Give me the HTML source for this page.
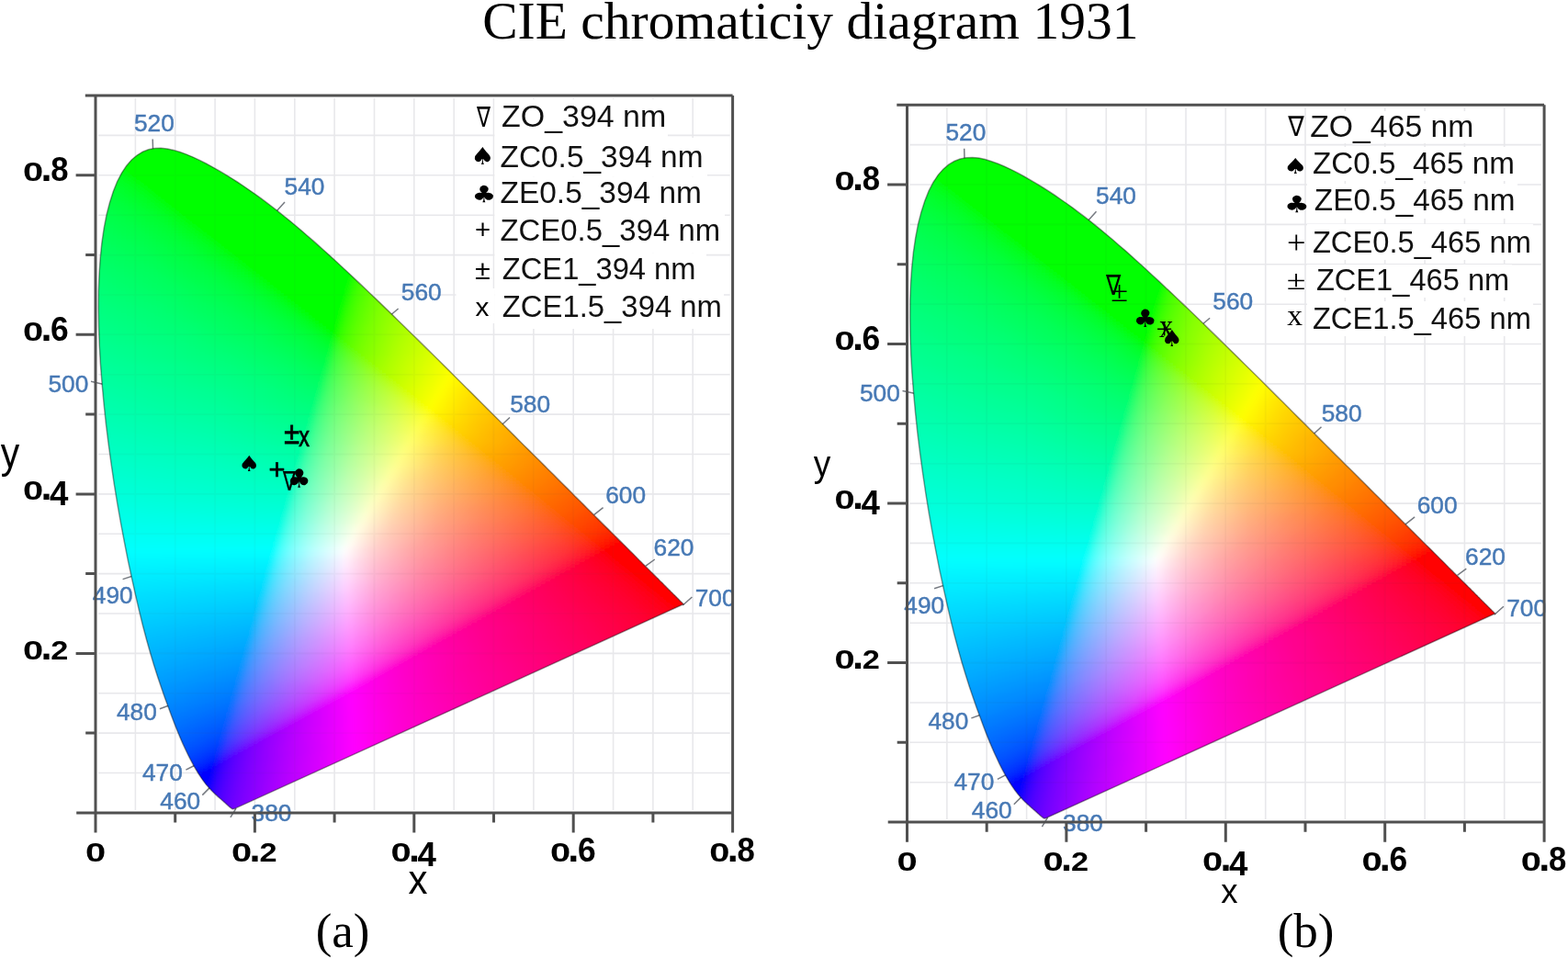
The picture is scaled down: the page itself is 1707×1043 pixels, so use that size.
<!DOCTYPE html>
<html lang="en"><head><meta charset="utf-8"><title>CIE chromaticiy diagram 1931</title>
<style>
html,body{margin:0;padding:0;background:#fff;overflow:hidden}
svg{display:block}
.ser{font-family:"Liberation Serif","DejaVu Serif",serif}
.san{font-family:"Liberation Sans","DejaVu Sans",sans-serif}
.wl{font-family:"Liberation Sans","DejaVu Sans",sans-serif;font-size:26.3px;fill:#4779b5;stroke:#4779b5;stroke-width:.45px}
.tk{font-family:"Liberation Sans","DejaVu Sans",sans-serif;font-weight:bold;font-size:33px;fill:#000}
.lg{font-family:"Liberation Sans","DejaVu Sans",sans-serif;font-size:32.6px;fill:#111}
.mk{font-family:"DejaVu Sans","Liberation Sans",sans-serif;fill:#000}
.grid{stroke:#e8e8eb;stroke-width:1.6;fill:none}
.ax{stroke:#505050;stroke-width:3;fill:none}
.wt{stroke:#777b82;stroke-width:1.5;fill:none}
</style></head><body>
<svg width="1707" height="1043" viewBox="0 0 1707 1043">
<defs>
<clipPath id="locus"><path d="M151.0,-4.3 150.5,-4.3 150.0,-4.1 149.5,-4.2 149.0,-4.2 148.4,-4.5 147.9,-4.9 147.4,-5.2 147.0,-5.6 146.4,-6.0 145.8,-6.5 145.1,-7.1 144.7,-7.4 144.3,-7.8 143.9,-8.2 143.5,-8.6 143.0,-9.0 142.5,-9.4 142.0,-9.9 141.5,-10.4 140.9,-10.9 140.3,-11.4 139.7,-12.0 139.0,-12.6 138.3,-13.2 137.5,-13.9 136.7,-14.6 135.8,-15.4 134.9,-16.1 134.0,-17.0 133.0,-17.8 132.0,-18.8 130.9,-19.7 129.8,-20.8 128.6,-21.9 127.4,-23.1 126.1,-24.4 124.8,-25.8 123.5,-27.2 122.1,-28.8 120.6,-30.5 119.1,-32.5 117.5,-34.6 115.8,-37.0 113.9,-39.8 111.9,-42.9 109.8,-46.4 107.6,-50.1 105.3,-54.3 102.9,-58.8 100.4,-63.8 97.8,-69.3 95.0,-75.3 92.1,-82.0 89.1,-89.2 85.9,-97.2 82.6,-105.8 79.2,-115.1 75.5,-125.2 71.7,-136.1 67.7,-147.9 63.7,-160.5 59.6,-174.1 55.5,-188.7 51.4,-204.1 47.4,-220.5 43.4,-237.7 39.4,-255.9 35.3,-275.0 31.4,-294.9 27.5,-315.5 23.8,-336.6 20.3,-358.1 17.1,-379.8 14.1,-401.7 11.4,-423.6 9.1,-445.4 7.1,-467.1 5.4,-488.5 4.2,-509.4 3.5,-529.6 3.2,-549.2 3.3,-568.1 4.0,-586.4 5.2,-604.0 6.9,-620.6 9.2,-636.3 12.0,-650.9 15.4,-664.2 19.3,-676.4 23.6,-687.2 28.5,-696.6 33.7,-704.5 39.3,-710.9 45.2,-715.9 51.4,-719.6 57.8,-722.1 64.4,-723.4 71.1,-723.7 78.0,-723.0 84.9,-721.5 91.9,-719.4 99.0,-716.8 106.1,-713.8 113.2,-710.5 120.3,-706.9 127.3,-703.1 134.1,-699.2 140.9,-695.2 147.6,-691.1 154.2,-686.9 160.7,-682.6 167.2,-678.1 173.7,-673.6 180.1,-669.0 186.4,-664.2 192.8,-659.4 199.1,-654.5 205.4,-649.4 211.7,-644.3 217.9,-639.1 224.2,-633.8 230.4,-628.4 236.7,-623.0 242.9,-617.5 249.1,-611.9 255.3,-606.3 261.5,-600.6 267.7,-594.9 273.9,-589.2 280.1,-583.3 286.3,-577.5 292.5,-571.6 298.7,-565.7 304.9,-559.8 311.1,-553.8 317.3,-547.8 323.5,-541.8 329.7,-535.7 335.9,-529.7 342.0,-523.7 348.2,-517.6 354.4,-511.5 360.5,-505.5 366.7,-499.4 372.8,-493.4 378.9,-487.3 385.0,-481.3 391.1,-475.2 397.1,-469.2 403.1,-463.2 409.1,-457.3 415.1,-451.3 421.0,-445.4 426.9,-439.5 432.8,-433.7 438.6,-427.9 444.3,-422.2 450.0,-416.5 455.7,-410.8 461.3,-405.2 466.8,-399.7 472.3,-394.3 477.7,-388.9 483.1,-383.6 488.4,-378.3 493.5,-373.2 498.7,-368.1 503.7,-363.0 508.6,-358.1 513.5,-353.3 518.2,-348.6 522.7,-344.0 527.2,-339.6 531.5,-335.3 535.6,-331.2 539.7,-327.1 543.6,-323.2 547.5,-319.3 551.3,-315.5 555.0,-311.8 558.6,-308.3 562.0,-304.9 565.3,-301.6 568.5,-298.5 571.5,-295.5 574.4,-292.6 577.2,-289.8 579.9,-287.1 582.5,-284.5 585.0,-282.1 587.4,-279.7 589.6,-277.4 591.8,-275.2 593.9,-273.2 595.8,-271.2 597.7,-269.3 599.5,-267.5 601.4,-265.7 603.2,-263.9 604.9,-262.2 606.5,-260.6 608.1,-259.0 609.6,-257.5 611.0,-256.1 612.4,-254.8 613.7,-253.5 614.9,-252.2 616.2,-251.0 617.4,-249.8 618.5,-248.6 619.6,-247.5 620.7,-246.5 621.7,-245.4 622.7,-244.5 623.6,-243.5 624.5,-242.6 625.4,-241.8 626.2,-240.9 627.0,-240.2 627.8,-239.4 628.5,-238.7 629.1,-238.0 629.8,-237.4 630.4,-236.8 630.9,-236.3 631.4,-235.7 631.9,-235.3 632.4,-234.8 632.8,-234.3 633.3,-233.9 633.7,-233.5 634.1,-233.1 634.4,-232.8 634.8,-232.4 635.1,-232.1 635.7,-231.5 636.1,-231.0 636.5,-230.6 636.9,-230.3 637.2,-229.9 637.6,-229.6 638.0,-229.2 638.4,-228.8 638.8,-228.4 639.1,-228.0 639.5,-227.7 639.8,-227.4 640.1,-227.1Z"/></clipPath>
<linearGradient id="r0" gradientUnits="userSpaceOnUse" x1="43" x2="99"><stop offset="0" stop-color="#0f0"/><stop offset="1" stop-color="#0f0"/></linearGradient>
<linearGradient id="r1" gradientUnits="userSpaceOnUse" x1="36" x2="108"><stop offset="0" stop-color="#0f0"/><stop offset="1" stop-color="#0f0"/></linearGradient>
<linearGradient id="r2" gradientUnits="userSpaceOnUse" x1="32" x2="116"><stop offset="0" stop-color="#0f0"/><stop offset="1" stop-color="#0f0"/></linearGradient>
<linearGradient id="r3" gradientUnits="userSpaceOnUse" x1="28" x2="122"><stop offset="0" stop-color="#0f0"/><stop offset="1" stop-color="#0f0"/></linearGradient>
<linearGradient id="r4" gradientUnits="userSpaceOnUse" x1="25" x2="129"><stop offset="0" stop-color="#0f0"/><stop offset="1" stop-color="#0f0"/></linearGradient>
<linearGradient id="r5" gradientUnits="userSpaceOnUse" x1="22" x2="134"><stop offset="0" stop-color="#0f0"/><stop offset="1" stop-color="#0f0"/></linearGradient>
<linearGradient id="r6" gradientUnits="userSpaceOnUse" x1="20" x2="140"><stop offset="0" stop-color="#0f0"/><stop offset="1" stop-color="#0f0"/></linearGradient>
<linearGradient id="r7" gradientUnits="userSpaceOnUse" x1="18" x2="145"><stop offset="0" stop-color="#0f0"/><stop offset="1" stop-color="#0f0"/></linearGradient>
<linearGradient id="r8" gradientUnits="userSpaceOnUse" x1="16" x2="150"><stop offset="0" stop-color="#00ff0d"/><stop offset=".037" stop-color="#0f0"/><stop offset="1" stop-color="#0f0"/></linearGradient>
<linearGradient id="r9" gradientUnits="userSpaceOnUse" x1="15" x2="155"><stop offset="0" stop-color="#00ff15"/><stop offset=".071" stop-color="#0f0"/><stop offset="1" stop-color="#0f0"/></linearGradient>
<linearGradient id="r10" gradientUnits="userSpaceOnUse" x1="13" x2="160"><stop offset="0" stop-color="#00ff1c"/><stop offset=".054" stop-color="#00ff12"/><stop offset=".109" stop-color="#0f0"/><stop offset="1" stop-color="#0f0"/></linearGradient>
<linearGradient id="r11" gradientUnits="userSpaceOnUse" x1="12" x2="165"><stop offset="0" stop-color="#0f2"/><stop offset=".072" stop-color="#00ff15"/><stop offset=".137" stop-color="#0f0"/><stop offset="1" stop-color="#0f0"/></linearGradient>
<linearGradient id="r12" gradientUnits="userSpaceOnUse" x1="10" x2="170"><stop offset="0" stop-color="#00ff27"/><stop offset=".1" stop-color="#00ff16"/><stop offset=".163" stop-color="#0f0"/><stop offset="1" stop-color="#0f0"/></linearGradient>
<linearGradient id="r13" gradientUnits="userSpaceOnUse" x1="9" x2="174"><stop offset="0" stop-color="#00ff2b"/><stop offset=".127" stop-color="#00ff16"/><stop offset=".188" stop-color="#0f0"/><stop offset="1" stop-color="#0f0"/></linearGradient>
<linearGradient id="r14" gradientUnits="userSpaceOnUse" x1="8" x2="178"><stop offset="0" stop-color="#00ff2e"/><stop offset=".129" stop-color="#00ff1b"/><stop offset=".212" stop-color="#0f0"/><stop offset="1" stop-color="#0f0"/></linearGradient>
<linearGradient id="r15" gradientUnits="userSpaceOnUse" x1="7" x2="183"><stop offset="0" stop-color="#00ff32"/><stop offset=".153" stop-color="#00ff1b"/><stop offset=".233" stop-color="#0f0"/><stop offset="1" stop-color="#0f0"/></linearGradient>
<linearGradient id="r16" gradientUnits="userSpaceOnUse" x1="6" x2="187"><stop offset="0" stop-color="#00ff35"/><stop offset=".171" stop-color="#00ff1c"/><stop offset=".21" stop-color="#00ff12"/><stop offset=".254" stop-color="#0f0"/><stop offset="1" stop-color="#0f0"/></linearGradient>
<linearGradient id="r17" gradientUnits="userSpaceOnUse" x1="5" x2="191"><stop offset="0" stop-color="#00ff38"/><stop offset=".194" stop-color="#00ff1c"/><stop offset=".242" stop-color="#00ff0d"/><stop offset=".269" stop-color="#0f0"/><stop offset="1" stop-color="#0f0"/></linearGradient>
<linearGradient id="r18" gradientUnits="userSpaceOnUse" x1="4" x2="195"><stop offset="0" stop-color="#00ff3a"/><stop offset=".11" stop-color="#00ff2e"/><stop offset=".209" stop-color="#00ff1d"/><stop offset=".246" stop-color="#00ff13"/><stop offset=".288" stop-color="#0f0"/><stop offset="1" stop-color="#0f0"/></linearGradient>
<linearGradient id="r19" gradientUnits="userSpaceOnUse" x1="3" x2="199"><stop offset="0" stop-color="#00ff3d"/><stop offset=".133" stop-color="#00ff2e"/><stop offset=".224" stop-color="#00ff1e"/><stop offset=".27" stop-color="#0f1"/><stop offset=".306" stop-color="#0f0"/><stop offset="1" stop-color="#0f0"/></linearGradient>
<linearGradient id="r20" gradientUnits="userSpaceOnUse" x1="2" x2="203"><stop offset="0" stop-color="#00ff40"/><stop offset=".199" stop-color="#00ff27"/><stop offset=".279" stop-color="#00ff14"/><stop offset=".323" stop-color="#0f0"/><stop offset="1" stop-color="#0f0"/></linearGradient>
<linearGradient id="r21" gradientUnits="userSpaceOnUse" x1="1" x2="207"><stop offset="0" stop-color="#00ff42"/><stop offset=".223" stop-color="#00ff26"/><stop offset=".296" stop-color="#00ff14"/><stop offset=".335" stop-color="#0f0"/><stop offset="1" stop-color="#0f0"/></linearGradient>
<linearGradient id="r22" gradientUnits="userSpaceOnUse" x1="1" x2="211"><stop offset="0" stop-color="#0f4"/><stop offset=".238" stop-color="#00ff26"/><stop offset=".3" stop-color="#00ff17"/><stop offset=".348" stop-color="#0f0"/><stop offset="1" stop-color="#0f0"/></linearGradient>
<linearGradient id="r23" gradientUnits="userSpaceOnUse" x1="0" x2="215"><stop offset="0" stop-color="#00ff46"/><stop offset=".14" stop-color="#00ff38"/><stop offset=".256" stop-color="#00ff26"/><stop offset=".321" stop-color="#00ff15"/><stop offset=".363" stop-color="#0f0"/><stop offset="1" stop-color="#0f0"/></linearGradient>
<linearGradient id="r24" gradientUnits="userSpaceOnUse" x1="-1" x2="218"><stop offset="0" stop-color="#00ff49"/><stop offset=".137" stop-color="#00ff3b"/><stop offset=".279" stop-color="#00ff25"/><stop offset=".342" stop-color="#00ff13"/><stop offset=".379" stop-color="#0f0"/><stop offset="1" stop-color="#0f0"/></linearGradient>
<linearGradient id="r25" gradientUnits="userSpaceOnUse" x1="-1" x2="222"><stop offset="0" stop-color="#00ff4a"/><stop offset=".161" stop-color="#00ff3a"/><stop offset=".26" stop-color="#00ff2b"/><stop offset=".327" stop-color="#00ff1c"/><stop offset=".39" stop-color="#0f0"/><stop offset="1" stop-color="#0f0"/></linearGradient>
<linearGradient id="r26" gradientUnits="userSpaceOnUse" x1="-2" x2="226"><stop offset="0" stop-color="#00ff4d"/><stop offset=".18" stop-color="#00ff3a"/><stop offset=".276" stop-color="#00ff2b"/><stop offset=".36" stop-color="#00ff16"/><stop offset=".399" stop-color="#0f0"/><stop offset="1" stop-color="#0f0"/></linearGradient>
<linearGradient id="r27" gradientUnits="userSpaceOnUse" x1="-3" x2="229"><stop offset="0" stop-color="#00ff4f"/><stop offset=".168" stop-color="#00ff3e"/><stop offset=".289" stop-color="#00ff2c"/><stop offset=".379" stop-color="#00ff14"/><stop offset=".414" stop-color="#0f0"/><stop offset="1" stop-color="#0f0"/></linearGradient>
<linearGradient id="r28" gradientUnits="userSpaceOnUse" x1="-3" x2="233"><stop offset="0" stop-color="#00ff50"/><stop offset=".199" stop-color="#00ff3c"/><stop offset=".301" stop-color="#00ff2c"/><stop offset=".381" stop-color="#00ff17"/><stop offset=".424" stop-color="#0f0"/><stop offset="1" stop-color="#0f0"/></linearGradient>
<linearGradient id="r29" gradientUnits="userSpaceOnUse" x1="-4" x2="236"><stop offset="0" stop-color="#00ff52"/><stop offset=".125" stop-color="#00ff47"/><stop offset=".317" stop-color="#00ff2c"/><stop offset=".388" stop-color="#00ff1a"/><stop offset=".438" stop-color="#0f0"/><stop offset="1" stop-color="#0f0"/></linearGradient>
<linearGradient id="r30" gradientUnits="userSpaceOnUse" x1="-4" x2="240"><stop offset="0" stop-color="#00ff54"/><stop offset=".168" stop-color="#0f4"/><stop offset=".328" stop-color="#00ff2c"/><stop offset=".41" stop-color="#00ff15"/><stop offset=".443" stop-color="#0f0"/><stop offset="1" stop-color="#0f0"/></linearGradient>
<linearGradient id="r31" gradientUnits="userSpaceOnUse" x1="-5" x2="243"><stop offset="0" stop-color="#00ff56"/><stop offset=".169" stop-color="#00ff46"/><stop offset=".323" stop-color="#00ff30"/><stop offset=".407" stop-color="#00ff1b"/><stop offset=".456" stop-color="#0f0"/><stop offset="1" stop-color="#0f0"/></linearGradient>
<linearGradient id="r32" gradientUnits="userSpaceOnUse" x1="-5" x2="247"><stop offset="0" stop-color="#00ff58"/><stop offset=".167" stop-color="#00ff48"/><stop offset=".333" stop-color="#00ff30"/><stop offset=".413" stop-color="#00ff1c"/><stop offset=".444" stop-color="#00ff0e"/><stop offset=".464" stop-color="#0f0"/><stop offset="1" stop-color="#0f0"/></linearGradient>
<linearGradient id="r33" gradientUnits="userSpaceOnUse" x1="-5" x2="250"><stop offset="0" stop-color="#00ff59"/><stop offset=".173" stop-color="#00ff49"/><stop offset=".329" stop-color="#0f3"/><stop offset=".424" stop-color="#00ff1c"/><stop offset=".451" stop-color="#00ff10"/><stop offset=".475" stop-color="#0f0"/><stop offset="1" stop-color="#0f0"/></linearGradient>
<linearGradient id="r34" gradientUnits="userSpaceOnUse" x1="-6" x2="254"><stop offset="0" stop-color="#00ff5b"/><stop offset=".208" stop-color="#00ff47"/><stop offset=".342" stop-color="#0f3"/><stop offset=".442" stop-color="#00ff19"/><stop offset=".485" stop-color="#0f0"/><stop offset="1" stop-color="#0f0"/></linearGradient>
<linearGradient id="r35" gradientUnits="userSpaceOnUse" x1="-6" x2="257"><stop offset="0" stop-color="#00ff5c"/><stop offset=".205" stop-color="#00ff49"/><stop offset=".354" stop-color="#0f3"/><stop offset=".441" stop-color="#00ff1d"/><stop offset=".471" stop-color="#00ff0f"/><stop offset=".49" stop-color="#0f0"/><stop offset="1" stop-color="#0f0"/></linearGradient>
<linearGradient id="r36" gradientUnits="userSpaceOnUse" x1="-6" x2="260"><stop offset="0" stop-color="#00ff5e"/><stop offset=".203" stop-color="#00ff4b"/><stop offset=".35" stop-color="#00ff36"/><stop offset=".451" stop-color="#00ff1d"/><stop offset=".477" stop-color="#0f1"/><stop offset=".5" stop-color="#0f0"/><stop offset="1" stop-color="#0f0"/></linearGradient>
<linearGradient id="r37" gradientUnits="userSpaceOnUse" x1="-7" x2="264"><stop offset="0" stop-color="#00ff60"/><stop offset=".21" stop-color="#00ff4c"/><stop offset=".373" stop-color="#00ff34"/><stop offset=".458" stop-color="#00ff1e"/><stop offset=".491" stop-color="#00ff0e"/><stop offset=".509" stop-color="#0f0"/><stop offset="1" stop-color="#0f0"/></linearGradient>
<linearGradient id="r38" gradientUnits="userSpaceOnUse" x1="-7" x2="267"><stop offset="0" stop-color="#00ff61"/><stop offset=".208" stop-color="#00ff4e"/><stop offset=".383" stop-color="#00ff34"/><stop offset=".467" stop-color="#00ff1e"/><stop offset=".496" stop-color="#00ff10"/><stop offset=".518" stop-color="#0f0"/><stop offset="1" stop-color="#0f0"/></linearGradient>
<linearGradient id="r39" gradientUnits="userSpaceOnUse" x1="-7" x2="270"><stop offset="0" stop-color="#00ff63"/><stop offset=".213" stop-color="#00ff4f"/><stop offset=".379" stop-color="#00ff37"/><stop offset=".484" stop-color="#00ff1b"/><stop offset=".502" stop-color="#00ff12"/><stop offset=".523" stop-color="#0f0"/><stop offset="1" stop-color="#0f0"/></linearGradient>
<linearGradient id="r40" gradientUnits="userSpaceOnUse" x1="-7" x2="274"><stop offset="0" stop-color="#00ff64"/><stop offset=".235" stop-color="#00ff4e"/><stop offset=".399" stop-color="#00ff35"/><stop offset=".48" stop-color="#00ff1f"/><stop offset=".512" stop-color="#00ff0f"/><stop offset=".53" stop-color="#0f0"/><stop offset="1" stop-color="#0f0"/></linearGradient>
<linearGradient id="r41" gradientUnits="userSpaceOnUse" x1="-8" x2="277"><stop offset="0" stop-color="#0f6"/><stop offset=".189" stop-color="#0f5"/><stop offset=".368" stop-color="#00ff3d"/><stop offset=".491" stop-color="#00ff1f"/><stop offset=".523" stop-color="#00ff0f"/><stop offset=".54" stop-color="#0f0"/><stop offset="1" stop-color="#0f0"/></linearGradient>
<linearGradient id="r42" gradientUnits="userSpaceOnUse" x1="-8" x2="280"><stop offset="0" stop-color="#00ff67"/><stop offset=".222" stop-color="#00ff53"/><stop offset=".396" stop-color="#00ff3a"/><stop offset=".497" stop-color="#00ff20"/><stop offset=".528" stop-color="#0f1"/><stop offset=".549" stop-color="#0f0"/><stop offset="1" stop-color="#0f0"/></linearGradient>
<linearGradient id="r43" gradientUnits="userSpaceOnUse" x1="-8" x2="283"><stop offset="0" stop-color="#00ff69"/><stop offset=".227" stop-color="#00ff54"/><stop offset=".395" stop-color="#00ff3c"/><stop offset=".505" stop-color="#00ff20"/><stop offset=".54" stop-color="#00ff0e"/><stop offset=".557" stop-color="#0f0"/><stop offset="1" stop-color="#0f0"/></linearGradient>
<linearGradient id="r44" gradientUnits="userSpaceOnUse" x1="-8" x2="287"><stop offset="0" stop-color="#00ff6a"/><stop offset=".231" stop-color="#0f5"/><stop offset=".393" stop-color="#00ff3e"/><stop offset=".508" stop-color="#00ff21"/><stop offset=".542" stop-color="#00ff10"/><stop offset=".559" stop-color="#0f0"/><stop offset=".983" stop-color="#0f0"/><stop offset=".986" stop-color="#02ff00"/><stop offset=".993" stop-color="#19ff00"/><stop offset="1" stop-color="#25ff00"/></linearGradient>
<linearGradient id="r45" gradientUnits="userSpaceOnUse" x1="-8" x2="290"><stop offset="0" stop-color="#00ff6b"/><stop offset=".218" stop-color="#00ff58"/><stop offset=".409" stop-color="#00ff3d"/><stop offset=".517" stop-color="#00ff21"/><stop offset=".547" stop-color="#00ff12"/><stop offset=".567" stop-color="#0f0"/><stop offset=".973" stop-color="#0f0"/><stop offset=".977" stop-color="#0eff00"/><stop offset=".983" stop-color="#1eff00"/><stop offset="1" stop-color="#35ff00"/></linearGradient>
<linearGradient id="r46" gradientUnits="userSpaceOnUse" x1="-9" x2="293"><stop offset="0" stop-color="#00ff6d"/><stop offset=".225" stop-color="#00ff59"/><stop offset=".411" stop-color="#00ff3f"/><stop offset=".526" stop-color="#00ff21"/><stop offset=".553" stop-color="#00ff14"/><stop offset=".576" stop-color="#0f0"/><stop offset=".96" stop-color="#0f0"/><stop offset=".967" stop-color="#16ff00"/><stop offset=".974" stop-color="#23ff00"/><stop offset="1" stop-color="#41ff00"/></linearGradient>
<linearGradient id="r47" gradientUnits="userSpaceOnUse" x1="-9" x2="296"><stop offset="0" stop-color="#00ff6e"/><stop offset=".23" stop-color="#00ff5a"/><stop offset=".42" stop-color="#00ff3f"/><stop offset=".531" stop-color="#0f2"/><stop offset=".564" stop-color="#0f1"/><stop offset=".584" stop-color="#0f0"/><stop offset=".948" stop-color="#0f0"/><stop offset=".954" stop-color="#15ff00"/><stop offset=".964" stop-color="#28ff00"/><stop offset=".977" stop-color="#38ff00"/><stop offset="1" stop-color="#4bff00"/></linearGradient>
<linearGradient id="r48" gradientUnits="userSpaceOnUse" x1="-9" x2="299"><stop offset="0" stop-color="#00ff70"/><stop offset=".234" stop-color="#00ff5b"/><stop offset=".435" stop-color="#00ff3e"/><stop offset=".539" stop-color="#0f2"/><stop offset=".568" stop-color="#00ff13"/><stop offset=".588" stop-color="#0f0"/><stop offset=".935" stop-color="#0f0"/><stop offset=".945" stop-color="#1bff00"/><stop offset=".955" stop-color="#2cff00"/><stop offset=".974" stop-color="#41ff00"/><stop offset="1" stop-color="#54ff00"/></linearGradient>
<linearGradient id="r49" gradientUnits="userSpaceOnUse" x1="-9" x2="302"><stop offset="0" stop-color="#00ff71"/><stop offset=".248" stop-color="#00ff5b"/><stop offset=".434" stop-color="#00ff40"/><stop offset=".547" stop-color="#0f2"/><stop offset=".572" stop-color="#00ff15"/><stop offset=".595" stop-color="#0f0"/><stop offset=".923" stop-color="#0f0"/><stop offset=".926" stop-color="#05ff00"/><stop offset=".929" stop-color="#12ff00"/><stop offset=".936" stop-color="#21ff00"/><stop offset=".952" stop-color="#37ff00"/><stop offset="1" stop-color="#5cff00"/></linearGradient>
<linearGradient id="r50" gradientUnits="userSpaceOnUse" x1="-9" x2="306"><stop offset="0" stop-color="#00ff72"/><stop offset=".251" stop-color="#00ff5c"/><stop offset=".448" stop-color="#00ff3f"/><stop offset=".549" stop-color="#00ff23"/><stop offset=".584" stop-color="#00ff10"/><stop offset=".6" stop-color="#0f0"/><stop offset=".908" stop-color="#0f0"/><stop offset=".911" stop-color="#02ff00"/><stop offset=".914" stop-color="#10ff00"/><stop offset=".921" stop-color="#20ff00"/><stop offset=".933" stop-color="#3f0"/><stop offset=".965" stop-color="#50ff00"/><stop offset="1" stop-color="#6f0"/></linearGradient>
<linearGradient id="r51" gradientUnits="userSpaceOnUse" x1="-9" x2="309"><stop offset="0" stop-color="#00ff74"/><stop offset=".255" stop-color="#00ff5d"/><stop offset=".447" stop-color="#00ff41"/><stop offset=".557" stop-color="#00ff23"/><stop offset=".588" stop-color="#00ff12"/><stop offset=".607" stop-color="#0f0"/><stop offset=".899" stop-color="#0f0"/><stop offset=".903" stop-color="#0eff00"/><stop offset=".909" stop-color="#1fff00"/><stop offset=".931" stop-color="#3dff00"/><stop offset=".956" stop-color="#52ff00"/><stop offset="1" stop-color="#6cff00"/></linearGradient>
<linearGradient id="r52" gradientUnits="userSpaceOnUse" x1="-9" x2="312"><stop offset="0" stop-color="#00ff75"/><stop offset=".268" stop-color="#00ff5d"/><stop offset=".445" stop-color="#00ff43"/><stop offset=".523" stop-color="#00ff31"/><stop offset=".564" stop-color="#00ff23"/><stop offset=".592" stop-color="#00ff14"/><stop offset=".614" stop-color="#0f0"/><stop offset=".888" stop-color="#0f0"/><stop offset=".897" stop-color="#1eff00"/><stop offset=".916" stop-color="#39ff00"/><stop offset=".944" stop-color="#52ff00"/><stop offset="1" stop-color="#73ff00"/></linearGradient>
<linearGradient id="r53" gradientUnits="userSpaceOnUse" x1="-9" x2="315"><stop offset="0" stop-color="#00ff76"/><stop offset=".281" stop-color="#00ff5d"/><stop offset=".444" stop-color="#00ff45"/><stop offset=".512" stop-color="#00ff36"/><stop offset=".571" stop-color="#00ff23"/><stop offset=".602" stop-color="#0f1"/><stop offset=".617" stop-color="#0f0"/><stop offset=".877" stop-color="#0f0"/><stop offset=".886" stop-color="#1dff00"/><stop offset=".907" stop-color="#3cff00"/><stop offset=".935" stop-color="#54ff00"/><stop offset="1" stop-color="#79ff00"/></linearGradient>
<linearGradient id="r54" gradientUnits="userSpaceOnUse" x1="-9" x2="318"><stop offset="0" stop-color="#00ff78"/><stop offset=".284" stop-color="#00ff5e"/><stop offset=".459" stop-color="#0f4"/><stop offset=".535" stop-color="#00ff32"/><stop offset=".575" stop-color="#00ff24"/><stop offset=".606" stop-color="#00ff13"/><stop offset=".624" stop-color="#0f0"/><stop offset=".865" stop-color="#0f0"/><stop offset=".872" stop-color="#14ff00"/><stop offset=".881" stop-color="#28ff00"/><stop offset=".905" stop-color="#45ff00"/><stop offset=".951" stop-color="#6f0"/><stop offset="1" stop-color="#7fff00"/></linearGradient>
<linearGradient id="r55" gradientUnits="userSpaceOnUse" x1="-9" x2="321"><stop offset="0" stop-color="#00ff79"/><stop offset=".297" stop-color="#00ff5e"/><stop offset=".458" stop-color="#00ff46"/><stop offset=".57" stop-color="#00ff29"/><stop offset=".609" stop-color="#00ff15"/><stop offset=".63" stop-color="#0f0"/><stop offset=".855" stop-color="#0f0"/><stop offset=".858" stop-color="#05ff00"/><stop offset=".864" stop-color="#1bff00"/><stop offset=".873" stop-color="#2cff00"/><stop offset=".9" stop-color="#4aff00"/><stop offset=".939" stop-color="#6f0"/><stop offset="1" stop-color="#85ff00"/></linearGradient>
<linearGradient id="r56" gradientUnits="userSpaceOnUse" x1="-9" x2="324"><stop offset="0" stop-color="#00ff7a"/><stop offset=".309" stop-color="#00ff5e"/><stop offset=".471" stop-color="#00ff45"/><stop offset=".547" stop-color="#0f3"/><stop offset=".589" stop-color="#00ff24"/><stop offset=".613" stop-color="#00ff17"/><stop offset=".637" stop-color="#0f0"/><stop offset=".844" stop-color="#0f0"/><stop offset=".847" stop-color="#02ff00"/><stop offset=".853" stop-color="#1aff00"/><stop offset=".859" stop-color="#26ff00"/><stop offset=".886" stop-color="#47ff00"/><stop offset=".928" stop-color="#6f0"/><stop offset="1" stop-color="#8aff00"/></linearGradient>
<linearGradient id="r57" gradientUnits="userSpaceOnUse" x1="-9" x2="327"><stop offset="0" stop-color="#00ff7b"/><stop offset=".223" stop-color="#00ff69"/><stop offset=".47" stop-color="#00ff47"/><stop offset=".583" stop-color="#00ff29"/><stop offset=".625" stop-color="#00ff12"/><stop offset=".64" stop-color="#0f0"/><stop offset=".836" stop-color="#0f0"/><stop offset=".839" stop-color="#0fff00"/><stop offset=".845" stop-color="#20ff00"/><stop offset=".86" stop-color="#37ff00"/><stop offset=".875" stop-color="#47ff00"/><stop offset=".929" stop-color="#6dff00"/><stop offset="1" stop-color="#90ff00"/></linearGradient>
<linearGradient id="r58" gradientUnits="userSpaceOnUse" x1="-9" x2="331"><stop offset="0" stop-color="#00ff7d"/><stop offset=".274" stop-color="#00ff65"/><stop offset=".468" stop-color="#00ff49"/><stop offset=".585" stop-color="#00ff2a"/><stop offset=".626" stop-color="#00ff14"/><stop offset=".644" stop-color="#0f0"/><stop offset=".824" stop-color="#0f0"/><stop offset=".829" stop-color="#17ff00"/><stop offset=".835" stop-color="#25ff00"/><stop offset=".844" stop-color="#3f0"/><stop offset=".868" stop-color="#4cff00"/><stop offset=".932" stop-color="#7f0"/><stop offset="1" stop-color="#96ff00"/></linearGradient>
<linearGradient id="r59" gradientUnits="userSpaceOnUse" x1="-9" x2="334"><stop offset="0" stop-color="#00ff7e"/><stop offset=".268" stop-color="#00ff67"/><stop offset=".461" stop-color="#00ff4c"/><stop offset=".542" stop-color="#00ff3a"/><stop offset=".592" stop-color="#00ff2a"/><stop offset=".63" stop-color="#00ff16"/><stop offset=".65" stop-color="#0f0"/><stop offset=".813" stop-color="#0f0"/><stop offset=".822" stop-color="#1eff00"/><stop offset=".831" stop-color="#2eff00"/><stop offset=".866" stop-color="#53ff00"/><stop offset=".921" stop-color="#7f0"/><stop offset="1" stop-color="#9cff00"/></linearGradient>
<linearGradient id="r60" gradientUnits="userSpaceOnUse" x1="-9" x2="337"><stop offset="0" stop-color="#00ff7f"/><stop offset=".234" stop-color="#00ff6c"/><stop offset=".41" stop-color="#00ff56"/><stop offset=".526" stop-color="#00ff40"/><stop offset=".598" stop-color="#00ff2a"/><stop offset=".639" stop-color="#00ff13"/><stop offset=".656" stop-color="#0f0"/><stop offset=".803" stop-color="#0f0"/><stop offset=".812" stop-color="#1cff00"/><stop offset=".824" stop-color="#32ff00"/><stop offset=".855" stop-color="#53ff00"/><stop offset=".91" stop-color="#7f0"/><stop offset="1" stop-color="#a1ff00"/></linearGradient>
<linearGradient id="r61" gradientUnits="userSpaceOnUse" x1="-9" x2="340"><stop offset="0" stop-color="#00ff81"/><stop offset=".238" stop-color="#00ff6d"/><stop offset=".427" stop-color="#0f5"/><stop offset=".521" stop-color="#00ff43"/><stop offset=".605" stop-color="#00ff2a"/><stop offset=".642" stop-color="#00ff15"/><stop offset=".662" stop-color="#0f0"/><stop offset=".794" stop-color="#0f0"/><stop offset=".797" stop-color="#05ff00"/><stop offset=".802" stop-color="#1bff00"/><stop offset=".811" stop-color="#2dff00"/><stop offset=".828" stop-color="#43ff00"/><stop offset=".848" stop-color="#5f0"/><stop offset=".914" stop-color="#7fff00"/><stop offset="1" stop-color="#a6ff00"/></linearGradient>
<linearGradient id="r62" gradientUnits="userSpaceOnUse" x1="-9" x2="343"><stop offset="0" stop-color="#00ff82"/><stop offset=".202" stop-color="#00ff72"/><stop offset=".418" stop-color="#00ff58"/><stop offset=".545" stop-color="#00ff3f"/><stop offset=".611" stop-color="#00ff2a"/><stop offset=".648" stop-color="#00ff15"/><stop offset=".665" stop-color="#0f0"/><stop offset=".784" stop-color="#0f0"/><stop offset=".787" stop-color="#02ff00"/><stop offset=".79" stop-color="#1f0"/><stop offset=".795" stop-color="#21ff00"/><stop offset=".807" stop-color="#35ff00"/><stop offset=".838" stop-color="#5f0"/><stop offset=".915" stop-color="#85ff00"/><stop offset="1" stop-color="#af0"/></linearGradient>
<linearGradient id="r63" gradientUnits="userSpaceOnUse" x1="-9" x2="346"><stop offset="0" stop-color="#00ff83"/><stop offset=".225" stop-color="#00ff71"/><stop offset=".434" stop-color="#00ff57"/><stop offset=".541" stop-color="#00ff42"/><stop offset=".617" stop-color="#00ff2a"/><stop offset=".648" stop-color="#00ff19"/><stop offset=".67" stop-color="#0f0"/><stop offset=".777" stop-color="#0f0"/><stop offset=".783" stop-color="#19ff00"/><stop offset=".794" stop-color="#30ff00"/><stop offset=".828" stop-color="#5f0"/><stop offset=".865" stop-color="#6fff00"/><stop offset=".91" stop-color="#8f0"/><stop offset="1" stop-color="#afff00"/></linearGradient>
<linearGradient id="r64" gradientUnits="userSpaceOnUse" x1="-9" x2="349"><stop offset="0" stop-color="#00ff85"/><stop offset=".268" stop-color="#00ff6e"/><stop offset=".455" stop-color="#0f5"/><stop offset=".556" stop-color="#00ff40"/><stop offset=".623" stop-color="#00ff2a"/><stop offset=".659" stop-color="#00ff14"/><stop offset=".676" stop-color="#0f0"/><stop offset=".768" stop-color="#0f0"/><stop offset=".774" stop-color="#18ff00"/><stop offset=".782" stop-color="#2bff00"/><stop offset=".799" stop-color="#42ff00"/><stop offset=".821" stop-color="#57ff00"/><stop offset=".855" stop-color="#6fff00"/><stop offset=".905" stop-color="#8bff00"/><stop offset="1" stop-color="#b4ff00"/></linearGradient>
<linearGradient id="r65" gradientUnits="userSpaceOnUse" x1="-9" x2="352"><stop offset="0" stop-color="#00ff86"/><stop offset=".233" stop-color="#00ff73"/><stop offset=".44" stop-color="#00ff59"/><stop offset=".56" stop-color="#00ff41"/><stop offset=".629" stop-color="#00ff2a"/><stop offset=".662" stop-color="#00ff16"/><stop offset=".681" stop-color="#0f0"/><stop offset=".759" stop-color="#0f0"/><stop offset=".767" stop-color="#1eff00"/><stop offset=".776" stop-color="#2fff00"/><stop offset=".812" stop-color="#57ff00"/><stop offset=".881" stop-color="#84ff00"/><stop offset="1" stop-color="#b9ff00"/></linearGradient>
<linearGradient id="r66" gradientUnits="userSpaceOnUse" x1="-9" x2="355"><stop offset="0" stop-color="#00ff87"/><stop offset=".247" stop-color="#00ff73"/><stop offset=".456" stop-color="#00ff58"/><stop offset=".563" stop-color="#00ff42"/><stop offset=".635" stop-color="#00ff2a"/><stop offset=".665" stop-color="#00ff18"/><stop offset=".684" stop-color="#0f0"/><stop offset=".75" stop-color="#0f0"/><stop offset=".758" stop-color="#1dff00"/><stop offset=".766" stop-color="#2eff00"/><stop offset=".777" stop-color="#3eff00"/><stop offset=".802" stop-color="#57ff00"/><stop offset=".876" stop-color="#87ff00"/><stop offset="1" stop-color="#beff00"/></linearGradient>
<linearGradient id="r67" gradientUnits="userSpaceOnUse" x1="-9" x2="358"><stop offset="0" stop-color="#0f8"/><stop offset=".289" stop-color="#00ff70"/><stop offset=".477" stop-color="#00ff56"/><stop offset=".559" stop-color="#00ff45"/><stop offset=".624" stop-color="#00ff31"/><stop offset=".668" stop-color="#00ff1a"/><stop offset=".689" stop-color="#0f0"/><stop offset=".741" stop-color="#0f0"/><stop offset=".744" stop-color="#05ff00"/><stop offset=".749" stop-color="#1cff00"/><stop offset=".76" stop-color="#32ff00"/><stop offset=".796" stop-color="#59ff00"/><stop offset=".837" stop-color="#76ff00"/><stop offset=".886" stop-color="#91ff00"/><stop offset="1" stop-color="#c2ff00"/></linearGradient>
<linearGradient id="r68" gradientUnits="userSpaceOnUse" x1="-9" x2="361"><stop offset="0" stop-color="#00ff8a"/><stop offset=".319" stop-color="#00ff6e"/><stop offset=".522" stop-color="#00ff4f"/><stop offset=".595" stop-color="#00ff3d"/><stop offset=".646" stop-color="#00ff2a"/><stop offset=".678" stop-color="#00ff15"/><stop offset=".695" stop-color="#0f0"/><stop offset=".732" stop-color="#0f0"/><stop offset=".735" stop-color="#02ff00"/><stop offset=".738" stop-color="#1f0"/><stop offset=".743" stop-color="#2f0"/><stop offset=".754" stop-color="#36ff00"/><stop offset=".786" stop-color="#59ff00"/><stop offset=".819" stop-color="#71ff00"/><stop offset=".881" stop-color="#94ff00"/><stop offset="1" stop-color="#c7ff00"/></linearGradient>
<linearGradient id="r69" gradientUnits="userSpaceOnUse" x1="-9" x2="364"><stop offset="0" stop-color="#00ff8b"/><stop offset=".287" stop-color="#00ff73"/><stop offset=".52" stop-color="#00ff51"/><stop offset=".638" stop-color="#00ff30"/><stop offset=".681" stop-color="#00ff17"/><stop offset=".7" stop-color="#0f0"/><stop offset=".727" stop-color="#0f0"/><stop offset=".729" stop-color="#0fff00"/><stop offset=".735" stop-color="#21ff00"/><stop offset=".751" stop-color="#3dff00"/><stop offset=".772" stop-color="#54ff00"/><stop offset=".81" stop-color="#71ff00"/><stop offset=".887" stop-color="#9cff00"/><stop offset="1" stop-color="#cbff00"/></linearGradient>
<linearGradient id="r70" gradientUnits="userSpaceOnUse" x1="-9" x2="367"><stop offset="0" stop-color="#00ff8c"/><stop offset=".309" stop-color="#00ff72"/><stop offset=".519" stop-color="#00ff53"/><stop offset=".58" stop-color="#00ff45"/><stop offset=".644" stop-color="#00ff30"/><stop offset=".684" stop-color="#00ff19"/><stop offset=".702" stop-color="#00ff01"/><stop offset=".718" stop-color="#0f0"/><stop offset=".726" stop-color="#20ff00"/><stop offset=".745" stop-color="#40ff00"/><stop offset=".771" stop-color="#5bff00"/><stop offset=".801" stop-color="#71ff00"/><stop offset=".883" stop-color="#9fff00"/><stop offset="1" stop-color="#d0ff00"/></linearGradient>
<linearGradient id="r71" gradientUnits="userSpaceOnUse" x1="-9" x2="370"><stop offset="0" stop-color="#00ff8d"/><stop offset=".285" stop-color="#00ff76"/><stop offset=".512" stop-color="#00ff56"/><stop offset=".583" stop-color="#00ff46"/><stop offset=".652" stop-color="#00ff2f"/><stop offset=".686" stop-color="#00ff1b"/><stop offset=".707" stop-color="#0f0"/><stop offset=".71" stop-color="#0f0"/><stop offset=".718" stop-color="#1fff00"/><stop offset=".734" stop-color="#3cff00"/><stop offset=".763" stop-color="#5bff00"/><stop offset=".792" stop-color="#71ff00"/><stop offset=".871" stop-color="#9eff00"/><stop offset="1" stop-color="#d5ff00"/></linearGradient>
<linearGradient id="r72" gradientUnits="userSpaceOnUse" x1="-9" x2="374"><stop offset="0" stop-color="#00ff8f"/><stop offset=".269" stop-color="#00ff79"/><stop offset=".48" stop-color="#00ff5d"/><stop offset=".619" stop-color="#00ff3d"/><stop offset=".671" stop-color="#00ff27"/><stop offset=".7" stop-color="#00ff10"/><stop offset=".708" stop-color="#1eff03"/><stop offset=".721" stop-color="#38ff00"/><stop offset=".747" stop-color="#56ff00"/><stop offset=".783" stop-color="#73ff00"/><stop offset=".888" stop-color="#acff00"/><stop offset="1" stop-color="#daff00"/></linearGradient>
<linearGradient id="r73" gradientUnits="userSpaceOnUse" x1="-9" x2="377"><stop offset="0" stop-color="#00ff90"/><stop offset=".272" stop-color="#00ff7a"/><stop offset=".466" stop-color="#00ff61"/><stop offset=".609" stop-color="#00ff42"/><stop offset=".661" stop-color="#00ff2f"/><stop offset=".692" stop-color="#00ff1c"/><stop offset=".694" stop-color="#05ff1a"/><stop offset=".697" stop-color="#14ff18"/><stop offset=".702" stop-color="#24ff12"/><stop offset=".712" stop-color="#37ff02"/><stop offset=".718" stop-color="#3fff00"/><stop offset=".738" stop-color="#56ff00"/><stop offset=".775" stop-color="#73ff00"/><stop offset=".876" stop-color="#abff00"/><stop offset="1" stop-color="#dfff00"/></linearGradient>
<linearGradient id="r74" gradientUnits="userSpaceOnUse" x1="-9" x2="380"><stop offset="0" stop-color="#00ff91"/><stop offset=".285" stop-color="#00ff7a"/><stop offset=".476" stop-color="#00ff61"/><stop offset=".602" stop-color="#00ff46"/><stop offset=".684" stop-color="#00ff25"/><stop offset=".686" stop-color="#02ff23"/><stop offset=".689" stop-color="#12ff22"/><stop offset=".694" stop-color="#23ff1e"/><stop offset=".707" stop-color="#3bff12"/><stop offset=".72" stop-color="#4bff00"/><stop offset=".766" stop-color="#73ff00"/><stop offset=".861" stop-color="#a9ff00"/><stop offset="1" stop-color="#e4ff00"/></linearGradient>
<linearGradient id="r75" gradientUnits="userSpaceOnUse" x1="-9" x2="383"><stop offset="0" stop-color="#00ff92"/><stop offset=".24" stop-color="#00ff80"/><stop offset=".454" stop-color="#0f6"/><stop offset=".605" stop-color="#00ff47"/><stop offset=".679" stop-color="#00ff2b"/><stop offset=".681" stop-color="#10ff29"/><stop offset=".686" stop-color="#22ff27"/><stop offset=".702" stop-color="#3eff1c"/><stop offset=".714" stop-color="#4dff0e"/><stop offset=".722" stop-color="#5f0"/><stop offset=".76" stop-color="#75ff00"/><stop offset=".86" stop-color="#adff00"/><stop offset="1" stop-color="#e8ff00"/></linearGradient>
<linearGradient id="r76" gradientUnits="userSpaceOnUse" x1="-9" x2="386"><stop offset="0" stop-color="#00ff94"/><stop offset=".233" stop-color="#00ff82"/><stop offset=".43" stop-color="#00ff6b"/><stop offset=".577" stop-color="#00ff50"/><stop offset=".671" stop-color="#00ff31"/><stop offset=".678" stop-color="#21ff2e"/><stop offset=".691" stop-color="#3aff26"/><stop offset=".711" stop-color="#53ff17"/><stop offset=".727" stop-color="#61ff00"/><stop offset=".752" stop-color="#75ff00"/><stop offset=".858" stop-color="#b1ff00"/><stop offset="1" stop-color="#edff00"/></linearGradient>
<linearGradient id="r77" gradientUnits="userSpaceOnUse" x1="-9" x2="389"><stop offset="0" stop-color="#00ff95"/><stop offset=".226" stop-color="#00ff84"/><stop offset=".427" stop-color="#00ff6d"/><stop offset=".563" stop-color="#0f5"/><stop offset=".663" stop-color="#00ff37"/><stop offset=".671" stop-color="#20ff34"/><stop offset=".688" stop-color="#41ff2b"/><stop offset=".714" stop-color="#5cff19"/><stop offset=".731" stop-color="#6bff00"/><stop offset=".744" stop-color="#75ff00"/><stop offset=".844" stop-color="#afff00"/><stop offset="1" stop-color="#f1ff00"/></linearGradient>
<linearGradient id="r78" gradientUnits="userSpaceOnUse" x1="-8" x2="392"><stop offset="0" stop-color="#00ff96"/><stop offset=".217" stop-color="#00ff86"/><stop offset=".422" stop-color="#00ff6f"/><stop offset=".565" stop-color="#00ff56"/><stop offset=".655" stop-color="#00ff3c"/><stop offset=".66" stop-color="#16ff3a"/><stop offset=".665" stop-color="#25ff38"/><stop offset=".677" stop-color="#3dff33"/><stop offset=".693" stop-color="#50ff2b"/><stop offset=".718" stop-color="#67ff19"/><stop offset=".733" stop-color="#73ff02"/><stop offset=".738" stop-color="#7f0"/><stop offset=".843" stop-color="#b3ff00"/><stop offset="1" stop-color="#f6ff00"/></linearGradient>
<linearGradient id="r79" gradientUnits="userSpaceOnUse" x1="-8" x2="395"><stop offset="0" stop-color="#00ff97"/><stop offset=".365" stop-color="#00ff78"/><stop offset=".514" stop-color="#00ff62"/><stop offset=".648" stop-color="#00ff41"/><stop offset=".65" stop-color="#05ff40"/><stop offset=".653" stop-color="#14ff3f"/><stop offset=".658" stop-color="#24ff3d"/><stop offset=".672" stop-color="#40ff37"/><stop offset=".707" stop-color="#65ff25"/><stop offset=".73" stop-color="#77ff0f"/><stop offset=".739" stop-color="#7eff00"/><stop offset=".841" stop-color="#b7ff00"/><stop offset="1" stop-color="#fbff00"/></linearGradient>
<linearGradient id="r80" gradientUnits="userSpaceOnUse" x1="-8" x2="398"><stop offset="0" stop-color="#0f9"/><stop offset=".384" stop-color="#0f7"/><stop offset=".522" stop-color="#00ff62"/><stop offset=".64" stop-color="#00ff45"/><stop offset=".643" stop-color="#02ff44"/><stop offset=".645" stop-color="#12ff43"/><stop offset=".65" stop-color="#23ff42"/><stop offset=".663" stop-color="#3cff3d"/><stop offset=".687" stop-color="#5aff33"/><stop offset=".724" stop-color="#79ff1a"/><stop offset=".732" stop-color="#7eff12"/><stop offset=".741" stop-color="#84ff00"/><stop offset=".84" stop-color="#bf0"/><stop offset="1" stop-color="#fffe00"/></linearGradient>
<linearGradient id="r81" gradientUnits="userSpaceOnUse" x1="-8" x2="401"><stop offset="0" stop-color="#00ff9a"/><stop offset=".23" stop-color="#00ff89"/><stop offset=".396" stop-color="#0f7"/><stop offset=".531" stop-color="#00ff62"/><stop offset=".636" stop-color="#00ff48"/><stop offset=".641" stop-color="#1bff47"/><stop offset=".645" stop-color="#29ff45"/><stop offset=".66" stop-color="#43ff40"/><stop offset=".687" stop-color="#61ff35"/><stop offset=".726" stop-color="#80ff1c"/><stop offset=".733" stop-color="#85ff15"/><stop offset=".746" stop-color="#8cff00"/><stop offset=".804" stop-color="#aeff00"/><stop offset=".875" stop-color="#d0ff00"/><stop offset=".988" stop-color="#ff0"/><stop offset="1" stop-color="#fffa00"/></linearGradient>
<linearGradient id="r82" gradientUnits="userSpaceOnUse" x1="-8" x2="404"><stop offset="0" stop-color="#00ff9b"/><stop offset=".211" stop-color="#00ff8c"/><stop offset=".383" stop-color="#00ff7a"/><stop offset=".534" stop-color="#00ff63"/><stop offset=".629" stop-color="#00ff4c"/><stop offset=".636" stop-color="#21ff4a"/><stop offset=".65" stop-color="#3fff46"/><stop offset=".68" stop-color="#61ff3b"/><stop offset=".711" stop-color="#7bff2b"/><stop offset=".733" stop-color="#8aff1a"/><stop offset=".75" stop-color="#94ff00"/><stop offset=".813" stop-color="#b7ff00"/><stop offset=".91" stop-color="#e4ff00"/><stop offset=".976" stop-color="#ff0"/><stop offset="1" stop-color="#fff500"/></linearGradient>
<linearGradient id="r83" gradientUnits="userSpaceOnUse" x1="-8" x2="407"><stop offset="0" stop-color="#00ff9c"/><stop offset=".193" stop-color="#00ff8f"/><stop offset=".388" stop-color="#00ff7b"/><stop offset=".516" stop-color="#00ff68"/><stop offset=".622" stop-color="#00ff50"/><stop offset=".627" stop-color="#18ff4f"/><stop offset=".631" stop-color="#27ff4d"/><stop offset=".651" stop-color="#49ff48"/><stop offset=".672" stop-color="#61ff40"/><stop offset=".72" stop-color="#87ff28"/><stop offset=".74" stop-color="#93ff17"/><stop offset=".754" stop-color="#9cff00"/><stop offset=".836" stop-color="#c7ff00"/><stop offset=".964" stop-color="#ff0"/><stop offset="1" stop-color="#fff100"/></linearGradient>
<linearGradient id="r84" gradientUnits="userSpaceOnUse" x1="-7" x2="410"><stop offset="0" stop-color="#00ff9e"/><stop offset=".218" stop-color="#00ff8e"/><stop offset=".398" stop-color="#00ff7b"/><stop offset=".523" stop-color="#00ff68"/><stop offset=".614" stop-color="#00ff54"/><stop offset=".624" stop-color="#26ff51"/><stop offset=".638" stop-color="#42ff4d"/><stop offset=".667" stop-color="#63ff44"/><stop offset=".719" stop-color="#8cff2b"/><stop offset=".739" stop-color="#98ff1c"/><stop offset=".755" stop-color="#a1ff00"/><stop offset=".82" stop-color="#c4ff00"/><stop offset=".952" stop-color="#ff0"/><stop offset="1" stop-color="#ffed00"/></linearGradient>
<linearGradient id="r85" gradientUnits="userSpaceOnUse" x1="-7" x2="413"><stop offset="0" stop-color="#00ff9f"/><stop offset=".352" stop-color="#00ff82"/><stop offset=".51" stop-color="#00ff6c"/><stop offset=".607" stop-color="#00ff57"/><stop offset=".61" stop-color="#06ff57"/><stop offset=".612" stop-color="#15ff56"/><stop offset=".617" stop-color="#25ff55"/><stop offset=".633" stop-color="#45ff50"/><stop offset=".66" stop-color="#63ff48"/><stop offset=".707" stop-color="#89ff35"/><stop offset=".74" stop-color="#9eff1e"/><stop offset=".752" stop-color="#a5ff0f"/><stop offset=".76" stop-color="#a9ff00"/><stop offset=".94" stop-color="#ff0"/><stop offset="1" stop-color="#ffe800"/></linearGradient>
<linearGradient id="r86" gradientUnits="userSpaceOnUse" x1="-7" x2="416"><stop offset="0" stop-color="#00ffa0"/><stop offset=".348" stop-color="#00ff84"/><stop offset=".489" stop-color="#00ff71"/><stop offset=".6" stop-color="#00ff5b"/><stop offset=".603" stop-color="#02ff5a"/><stop offset=".605" stop-color="#13ff5a"/><stop offset=".61" stop-color="#24ff58"/><stop offset=".617" stop-color="#35ff57"/><stop offset=".629" stop-color="#48ff53"/><stop offset=".664" stop-color="#6eff49"/><stop offset=".707" stop-color="#8eff37"/><stop offset=".742" stop-color="#a4ff20"/><stop offset=".754" stop-color="#aaff12"/><stop offset=".764" stop-color="#b0ff00"/><stop offset=".931" stop-color="#ff0"/><stop offset="1" stop-color="#ffe400"/></linearGradient>
<linearGradient id="r87" gradientUnits="userSpaceOnUse" x1="-7" x2="419"><stop offset="0" stop-color="#00ffa1"/><stop offset=".343" stop-color="#00ff86"/><stop offset=".493" stop-color="#00ff72"/><stop offset=".596" stop-color="#00ff5d"/><stop offset=".599" stop-color="#11ff5d"/><stop offset=".606" stop-color="#2aff5b"/><stop offset=".615" stop-color="#3dff59"/><stop offset=".629" stop-color="#51ff55"/><stop offset=".667" stop-color="#76ff4a"/><stop offset=".732" stop-color="#a3ff2b"/><stop offset=".751" stop-color="#adff1b"/><stop offset=".768" stop-color="#b6ff00"/><stop offset=".92" stop-color="#ff0"/><stop offset="1" stop-color="#ffe000"/></linearGradient>
<linearGradient id="r88" gradientUnits="userSpaceOnUse" x1="-7" x2="422"><stop offset="0" stop-color="#00ffa3"/><stop offset=".329" stop-color="#00ff89"/><stop offset=".471" stop-color="#0f7"/><stop offset=".59" stop-color="#00ff61"/><stop offset=".594" stop-color="#1aff60"/><stop offset=".599" stop-color="#29ff5f"/><stop offset=".613" stop-color="#44ff5b"/><stop offset=".629" stop-color="#59ff57"/><stop offset=".662" stop-color="#78ff4d"/><stop offset=".718" stop-color="#9fff36"/><stop offset=".748" stop-color="#b0ff22"/><stop offset=".772" stop-color="#bdff00"/><stop offset=".909" stop-color="#ff0"/><stop offset="1" stop-color="#ffdc00"/></linearGradient>
<linearGradient id="r89" gradientUnits="userSpaceOnUse" x1="-6" x2="425"><stop offset="0" stop-color="#00ffa4"/><stop offset=".376" stop-color="#00ff85"/><stop offset=".582" stop-color="#00ff64"/><stop offset=".587" stop-color="#19ff63"/><stop offset=".594" stop-color="#2eff61"/><stop offset=".603" stop-color="#40ff5f"/><stop offset=".622" stop-color="#59ff5b"/><stop offset=".668" stop-color="#83ff4d"/><stop offset=".719" stop-color="#a5ff38"/><stop offset=".756" stop-color="#baff1d"/><stop offset=".766" stop-color="#bfff10"/><stop offset=".773" stop-color="#c2ff00"/><stop offset=".898" stop-color="#ff0"/><stop offset="1" stop-color="#ffd800"/></linearGradient>
<linearGradient id="r90" gradientUnits="userSpaceOnUse" x1="-6" x2="428"><stop offset="0" stop-color="#00ffa5"/><stop offset=".306" stop-color="#00ff8e"/><stop offset=".435" stop-color="#00ff7f"/><stop offset=".576" stop-color="#00ff67"/><stop offset=".581" stop-color="#17ff66"/><stop offset=".588" stop-color="#2dff64"/><stop offset=".599" stop-color="#43ff62"/><stop offset=".613" stop-color="#56ff5f"/><stop offset=".65" stop-color="#7aff55"/><stop offset=".71" stop-color="#a4ff3f"/><stop offset=".742" stop-color="#b6ff2d"/><stop offset=".758" stop-color="#bfff1f"/><stop offset=".765" stop-color="#c3ff17"/><stop offset=".776" stop-color="#c9ff00"/><stop offset=".887" stop-color="#ff0"/><stop offset="1" stop-color="#ffd500"/></linearGradient>
<linearGradient id="r91" gradientUnits="userSpaceOnUse" x1="-6" x2="431"><stop offset="0" stop-color="#00ffa7"/><stop offset=".311" stop-color="#00ff8f"/><stop offset=".439" stop-color="#00ff80"/><stop offset=".57" stop-color="#00ff6a"/><stop offset=".572" stop-color="#06ff69"/><stop offset=".577" stop-color="#1fff68"/><stop offset=".584" stop-color="#32ff67"/><stop offset=".606" stop-color="#56ff62"/><stop offset=".645" stop-color="#7cff58"/><stop offset=".712" stop-color="#aaff40"/><stop offset=".737" stop-color="#b8ff33"/><stop offset=".762" stop-color="#c6ff1f"/><stop offset=".78" stop-color="#d0ff00"/><stop offset=".879" stop-color="#ff0"/><stop offset=".931" stop-color="#ffe800"/><stop offset="1" stop-color="#ffd100"/></linearGradient>
<linearGradient id="r92" gradientUnits="userSpaceOnUse" x1="-6" x2="434"><stop offset="0" stop-color="#00ffa8"/><stop offset=".316" stop-color="#00ff90"/><stop offset=".436" stop-color="#00ff82"/><stop offset=".564" stop-color="#00ff6d"/><stop offset=".566" stop-color="#02ff6c"/><stop offset=".57" stop-color="#1eff6b"/><stop offset=".58" stop-color="#36ff6a"/><stop offset=".593" stop-color="#4dff67"/><stop offset=".614" stop-color="#65ff62"/><stop offset=".666" stop-color="#91ff53"/><stop offset=".736" stop-color="#bdff36"/><stop offset=".768" stop-color="#ceff1c"/><stop offset=".775" stop-color="#d1ff12"/><stop offset=".782" stop-color="#d5ff01"/><stop offset=".784" stop-color="#d6ff00"/><stop offset=".868" stop-color="#ff0"/><stop offset=".92" stop-color="#ffe800"/><stop offset="1" stop-color="#ffcd00"/></linearGradient>
<linearGradient id="r93" gradientUnits="userSpaceOnUse" x1="-6" x2="437"><stop offset="0" stop-color="#00ffa9"/><stop offset=".321" stop-color="#00ff91"/><stop offset=".56" stop-color="#00ff6f"/><stop offset=".564" stop-color="#1cff6e"/><stop offset=".569" stop-color="#2bff6e"/><stop offset=".582" stop-color="#46ff6b"/><stop offset=".598" stop-color="#5bff67"/><stop offset=".655" stop-color="#8eff59"/><stop offset=".718" stop-color="#b7ff42"/><stop offset=".747" stop-color="#c7ff32"/><stop offset=".767" stop-color="#d2ff21"/><stop offset=".779" stop-color="#d8ff11"/><stop offset=".786" stop-color="#dbff00"/><stop offset=".858" stop-color="#ff0"/><stop offset=".926" stop-color="#ffe200"/><stop offset="1" stop-color="#ffca00"/></linearGradient>
<linearGradient id="r94" gradientUnits="userSpaceOnUse" x1="-5" x2="440"><stop offset="0" stop-color="#0fa"/><stop offset=".324" stop-color="#00ff92"/><stop offset=".553" stop-color="#00ff72"/><stop offset=".557" stop-color="#1bff71"/><stop offset=".564" stop-color="#30ff70"/><stop offset=".578" stop-color="#49ff6d"/><stop offset=".591" stop-color="#5bff6a"/><stop offset=".64" stop-color="#89ff5e"/><stop offset=".721" stop-color="#beff42"/><stop offset=".746" stop-color="#cbff35"/><stop offset=".769" stop-color="#d7ff23"/><stop offset=".778" stop-color="#dcff18"/><stop offset=".789" stop-color="#e2ff00"/><stop offset=".847" stop-color="#ff0"/><stop offset=".915" stop-color="#ffe200"/><stop offset="1" stop-color="#ffc600"/></linearGradient>
<linearGradient id="r95" gradientUnits="userSpaceOnUse" x1="-5" x2="443"><stop offset="0" stop-color="#00ffac"/><stop offset=".319" stop-color="#00ff94"/><stop offset=".547" stop-color="#00ff75"/><stop offset=".551" stop-color="#19ff74"/><stop offset=".558" stop-color="#2fff73"/><stop offset=".569" stop-color="#45ff71"/><stop offset=".585" stop-color="#5bff6d"/><stop offset=".636" stop-color="#8bff61"/><stop offset=".719" stop-color="#c1ff45"/><stop offset=".746" stop-color="#d0ff38"/><stop offset=".772" stop-color="#deff23"/><stop offset=".781" stop-color="#e3ff18"/><stop offset=".792" stop-color="#e8ff00"/><stop offset=".837" stop-color="#ff0"/><stop offset=".917" stop-color="#fd0"/><stop offset="1" stop-color="#ffc300"/></linearGradient>
<linearGradient id="r96" gradientUnits="userSpaceOnUse" x1="-5" x2="446"><stop offset="0" stop-color="#00ffad"/><stop offset=".304" stop-color="#00ff97"/><stop offset=".541" stop-color="#00ff78"/><stop offset=".548" stop-color="#21ff76"/><stop offset=".559" stop-color="#3dff74"/><stop offset=".588" stop-color="#65ff6f"/><stop offset=".639" stop-color="#92ff63"/><stop offset=".732" stop-color="#cdff42"/><stop offset=".776" stop-color="#e4ff23"/><stop offset=".785" stop-color="#e9ff17"/><stop offset=".796" stop-color="#efff00"/><stop offset=".829" stop-color="#fffe00"/><stop offset=".907" stop-color="#fd0"/><stop offset="1" stop-color="#ffbf00"/></linearGradient>
<linearGradient id="r97" gradientUnits="userSpaceOnUse" x1="-4" x2="449"><stop offset="0" stop-color="#00ffae"/><stop offset=".318" stop-color="#00ff97"/><stop offset=".534" stop-color="#00ff7a"/><stop offset=".536" stop-color="#06ff7a"/><stop offset=".541" stop-color="#20ff79"/><stop offset=".55" stop-color="#38ff78"/><stop offset=".563" stop-color="#4fff75"/><stop offset=".587" stop-color="#6cff70"/><stop offset=".645" stop-color="#9cff63"/><stop offset=".737" stop-color="#d5ff41"/><stop offset=".777" stop-color="#eaff25"/><stop offset=".792" stop-color="#f2ff0e"/><stop offset=".797" stop-color="#f4ff00"/><stop offset=".819" stop-color="#ff0"/><stop offset=".898" stop-color="#ffdc00"/><stop offset="1" stop-color="#ffbc00"/></linearGradient>
<linearGradient id="r98" gradientUnits="userSpaceOnUse" x1="-4" x2="452"><stop offset="0" stop-color="#00ffaf"/><stop offset=".303" stop-color="#00ff9a"/><stop offset=".529" stop-color="#00ff7d"/><stop offset=".531" stop-color="#03ff7d"/><stop offset=".533" stop-color="#14ff7c"/><stop offset=".537" stop-color="#26ff7c"/><stop offset=".546" stop-color="#3cff7a"/><stop offset=".57" stop-color="#60ff76"/><stop offset=".592" stop-color="#77ff71"/><stop offset=".645" stop-color="#a1ff65"/><stop offset=".691" stop-color="#beff57"/><stop offset=".757" stop-color="#e4ff38"/><stop offset=".785" stop-color="#f3ff20"/><stop offset=".794" stop-color="#f7ff12"/><stop offset=".8" stop-color="#fbff00"/><stop offset=".809" stop-color="#ff0"/><stop offset=".91" stop-color="#ffd400"/><stop offset="1" stop-color="#ffb900"/></linearGradient>
<linearGradient id="r99" gradientUnits="userSpaceOnUse" x1="-4" x2="455"><stop offset="0" stop-color="#00ffb1"/><stop offset=".318" stop-color="#00ff9a"/><stop offset=".525" stop-color="#00ff7f"/><stop offset=".527" stop-color="#12ff7f"/><stop offset=".529" stop-color="#1dff7f"/><stop offset=".538" stop-color="#37ff7d"/><stop offset=".562" stop-color="#5dff79"/><stop offset=".584" stop-color="#75ff75"/><stop offset=".66" stop-color="#b0ff62"/><stop offset=".712" stop-color="#d0ff51"/><stop offset=".752" stop-color="#e6ff3e"/><stop offset=".786" stop-color="#f8ff22"/><stop offset=".797" stop-color="#feff11"/><stop offset=".804" stop-color="#fffd00"/><stop offset=".88" stop-color="#ffdb00"/><stop offset="1" stop-color="#ffb500"/></linearGradient>
<linearGradient id="r100" gradientUnits="userSpaceOnUse" x1="-4" x2="458"><stop offset="0" stop-color="#00ffb2"/><stop offset=".292" stop-color="#00ff9e"/><stop offset=".519" stop-color="#00ff82"/><stop offset=".524" stop-color="#1cff81"/><stop offset=".535" stop-color="#3bff7f"/><stop offset=".556" stop-color="#5dff7c"/><stop offset=".578" stop-color="#75ff78"/><stop offset=".626" stop-color="#9dff6d"/><stop offset=".697" stop-color="#cbff59"/><stop offset=".738" stop-color="#e3ff48"/><stop offset=".773" stop-color="#f6ff32"/><stop offset=".794" stop-color="#fffd1c"/><stop offset=".807" stop-color="#fff600"/><stop offset=".892" stop-color="#ffd300"/><stop offset="1" stop-color="#ffb200"/></linearGradient>
<linearGradient id="r101" gradientUnits="userSpaceOnUse" x1="-3" x2="461"><stop offset="0" stop-color="#00ffb3"/><stop offset=".274" stop-color="#00ffa1"/><stop offset=".513" stop-color="#00ff85"/><stop offset=".519" stop-color="#23ff84"/><stop offset=".53" stop-color="#3fff82"/><stop offset=".55" stop-color="#5dff7e"/><stop offset=".569" stop-color="#73ff7b"/><stop offset=".625" stop-color="#a2ff6f"/><stop offset=".705" stop-color="#d5ff58"/><stop offset=".748" stop-color="#edff45"/><stop offset=".78" stop-color="#ffff2f"/><stop offset=".795" stop-color="#fff81e"/><stop offset=".802" stop-color="#fff413"/><stop offset=".808" stop-color="#fff101"/><stop offset=".81" stop-color="#fff000"/><stop offset=".901" stop-color="#fc0"/><stop offset="1" stop-color="#ffaf00"/></linearGradient>
<linearGradient id="r102" gradientUnits="userSpaceOnUse" x1="-3" x2="464"><stop offset="0" stop-color="#00ffb5"/><stop offset=".291" stop-color="#00ffa1"/><stop offset=".507" stop-color="#00ff87"/><stop offset=".514" stop-color="#22ff86"/><stop offset=".522" stop-color="#3aff85"/><stop offset=".535" stop-color="#51ff83"/><stop offset=".563" stop-color="#73ff7e"/><stop offset=".597" stop-color="#92ff77"/><stop offset=".638" stop-color="#b0ff6e"/><stop offset=".713" stop-color="#deff57"/><stop offset=".762" stop-color="#faff3f"/><stop offset=".773" stop-color="#ffff38"/><stop offset=".792" stop-color="#fff525"/><stop offset=".805" stop-color="#fe1"/><stop offset=".812" stop-color="#ffeb00"/><stop offset=".884" stop-color="#ffce00"/><stop offset="1" stop-color="#ffac00"/></linearGradient>
<linearGradient id="r103" gradientUnits="userSpaceOnUse" x1="-3" x2="467"><stop offset="0" stop-color="#00ffb6"/><stop offset=".274" stop-color="#00ffa4"/><stop offset=".502" stop-color="#00ff8a"/><stop offset=".504" stop-color="#06ff89"/><stop offset=".506" stop-color="#17ff89"/><stop offset=".511" stop-color="#28ff88"/><stop offset=".519" stop-color="#3eff87"/><stop offset=".536" stop-color="#5aff84"/><stop offset=".557" stop-color="#73ff81"/><stop offset=".585" stop-color="#8dff7b"/><stop offset=".634" stop-color="#b2ff71"/><stop offset=".711" stop-color="#e1ff5a"/><stop offset=".755" stop-color="#fbff45"/><stop offset=".764" stop-color="#ffff40"/><stop offset=".794" stop-color="#fff026"/><stop offset=".804" stop-color="#ffeb18"/><stop offset=".815" stop-color="#ffe600"/><stop offset=".891" stop-color="#ffc800"/><stop offset="1" stop-color="#ffa900"/></linearGradient>
<linearGradient id="r104" gradientUnits="userSpaceOnUse" x1="-2" x2="470"><stop offset="0" stop-color="#00ffb7"/><stop offset=".28" stop-color="#00ffa5"/><stop offset=".496" stop-color="#00ff8c"/><stop offset=".498" stop-color="#03ff8c"/><stop offset=".5" stop-color="#15ff8c"/><stop offset=".504" stop-color="#27ff8b"/><stop offset=".513" stop-color="#3dff8a"/><stop offset=".521" stop-color="#4dff88"/><stop offset=".549" stop-color="#71ff84"/><stop offset=".581" stop-color="#8fff7e"/><stop offset=".625" stop-color="#b1ff74"/><stop offset=".699" stop-color="#e0ff60"/><stop offset=".75" stop-color="#fdff4a"/><stop offset=".794" stop-color="#ffeb27"/><stop offset=".809" stop-color="#ffe413"/><stop offset=".818" stop-color="#ffe000"/><stop offset=".883" stop-color="#ffc700"/><stop offset="1" stop-color="#ffa500"/></linearGradient>
<linearGradient id="r105" gradientUnits="userSpaceOnUse" x1="-2" x2="473"><stop offset="0" stop-color="#00ffb9"/><stop offset=".286" stop-color="#00ffa6"/><stop offset=".493" stop-color="#00ff8e"/><stop offset=".497" stop-color="#1eff8e"/><stop offset=".507" stop-color="#3dff8c"/><stop offset=".531" stop-color="#62ff89"/><stop offset=".554" stop-color="#7cff85"/><stop offset=".617" stop-color="#b0ff78"/><stop offset=".678" stop-color="#d7ff69"/><stop offset=".743" stop-color="#feff50"/><stop offset=".798" stop-color="#ffe526"/><stop offset=".811" stop-color="#ffdf15"/><stop offset=".821" stop-color="#ffdb00"/><stop offset=".882" stop-color="#ffc400"/><stop offset="1" stop-color="#ffa200"/></linearGradient>
<linearGradient id="r106" gradientUnits="userSpaceOnUse" x1="-2" x2="476"><stop offset="0" stop-color="#00ffba"/><stop offset=".257" stop-color="#0fa"/><stop offset=".487" stop-color="#00ff91"/><stop offset=".49" stop-color="#10ff91"/><stop offset=".494" stop-color="#25ff90"/><stop offset=".504" stop-color="#41ff8f"/><stop offset=".525" stop-color="#62ff8b"/><stop offset=".546" stop-color="#7aff88"/><stop offset=".575" stop-color="#95ff83"/><stop offset=".632" stop-color="#bfff77"/><stop offset=".736" stop-color="#ffff56"/><stop offset=".799" stop-color="#ffe027"/><stop offset=".814" stop-color="#ffda14"/><stop offset=".822" stop-color="#ffd700"/><stop offset=".912" stop-color="#ffb700"/><stop offset="1" stop-color="#ff9f00"/></linearGradient>
<linearGradient id="r107" gradientUnits="userSpaceOnUse" x1="-1" x2="479"><stop offset="0" stop-color="#0fb"/><stop offset=".275" stop-color="#0fa"/><stop offset=".481" stop-color="#00ff94"/><stop offset=".487" stop-color="#24ff93"/><stop offset=".496" stop-color="#3cff91"/><stop offset=".508" stop-color="#53ff90"/><stop offset=".537" stop-color="#78ff8b"/><stop offset=".571" stop-color="#97ff85"/><stop offset=".627" stop-color="#c1ff7a"/><stop offset=".719" stop-color="#faff5f"/><stop offset=".729" stop-color="#fffe5b"/><stop offset=".8" stop-color="#ffdc28"/><stop offset=".817" stop-color="#ffd513"/><stop offset=".825" stop-color="#ffd200"/><stop offset=".904" stop-color="#ffb600"/><stop offset="1" stop-color="#ff9c00"/></linearGradient>
<linearGradient id="r108" gradientUnits="userSpaceOnUse" x1="-1" x2="482"><stop offset="0" stop-color="#00ffbd"/><stop offset=".294" stop-color="#0fa"/><stop offset=".476" stop-color="#00ff96"/><stop offset=".482" stop-color="#23ff95"/><stop offset=".493" stop-color="#40ff94"/><stop offset=".513" stop-color="#62ff91"/><stop offset=".532" stop-color="#78ff8e"/><stop offset=".586" stop-color="#a8ff84"/><stop offset=".656" stop-color="#d8ff75"/><stop offset=".714" stop-color="#fcff63"/><stop offset=".793" stop-color="#ffdb30"/><stop offset=".814" stop-color="#ffd21b"/><stop offset=".828" stop-color="#ffcd00"/><stop offset=".896" stop-color="#ffb500"/><stop offset="1" stop-color="#f90"/></linearGradient>
<linearGradient id="r109" gradientUnits="userSpaceOnUse" x1="-1" x2="485"><stop offset="0" stop-color="#00ffbe"/><stop offset=".239" stop-color="#00ffb0"/><stop offset=".471" stop-color="#00ff98"/><stop offset=".473" stop-color="#06ff98"/><stop offset=".475" stop-color="#17ff98"/><stop offset=".477" stop-color="#21ff98"/><stop offset=".486" stop-color="#3bff97"/><stop offset=".5" stop-color="#56ff94"/><stop offset=".525" stop-color="#76ff91"/><stop offset=".582" stop-color="#aaff87"/><stop offset=".712" stop-color="#ff6"/><stop offset=".796" stop-color="#ffd52f"/><stop offset=".817" stop-color="#ffcd1a"/><stop offset=".831" stop-color="#ffc800"/><stop offset="1" stop-color="#ff9600"/></linearGradient>
<linearGradient id="r110" gradientUnits="userSpaceOnUse" x1="0" x2="488"><stop offset="0" stop-color="#00ffbf"/><stop offset=".258" stop-color="#00ffb0"/><stop offset=".465" stop-color="#00ff9b"/><stop offset=".467" stop-color="#03ff9b"/><stop offset=".469" stop-color="#15ff9a"/><stop offset=".473" stop-color="#28ff9a"/><stop offset=".482" stop-color="#3fff99"/><stop offset=".5" stop-color="#5fff96"/><stop offset=".529" stop-color="#81ff92"/><stop offset=".596" stop-color="#baff86"/><stop offset=".703" stop-color="#ffff6b"/><stop offset=".801" stop-color="#ffcf2c"/><stop offset=".82" stop-color="#ffc819"/><stop offset=".834" stop-color="#ffc300"/><stop offset="1" stop-color="#ff9300"/></linearGradient>
<linearGradient id="r111" gradientUnits="userSpaceOnUse" x1="0" x2="491"><stop offset="0" stop-color="#00ffc1"/><stop offset=".279" stop-color="#00ffb0"/><stop offset=".462" stop-color="#00ff9d"/><stop offset=".464" stop-color="#13ff9d"/><stop offset=".466" stop-color="#1fff9d"/><stop offset=".479" stop-color="#43ff9b"/><stop offset=".495" stop-color="#5fff99"/><stop offset=".521" stop-color="#7fff95"/><stop offset=".585" stop-color="#b6ff8a"/><stop offset=".695" stop-color="#ffff70"/><stop offset=".798" stop-color="#ffcd30"/><stop offset=".823" stop-color="#ffc418"/><stop offset=".835" stop-color="#ffbf00"/><stop offset="1" stop-color="#ff9000"/></linearGradient>
<linearGradient id="r112" gradientUnits="userSpaceOnUse" x1="0" x2="494"><stop offset="0" stop-color="#00ffc2"/><stop offset=".261" stop-color="#00ffb3"/><stop offset=".457" stop-color="#00ffa0"/><stop offset=".46" stop-color="#11ff9f"/><stop offset=".464" stop-color="#26ff9f"/><stop offset=".472" stop-color="#3eff9e"/><stop offset=".482" stop-color="#52ff9c"/><stop offset=".514" stop-color="#7dff98"/><stop offset=".577" stop-color="#b5ff8e"/><stop offset=".688" stop-color="#fffe74"/><stop offset=".761" stop-color="#ffd849"/><stop offset=".802" stop-color="#ffc82f"/><stop offset=".826" stop-color="#ffbf17"/><stop offset=".838" stop-color="#fb0"/><stop offset="1" stop-color="#ff8d00"/></linearGradient>
<linearGradient id="r113" gradientUnits="userSpaceOnUse" x1="1" x2="497"><stop offset="0" stop-color="#00ffc3"/><stop offset=".268" stop-color="#00ffb4"/><stop offset=".452" stop-color="#00ffa2"/><stop offset=".456" stop-color="#1cffa2"/><stop offset=".458" stop-color="#25ffa1"/><stop offset=".468" stop-color="#42ffa0"/><stop offset=".478" stop-color="#55ff9f"/><stop offset=".506" stop-color="#7bff9b"/><stop offset=".573" stop-color="#b7ff90"/><stop offset=".679" stop-color="#ffff78"/><stop offset=".754" stop-color="#ffd74e"/><stop offset=".804" stop-color="#ffc32e"/><stop offset=".829" stop-color="#ffba16"/><stop offset=".841" stop-color="#ffb600"/><stop offset="1" stop-color="#ff8a00"/></linearGradient>
<linearGradient id="r114" gradientUnits="userSpaceOnUse" x1="1" x2="500"><stop offset="0" stop-color="#00ffc5"/><stop offset=".251" stop-color="#00ffb7"/><stop offset=".447" stop-color="#00ffa4"/><stop offset=".453" stop-color="#24ffa4"/><stop offset=".461" stop-color="#3dffa3"/><stop offset=".473" stop-color="#55ffa1"/><stop offset=".501" stop-color="#7bff9e"/><stop offset=".565" stop-color="#b6ff94"/><stop offset=".671" stop-color="#ffff7d"/><stop offset=".747" stop-color="#ffd652"/><stop offset=".804" stop-color="#ffc030"/><stop offset=".828" stop-color="#ffb71a"/><stop offset=".844" stop-color="#ffb200"/><stop offset="1" stop-color="#ff8700"/></linearGradient>
<linearGradient id="r115" gradientUnits="userSpaceOnUse" x1="1" x2="503"><stop offset="0" stop-color="#00ffc6"/><stop offset=".231" stop-color="#00ffba"/><stop offset=".442" stop-color="#00ffa7"/><stop offset=".444" stop-color="#07ffa7"/><stop offset=".446" stop-color="#18ffa6"/><stop offset=".448" stop-color="#22ffa6"/><stop offset=".458" stop-color="#41ffa5"/><stop offset=".468" stop-color="#55ffa4"/><stop offset=".494" stop-color="#79ffa0"/><stop offset=".558" stop-color="#b5ff97"/><stop offset=".663" stop-color="#ffff81"/><stop offset=".741" stop-color="#ffd556"/><stop offset=".807" stop-color="#ffbb2f"/><stop offset=".831" stop-color="#ffb319"/><stop offset=".845" stop-color="#ffae00"/><stop offset="1" stop-color="#ff8400"/></linearGradient>
<linearGradient id="r116" gradientUnits="userSpaceOnUse" x1="2" x2="506"><stop offset="0" stop-color="#00ffc8"/><stop offset=".254" stop-color="#00ffba"/><stop offset=".437" stop-color="#00ffa9"/><stop offset=".438" stop-color="#03ffa9"/><stop offset=".44" stop-color="#16ffa9"/><stop offset=".444" stop-color="#29ffa8"/><stop offset=".454" stop-color="#45ffa7"/><stop offset=".476" stop-color="#6affa5"/><stop offset=".494" stop-color="#80ffa2"/><stop offset=".563" stop-color="#bfff98"/><stop offset=".655" stop-color="#ffff86"/><stop offset=".736" stop-color="#ffd359"/><stop offset=".8" stop-color="#ffba35"/><stop offset=".829" stop-color="#ffb01d"/><stop offset=".839" stop-color="#ffad10"/><stop offset=".847" stop-color="#fa0"/><stop offset="1" stop-color="#ff8100"/></linearGradient>
<linearGradient id="r117" gradientUnits="userSpaceOnUse" x1="2" x2="509"><stop offset="0" stop-color="#00ffc9"/><stop offset=".235" stop-color="#00ffbd"/><stop offset=".434" stop-color="#00ffab"/><stop offset=".436" stop-color="#14ffab"/><stop offset=".438" stop-color="#20ffab"/><stop offset=".448" stop-color="#40ffaa"/><stop offset=".46" stop-color="#58ffa9"/><stop offset=".483" stop-color="#79ffa6"/><stop offset=".521" stop-color="#a0ffa1"/><stop offset=".556" stop-color="#beff9b"/><stop offset=".649" stop-color="#fffe89"/><stop offset=".73" stop-color="#ffd25c"/><stop offset=".809" stop-color="#ffb430"/><stop offset=".832" stop-color="#ffac1c"/><stop offset=".85" stop-color="#ffa600"/><stop offset="1" stop-color="#ff7e00"/></linearGradient>
<linearGradient id="r118" gradientUnits="userSpaceOnUse" x1="3" x2="512"><stop offset="0" stop-color="#00ffcb"/><stop offset=".244" stop-color="#00ffbe"/><stop offset=".428" stop-color="#00ffae"/><stop offset=".43" stop-color="#11ffae"/><stop offset=".434" stop-color="#27ffad"/><stop offset=".444" stop-color="#44ffac"/><stop offset=".456" stop-color="#5bffab"/><stop offset=".475" stop-color="#77ffa9"/><stop offset=".538" stop-color="#b5ffa0"/><stop offset=".64" stop-color="#fffe8d"/><stop offset=".723" stop-color="#ffd160"/><stop offset=".806" stop-color="#ffb133"/><stop offset=".837" stop-color="#ffa719"/><stop offset=".853" stop-color="#ffa200"/><stop offset="1" stop-color="#ff7b00"/></linearGradient>
<linearGradient id="r119" gradientUnits="userSpaceOnUse" x1="3" x2="515"><stop offset="0" stop-color="#0fc"/><stop offset=".254" stop-color="#00ffbf"/><stop offset=".424" stop-color="#00ffb0"/><stop offset=".428" stop-color="#1dffb0"/><stop offset=".43" stop-color="#26ffb0"/><stop offset=".439" stop-color="#44ffaf"/><stop offset=".451" stop-color="#5bffad"/><stop offset=".471" stop-color="#77ffab"/><stop offset=".531" stop-color="#b4ffa3"/><stop offset=".633" stop-color="#ffff91"/><stop offset=".719" stop-color="#ffcf62"/><stop offset=".809" stop-color="#ffad32"/><stop offset=".84" stop-color="#ffa318"/><stop offset=".855" stop-color="#ff9e00"/><stop offset="1" stop-color="#ff7800"/></linearGradient>
<linearGradient id="r120" gradientUnits="userSpaceOnUse" x1="3" x2="518"><stop offset="0" stop-color="#00ffcd"/><stop offset=".235" stop-color="#00ffc2"/><stop offset=".419" stop-color="#00ffb3"/><stop offset=".425" stop-color="#25ffb2"/><stop offset=".437" stop-color="#48ffb1"/><stop offset=".449" stop-color="#5effb0"/><stop offset=".47" stop-color="#7cffad"/><stop offset=".534" stop-color="#bbffa5"/><stop offset=".625" stop-color="#ffff95"/><stop offset=".715" stop-color="#ffcd65"/><stop offset=".812" stop-color="#ffa931"/><stop offset=".843" stop-color="#ff9f17"/><stop offset=".856" stop-color="#ff9b00"/><stop offset="1" stop-color="#ff7500"/></linearGradient>
<linearGradient id="r121" gradientUnits="userSpaceOnUse" x1="4" x2="521"><stop offset="0" stop-color="#00ffcf"/><stop offset=".213" stop-color="#00ffc5"/><stop offset=".414" stop-color="#00ffb5"/><stop offset=".416" stop-color="#07ffb5"/><stop offset=".418" stop-color="#19ffb5"/><stop offset=".42" stop-color="#24ffb5"/><stop offset=".429" stop-color="#43ffb4"/><stop offset=".443" stop-color="#5effb2"/><stop offset=".468" stop-color="#81ffaf"/><stop offset=".532" stop-color="#bfffa7"/><stop offset=".617" stop-color="#ff9"/><stop offset=".662" stop-color="#ffe37f"/><stop offset=".708" stop-color="#ffcc68"/><stop offset=".809" stop-color="#ffa634"/><stop offset=".847" stop-color="#ff9a14"/><stop offset=".859" stop-color="#ff9700"/><stop offset="1" stop-color="#ff7200"/></linearGradient>
<linearGradient id="r122" gradientUnits="userSpaceOnUse" x1="4" x2="524"><stop offset="0" stop-color="#00ffd0"/><stop offset=".225" stop-color="#00ffc6"/><stop offset=".41" stop-color="#00ffb8"/><stop offset=".412" stop-color="#03ffb7"/><stop offset=".413" stop-color="#17ffb7"/><stop offset=".417" stop-color="#2bffb7"/><stop offset=".427" stop-color="#47ffb6"/><stop offset=".44" stop-color="#61ffb5"/><stop offset=".458" stop-color="#7affb3"/><stop offset=".513" stop-color="#b4ffac"/><stop offset=".61" stop-color="#ffff9d"/><stop offset=".654" stop-color="#ffe383"/><stop offset=".704" stop-color="#ffca6a"/><stop offset=".813" stop-color="#ffa132"/><stop offset=".842" stop-color="#ff981c"/><stop offset=".862" stop-color="#ff9300"/><stop offset="1" stop-color="#ff6f00"/></linearGradient>
<linearGradient id="r123" gradientUnits="userSpaceOnUse" x1="5" x2="527"><stop offset="0" stop-color="#00ffd2"/><stop offset=".406" stop-color="#00ffba"/><stop offset=".408" stop-color="#15ffba"/><stop offset=".41" stop-color="#21ffba"/><stop offset=".42" stop-color="#42ffb9"/><stop offset=".435" stop-color="#61ffb7"/><stop offset=".456" stop-color="#7fffb5"/><stop offset=".517" stop-color="#bdffae"/><stop offset=".603" stop-color="#fffea0"/><stop offset=".646" stop-color="#ffe387"/><stop offset=".699" stop-color="#ffc86c"/><stop offset=".816" stop-color="#ff9d31"/><stop offset=".843" stop-color="#ff951d"/><stop offset=".864" stop-color="#ff8f00"/><stop offset="1" stop-color="#ff6c00"/></linearGradient>
<linearGradient id="r124" gradientUnits="userSpaceOnUse" x1="5" x2="530"><stop offset="0" stop-color="#00ffd3"/><stop offset=".215" stop-color="#00ffca"/><stop offset=".402" stop-color="#00ffbc"/><stop offset=".406" stop-color="#1fffbc"/><stop offset=".413" stop-color="#3cffbb"/><stop offset=".423" stop-color="#53ffba"/><stop offset=".444" stop-color="#75ffb8"/><stop offset=".465" stop-color="#8fffb6"/><stop offset=".51" stop-color="#bcffb1"/><stop offset=".596" stop-color="#ffffa4"/><stop offset=".636" stop-color="#ffe48c"/><stop offset=".678" stop-color="#ffce76"/><stop offset=".81" stop-color="#ff9c36"/><stop offset=".844" stop-color="#ff921e"/><stop offset=".853" stop-color="#ff8f14"/><stop offset=".865" stop-color="#ff8c00"/><stop offset="1" stop-color="#ff6900"/></linearGradient>
<linearGradient id="r125" gradientUnits="userSpaceOnUse" x1="6" x2="533"><stop offset="0" stop-color="#00ffd5"/><stop offset=".397" stop-color="#00ffbf"/><stop offset=".4" stop-color="#1effbe"/><stop offset=".41" stop-color="#41ffbe"/><stop offset=".421" stop-color="#5affbd"/><stop offset=".444" stop-color="#7dffba"/><stop offset=".509" stop-color="#c0ffb3"/><stop offset=".588" stop-color="#ffffa8"/><stop offset=".628" stop-color="#ffe490"/><stop offset=".676" stop-color="#ffcb77"/><stop offset=".74" stop-color="#ffb059"/><stop offset=".816" stop-color="#ff9733"/><stop offset=".844" stop-color="#ff8e1f"/><stop offset=".856" stop-color="#ff8b13"/><stop offset=".867" stop-color="#f80"/><stop offset="1" stop-color="#f60"/></linearGradient>
<linearGradient id="r126" gradientUnits="userSpaceOnUse" x1="6" x2="536"><stop offset="0" stop-color="#00ffd6"/><stop offset=".225" stop-color="#00ffcd"/><stop offset=".392" stop-color="#00ffc1"/><stop offset=".398" stop-color="#26ffc1"/><stop offset=".404" stop-color="#3bffc0"/><stop offset=".417" stop-color="#5affbf"/><stop offset=".436" stop-color="#78ffbd"/><stop offset=".487" stop-color="#b1ffb8"/><stop offset=".581" stop-color="#ffffac"/><stop offset=".621" stop-color="#ffe493"/><stop offset=".672" stop-color="#ffc979"/><stop offset=".742" stop-color="#ffac58"/><stop offset=".821" stop-color="#ff9231"/><stop offset=".847" stop-color="#ff8a1e"/><stop offset=".87" stop-color="#ff8400"/><stop offset="1" stop-color="#ff6200"/></linearGradient>
<linearGradient id="r127" gradientUnits="userSpaceOnUse" x1="7" x2="539"><stop offset="0" stop-color="#00ffd8"/><stop offset=".387" stop-color="#00ffc4"/><stop offset=".389" stop-color="#07ffc4"/><stop offset=".391" stop-color="#1affc3"/><stop offset=".393" stop-color="#25ffc3"/><stop offset=".4" stop-color="#40ffc3"/><stop offset=".41" stop-color="#56ffc2"/><stop offset=".43" stop-color="#78ffc0"/><stop offset=".487" stop-color="#b7ffba"/><stop offset=".573" stop-color="#ffffaf"/><stop offset=".613" stop-color="#ffe497"/><stop offset=".68" stop-color="#ffc174"/><stop offset=".827" stop-color="#ff8d2e"/><stop offset=".853" stop-color="#ff851a"/><stop offset=".872" stop-color="#ff8000"/><stop offset="1" stop-color="#ff5f00"/></linearGradient>
<linearGradient id="r128" gradientUnits="userSpaceOnUse" x1="7" x2="542"><stop offset="0" stop-color="#00ffd9"/><stop offset=".383" stop-color="#00ffc6"/><stop offset=".385" stop-color="#03ffc6"/><stop offset=".387" stop-color="#18ffc6"/><stop offset=".394" stop-color="#3affc5"/><stop offset=".409" stop-color="#5dffc4"/><stop offset=".428" stop-color="#7bffc2"/><stop offset=".479" stop-color="#b4ffbe"/><stop offset=".568" stop-color="#fffeb2"/><stop offset=".622" stop-color="#ffda91"/><stop offset=".677" stop-color="#ffbf76"/><stop offset=".832" stop-color="#ff882c"/><stop offset=".854" stop-color="#ff821b"/><stop offset=".865" stop-color="#ff7f0e"/><stop offset=".873" stop-color="#ff7d00"/><stop offset="1" stop-color="#ff5c00"/></linearGradient>
<linearGradient id="r129" gradientUnits="userSpaceOnUse" x1="7" x2="545"><stop offset="0" stop-color="#00ffdb"/><stop offset=".381" stop-color="#00ffc8"/><stop offset=".383" stop-color="#15ffc8"/><stop offset=".385" stop-color="#22ffc8"/><stop offset=".392" stop-color="#3fffc8"/><stop offset=".405" stop-color="#5dffc7"/><stop offset=".424" stop-color="#7bffc5"/><stop offset=".48" stop-color="#baffc0"/><stop offset=".561" stop-color="#fffeb6"/><stop offset=".613" stop-color="#ffdb95"/><stop offset=".662" stop-color="#ffc27d"/><stop offset=".725" stop-color="#ffa860"/><stop offset=".823" stop-color="#ff8832"/><stop offset=".855" stop-color="#ff7f1c"/><stop offset=".866" stop-color="#ff7c10"/><stop offset=".875" stop-color="#ff7900"/><stop offset="1" stop-color="#ff5800"/></linearGradient>
<linearGradient id="r130" gradientUnits="userSpaceOnUse" x1="8" x2="548"><stop offset="0" stop-color="#00ffdc"/><stop offset=".376" stop-color="#00ffcb"/><stop offset=".38" stop-color="#20ffcb"/><stop offset=".387" stop-color="#3effca"/><stop offset=".4" stop-color="#5dffc9"/><stop offset=".424" stop-color="#83ffc7"/><stop offset=".48" stop-color="#c0ffc2"/><stop offset=".554" stop-color="#ffffba"/><stop offset=".604" stop-color="#ffdc9a"/><stop offset=".657" stop-color="#ffc07e"/><stop offset=".748" stop-color="#ff9c56"/><stop offset=".831" stop-color="#ff822e"/><stop offset=".861" stop-color="#ff7a18"/><stop offset=".878" stop-color="#ff7500"/><stop offset="1" stop-color="#f50"/></linearGradient>
<linearGradient id="r131" gradientUnits="userSpaceOnUse" x1="8" x2="551"><stop offset="0" stop-color="#00ffde"/><stop offset=".372" stop-color="#00ffcd"/><stop offset=".376" stop-color="#1fffcd"/><stop offset=".378" stop-color="#29ffcd"/><stop offset=".385" stop-color="#43ffcd"/><stop offset=".394" stop-color="#59ffcc"/><stop offset=".411" stop-color="#76ffcb"/><stop offset=".462" stop-color="#b4ffc6"/><stop offset=".547" stop-color="#ffffbd"/><stop offset=".595" stop-color="#ffdd9e"/><stop offset=".674" stop-color="#ffb576"/><stop offset=".788" stop-color="#ff8c45"/><stop offset=".838" stop-color="#ff7d2b"/><stop offset=".862" stop-color="#ff7619"/><stop offset=".88" stop-color="#ff7100"/><stop offset="1" stop-color="#ff5100"/></linearGradient>
<linearGradient id="r132" gradientUnits="userSpaceOnUse" x1="9" x2="554"><stop offset="0" stop-color="#00ffe0"/><stop offset=".367" stop-color="#00ffd0"/><stop offset=".371" stop-color="#1dffd0"/><stop offset=".378" stop-color="#3dffcf"/><stop offset=".387" stop-color="#55ffcf"/><stop offset=".406" stop-color="#76ffcd"/><stop offset=".451" stop-color="#afffca"/><stop offset=".539" stop-color="#ffffc1"/><stop offset=".585" stop-color="#ffdea3"/><stop offset=".67" stop-color="#ffb378"/><stop offset=".802" stop-color="#ff853f"/><stop offset=".844" stop-color="#ff7828"/><stop offset=".862" stop-color="#ff731a"/><stop offset=".883" stop-color="#ff6d00"/><stop offset="1" stop-color="#ff4d00"/></linearGradient>
<linearGradient id="r133" gradientUnits="userSpaceOnUse" x1="9" x2="557"><stop offset="0" stop-color="#00ffe1"/><stop offset=".363" stop-color="#00ffd2"/><stop offset=".365" stop-color="#08ffd2"/><stop offset=".367" stop-color="#1bffd2"/><stop offset=".369" stop-color="#26ffd2"/><stop offset=".376" stop-color="#42ffd2"/><stop offset=".389" stop-color="#60ffd1"/><stop offset=".403" stop-color="#79ffd0"/><stop offset=".429" stop-color="#9bffce"/><stop offset=".456" stop-color="#b9ffcc"/><stop offset=".535" stop-color="#fffec3"/><stop offset=".595" stop-color="#ffd49d"/><stop offset=".666" stop-color="#ffb179"/><stop offset=".748" stop-color="#ff9257"/><stop offset=".839" stop-color="#ff762c"/><stop offset=".863" stop-color="#ff6f1b"/><stop offset=".883" stop-color="#ff6a00"/><stop offset="1" stop-color="#ff4a00"/></linearGradient>
<linearGradient id="r134" gradientUnits="userSpaceOnUse" x1="10" x2="560"><stop offset="0" stop-color="#00ffe3"/><stop offset=".358" stop-color="#00ffd5"/><stop offset=".36" stop-color="#03ffd5"/><stop offset=".362" stop-color="#19ffd5"/><stop offset=".364" stop-color="#25ffd5"/><stop offset=".371" stop-color="#41ffd4"/><stop offset=".384" stop-color="#60ffd3"/><stop offset=".4" stop-color="#7cffd2"/><stop offset=".447" stop-color="#b6ffcf"/><stop offset=".527" stop-color="#fffec7"/><stop offset=".584" stop-color="#ffd6a2"/><stop offset=".662" stop-color="#ffaf7b"/><stop offset=".738" stop-color="#ff925b"/><stop offset=".824" stop-color="#ff7835"/><stop offset=".864" stop-color="#ff6c1c"/><stop offset=".885" stop-color="#f60"/><stop offset="1" stop-color="#ff4600"/></linearGradient>
<linearGradient id="r135" gradientUnits="userSpaceOnUse" x1="10" x2="563"><stop offset="0" stop-color="#00ffe5"/><stop offset=".356" stop-color="#00ffd7"/><stop offset=".358" stop-color="#16ffd7"/><stop offset=".36" stop-color="#23ffd7"/><stop offset=".367" stop-color="#41ffd7"/><stop offset=".38" stop-color="#60ffd6"/><stop offset=".396" stop-color="#7cffd5"/><stop offset=".42" stop-color="#9cffd3"/><stop offset=".452" stop-color="#c0ffd1"/><stop offset=".521" stop-color="#ffffcb"/><stop offset=".573" stop-color="#ffd8a7"/><stop offset=".651" stop-color="#ffb080"/><stop offset=".714" stop-color="#ff9765"/><stop offset=".816" stop-color="#ff773a"/><stop offset=".859" stop-color="#ff6a21"/><stop offset=".877" stop-color="#ff6510"/><stop offset=".888" stop-color="#ff6200"/><stop offset="1" stop-color="#ff4100"/></linearGradient>
<linearGradient id="r136" gradientUnits="userSpaceOnUse" x1="11" x2="566"><stop offset="0" stop-color="#00ffe6"/><stop offset=".351" stop-color="#00ffda"/><stop offset=".353" stop-color="#14ffda"/><stop offset=".355" stop-color="#21ffda"/><stop offset=".362" stop-color="#40ffd9"/><stop offset=".373" stop-color="#5cffd9"/><stop offset=".393" stop-color="#7fffd8"/><stop offset=".443" stop-color="#bdffd4"/><stop offset=".514" stop-color="#ffffcf"/><stop offset=".564" stop-color="#ffd9ac"/><stop offset=".647" stop-color="#ffae81"/><stop offset=".724" stop-color="#ff9061"/><stop offset=".831" stop-color="#ff6f33"/><stop offset=".87" stop-color="#ff6319"/><stop offset=".89" stop-color="#ff5e00"/><stop offset="1" stop-color="#ff3d00"/></linearGradient>
<linearGradient id="r137" gradientUnits="userSpaceOnUse" x1="11" x2="569"><stop offset="0" stop-color="#00ffe8"/><stop offset=".348" stop-color="#0fd"/><stop offset=".351" stop-color="#20ffdc"/><stop offset=".353" stop-color="#2affdc"/><stop offset=".36" stop-color="#45ffdc"/><stop offset=".369" stop-color="#5cffdb"/><stop offset=".391" stop-color="#82ffda"/><stop offset=".434" stop-color="#b8ffd8"/><stop offset=".507" stop-color="#ffffd2"/><stop offset=".573" stop-color="#ffcfa5"/><stop offset=".643" stop-color="#ffac82"/><stop offset=".729" stop-color="#ff8b5f"/><stop offset=".826" stop-color="#ff6d36"/><stop offset=".871" stop-color="#ff601a"/><stop offset=".891" stop-color="#ff5a00"/><stop offset="1" stop-color="#ff3800"/></linearGradient>
<linearGradient id="r138" gradientUnits="userSpaceOnUse" x1="12" x2="572"><stop offset="0" stop-color="#00ffe9"/><stop offset=".343" stop-color="#00ffdf"/><stop offset=".348" stop-color="#29ffdf"/><stop offset=".354" stop-color="#3fffdf"/><stop offset=".359" stop-color="#4fffde"/><stop offset=".379" stop-color="#7fd"/><stop offset=".404" stop-color="#9bffdc"/><stop offset=".443" stop-color="#c8ffda"/><stop offset=".502" stop-color="#fffed5"/><stop offset=".561" stop-color="#ffd2ac"/><stop offset=".648" stop-color="#ffa680"/><stop offset=".825" stop-color="#ff6a37"/><stop offset=".868" stop-color="#ff5d1e"/><stop offset=".884" stop-color="#ff580e"/><stop offset=".893" stop-color="#ff5600"/><stop offset="1" stop-color="#f30"/></linearGradient>
<linearGradient id="r139" gradientUnits="userSpaceOnUse" x1="12" x2="575"><stop offset="0" stop-color="#00ffeb"/><stop offset=".339" stop-color="#00ffe2"/><stop offset=".341" stop-color="#08ffe2"/><stop offset=".343" stop-color="#1cffe2"/><stop offset=".345" stop-color="#27ffe1"/><stop offset=".352" stop-color="#44ffe1"/><stop offset=".364" stop-color="#63ffe1"/><stop offset=".378" stop-color="#7dffe0"/><stop offset=".41" stop-color="#a9ffde"/><stop offset=".437" stop-color="#c7ffdd"/><stop offset=".496" stop-color="#fffed8"/><stop offset=".551" stop-color="#ffd4b1"/><stop offset=".638" stop-color="#ffa784"/><stop offset=".721" stop-color="#ff8762"/><stop offset=".838" stop-color="#ff6231"/><stop offset=".876" stop-color="#ff5719"/><stop offset=".895" stop-color="#ff5100"/><stop offset="1" stop-color="#ff2d00"/></linearGradient>
<linearGradient id="r140" gradientUnits="userSpaceOnUse" x1="13" x2="578"><stop offset="0" stop-color="#00ffed"/><stop offset=".335" stop-color="#00ffe4"/><stop offset=".336" stop-color="#03ffe4"/><stop offset=".338" stop-color="#1affe4"/><stop offset=".34" stop-color="#26ffe4"/><stop offset=".349" stop-color="#49ffe4"/><stop offset=".359" stop-color="#63ffe3"/><stop offset=".375" stop-color="#80ffe3"/><stop offset=".4" stop-color="#a3ffe2"/><stop offset=".428" stop-color="#c4ffe0"/><stop offset=".488" stop-color="#fffedc"/><stop offset=".542" stop-color="#ffd5b5"/><stop offset=".627" stop-color="#ffa889"/><stop offset=".717" stop-color="#ff8564"/><stop offset=".834" stop-color="#ff6034"/><stop offset=".871" stop-color="#ff551e"/><stop offset=".897" stop-color="#ff4d00"/><stop offset="1" stop-color="#ff2700"/></linearGradient>
<linearGradient id="r141" gradientUnits="userSpaceOnUse" x1="13" x2="581"><stop offset="0" stop-color="#00ffef"/><stop offset=".333" stop-color="#00ffe7"/><stop offset=".335" stop-color="#17ffe7"/><stop offset=".336" stop-color="#24ffe7"/><stop offset=".342" stop-color="#3dffe7"/><stop offset=".35" stop-color="#57ffe6"/><stop offset=".363" stop-color="#71ffe6"/><stop offset=".4" stop-color="#a8ffe4"/><stop offset=".437" stop-color="#d2ffe3"/><stop offset=".482" stop-color="#ffffe0"/><stop offset=".546" stop-color="#ffceb2"/><stop offset=".632" stop-color="#ffa286"/><stop offset=".713" stop-color="#ff8365"/><stop offset=".833" stop-color="#ff5d35"/><stop offset=".875" stop-color="#ff501c"/><stop offset=".891" stop-color="#ff4b0c"/><stop offset=".898" stop-color="#ff4800"/><stop offset=".961" stop-color="#ff3200"/><stop offset="1" stop-color="#ff1f00"/></linearGradient>
<linearGradient id="r142" gradientUnits="userSpaceOnUse" x1="14" x2="584"><stop offset="0" stop-color="#00fff0"/><stop offset=".328" stop-color="#00ffea"/><stop offset=".332" stop-color="#23ffe9"/><stop offset=".337" stop-color="#3cffe9"/><stop offset=".347" stop-color="#5bffe9"/><stop offset=".358" stop-color="#71ffe9"/><stop offset=".398" stop-color="#adffe7"/><stop offset=".475" stop-color="#ffffe4"/><stop offset=".535" stop-color="#ffd0b7"/><stop offset=".621" stop-color="#ffa38a"/><stop offset=".7" stop-color="#ff846a"/><stop offset=".842" stop-color="#ff5631"/><stop offset=".875" stop-color="#ff4b1d"/><stop offset=".889" stop-color="#ff4710"/><stop offset=".9" stop-color="#ff4300"/><stop offset=".961" stop-color="#ff2c00"/><stop offset="1" stop-color="#ff1600"/></linearGradient>
<linearGradient id="r143" gradientUnits="userSpaceOnUse" x1="14" x2="587"><stop offset="0" stop-color="#00fff2"/><stop offset=".325" stop-color="#00ffec"/><stop offset=".328" stop-color="#21ffec"/><stop offset=".335" stop-color="#42ffec"/><stop offset=".344" stop-color="#5bffec"/><stop offset=".354" stop-color="#71ffeb"/><stop offset=".37" stop-color="#8cffeb"/><stop offset=".398" stop-color="#b2ffea"/><stop offset=".469" stop-color="#ffffe7"/><stop offset=".504" stop-color="#ffe1cb"/><stop offset=".543" stop-color="#ffc7b1"/><stop offset=".62" stop-color="#ffa08b"/><stop offset=".71" stop-color="#ff7d66"/><stop offset=".841" stop-color="#ff5332"/><stop offset=".88" stop-color="#ff461b"/><stop offset=".902" stop-color="#ff3e00"/><stop offset=".96" stop-color="#ff2600"/><stop offset=".984" stop-color="#ff1700"/><stop offset="1" stop-color="#ff0600"/></linearGradient>
<linearGradient id="r144" gradientUnits="userSpaceOnUse" x1="15" x2="591"><stop offset="0" stop-color="#00fff4"/><stop offset=".319" stop-color="#00ffef"/><stop offset=".323" stop-color="#1fffef"/><stop offset=".328" stop-color="#3bffef"/><stop offset=".34" stop-color="#5fffee"/><stop offset=".354" stop-color="#7bffee"/><stop offset=".396" stop-color="#b7ffed"/><stop offset=".464" stop-color="#fffeea"/><stop offset=".5" stop-color="#ffdfcb"/><stop offset=".528" stop-color="#ffcbb9"/><stop offset=".608" stop-color="#ffa18f"/><stop offset=".696" stop-color="#ff7e6b"/><stop offset=".837" stop-color="#ff5034"/><stop offset=".882" stop-color="#ff4019"/><stop offset=".903" stop-color="#ff3800"/><stop offset=".95" stop-color="#ff2300"/><stop offset=".974" stop-color="#ff1200"/><stop offset=".988" stop-color="#ff0100"/><stop offset="1" stop-color="#f00"/></linearGradient>
<linearGradient id="r145" gradientUnits="userSpaceOnUse" x1="15" x2="594"><stop offset="0" stop-color="#00fff6"/><stop offset=".316" stop-color="#00fff2"/><stop offset=".318" stop-color="#08fff2"/><stop offset=".32" stop-color="#1dfff2"/><stop offset=".321" stop-color="#29fff2"/><stop offset=".325" stop-color="#3afff2"/><stop offset=".333" stop-color="#56fff1"/><stop offset=".349" stop-color="#78fff1"/><stop offset=".364" stop-color="#92fff1"/><stop offset=".396" stop-color="#bcfff0"/><stop offset=".458" stop-color="#fffeee"/><stop offset=".48" stop-color="#ffead9"/><stop offset=".518" stop-color="#ffcdbe"/><stop offset=".606" stop-color="#ff9e8f"/><stop offset=".698" stop-color="#ff7a6a"/><stop offset=".836" stop-color="#ff4c35"/><stop offset=".883" stop-color="#ff3b1a"/><stop offset=".905" stop-color="#ff3200"/><stop offset=".952" stop-color="#ff1900"/><stop offset=".974" stop-color="#f00"/><stop offset="1" stop-color="#f00"/></linearGradient>
<linearGradient id="r146" gradientUnits="userSpaceOnUse" x1="16" x2="597"><stop offset="0" stop-color="#00fff8"/><stop offset=".312" stop-color="#00fff4"/><stop offset=".313" stop-color="#03fff4"/><stop offset=".315" stop-color="#1bfff4"/><stop offset=".317" stop-color="#28fff4"/><stop offset=".322" stop-color="#40fff4"/><stop offset=".33" stop-color="#5afff4"/><stop offset=".343" stop-color="#75fff4"/><stop offset=".361" stop-color="#95fff4"/><stop offset=".384" stop-color="#b4fff3"/><stop offset=".451" stop-color="#fffff1"/><stop offset=".508" stop-color="#ffcfc3"/><stop offset=".589" stop-color="#ffa297"/><stop offset=".671" stop-color="#ff8074"/><stop offset=".843" stop-color="#ff4532"/><stop offset=".886" stop-color="#ff3418"/><stop offset=".905" stop-color="#ff2b00"/><stop offset=".94" stop-color="#ff1700"/><stop offset=".96" stop-color="#f00"/><stop offset="1" stop-color="#f00"/></linearGradient>
<linearGradient id="r147" gradientUnits="userSpaceOnUse" x1="17" x2="600"><stop offset="0" stop-color="#00fff9"/><stop offset=".309" stop-color="#00fff7"/><stop offset=".31" stop-color="#18fff7"/><stop offset=".312" stop-color="#26fff7"/><stop offset=".317" stop-color="#3ffff7"/><stop offset=".326" stop-color="#5afff7"/><stop offset=".338" stop-color="#75fff7"/><stop offset=".355" stop-color="#93fff7"/><stop offset=".381" stop-color="#b7fff6"/><stop offset=".444" stop-color="#fffff5"/><stop offset=".499" stop-color="#ffd0c7"/><stop offset=".578" stop-color="#ffa39b"/><stop offset=".678" stop-color="#ff7a72"/><stop offset=".842" stop-color="#ff4133"/><stop offset=".89" stop-color="#ff2c16"/><stop offset=".907" stop-color="#ff2300"/><stop offset=".931" stop-color="#ff1200"/><stop offset=".945" stop-color="#f00"/><stop offset="1" stop-color="#f00"/></linearGradient>
<linearGradient id="r148" gradientUnits="userSpaceOnUse" x1="17" x2="603"><stop offset="0" stop-color="#00fffb"/><stop offset=".305" stop-color="#00fffa"/><stop offset=".309" stop-color="#24fffa"/><stop offset=".316" stop-color="#45fffa"/><stop offset=".323" stop-color="#5afffa"/><stop offset=".34" stop-color="#7ffffa"/><stop offset=".379" stop-color="#bafff9"/><stop offset=".439" stop-color="#fffff9"/><stop offset=".495" stop-color="#ffcfc9"/><stop offset=".568" stop-color="#ffa49f"/><stop offset=".671" stop-color="#ff7974"/><stop offset=".841" stop-color="#ff3c34"/><stop offset=".886" stop-color="#ff281b"/><stop offset=".91" stop-color="#ff1900"/><stop offset=".932" stop-color="#f00"/><stop offset="1" stop-color="#f00"/></linearGradient>
<linearGradient id="r149" gradientUnits="userSpaceOnUse" x1="18" x2="606"><stop offset="0" stop-color="#00fffd"/><stop offset=".301" stop-color="#00fffd"/><stop offset=".304" stop-color="#22fffd"/><stop offset=".31" stop-color="#3efffd"/><stop offset=".32" stop-color="#5efffd"/><stop offset=".333" stop-color="#7cfffd"/><stop offset=".355" stop-color="#a1fffd"/><stop offset=".376" stop-color="#bdfffd"/><stop offset=".434" stop-color="#fffefb"/><stop offset=".476" stop-color="#ffd7d5"/><stop offset=".543" stop-color="#ffadab"/><stop offset=".622" stop-color="#ff8887"/><stop offset=".84" stop-color="#ff3735"/><stop offset=".884" stop-color="#ff211d"/><stop offset=".912" stop-color="#ff0800"/><stop offset=".917" stop-color="#f00"/><stop offset="1" stop-color="#f00"/></linearGradient>
<linearGradient id="r150" gradientUnits="userSpaceOnUse" x1="18" x2="609"><stop offset="0" stop-color="#0ff"/><stop offset=".298" stop-color="#00feff"/><stop offset=".301" stop-color="#20feff"/><stop offset=".306" stop-color="#3dfeff"/><stop offset=".315" stop-color="#59feff"/><stop offset=".33" stop-color="#7cfeff"/><stop offset=".364" stop-color="#b2feff"/><stop offset=".428" stop-color="#fffeff"/><stop offset=".457" stop-color="#ffe2e3"/><stop offset=".482" stop-color="#ffced0"/><stop offset=".555" stop-color="#ffa3a4"/><stop offset=".658" stop-color="#ff7778"/><stop offset=".836" stop-color="#ff3437"/><stop offset=".88" stop-color="#ff1b21"/><stop offset=".904" stop-color="#ff000d"/><stop offset=".912" stop-color="#f00"/><stop offset="1" stop-color="#f00"/></linearGradient>
<linearGradient id="r151" gradientUnits="userSpaceOnUse" x1="19" x2="612"><stop offset="0" stop-color="#00fdff"/><stop offset=".293" stop-color="#00fbff"/><stop offset=".295" stop-color="#09fbff"/><stop offset=".297" stop-color="#1efbff"/><stop offset=".298" stop-color="#2afbff"/><stop offset=".304" stop-color="#42fbff"/><stop offset=".315" stop-color="#65fbff"/><stop offset=".329" stop-color="#81fbff"/><stop offset=".371" stop-color="#c0fbff"/><stop offset=".427" stop-color="#fff9fe"/><stop offset=".481" stop-color="#ffcacf"/><stop offset=".562" stop-color="#ff9ca0"/><stop offset=".644" stop-color="#ff787d"/><stop offset=".831" stop-color="#ff3039"/><stop offset=".865" stop-color="#ff1c2a"/><stop offset=".88" stop-color="#ff0d21"/><stop offset=".889" stop-color="#ff001c"/><stop offset=".901" stop-color="#ff0012"/><stop offset=".914" stop-color="#f00"/><stop offset="1" stop-color="#f00"/></linearGradient>
<linearGradient id="r152" gradientUnits="userSpaceOnUse" x1="19" x2="615"><stop offset="0" stop-color="#00fbff"/><stop offset=".29" stop-color="#00f9ff"/><stop offset=".292" stop-color="#03f9ff"/><stop offset=".294" stop-color="#1bf9ff"/><stop offset=".295" stop-color="#28f9ff"/><stop offset=".302" stop-color="#47f9ff"/><stop offset=".32" stop-color="#76f8ff"/><stop offset=".341" stop-color="#99f8ff"/><stop offset=".362" stop-color="#b8f8ff"/><stop offset=".424" stop-color="#fff6fe"/><stop offset=".482" stop-color="#ffc5cd"/><stop offset=".55" stop-color="#ff9ea5"/><stop offset=".631" stop-color="#ff7a82"/><stop offset=".819" stop-color="#ff303f"/><stop offset=".856" stop-color="#ff192f"/><stop offset=".876" stop-color="#ff0025"/><stop offset=".901" stop-color="#ff0013"/><stop offset=".916" stop-color="#f00"/><stop offset="1" stop-color="#f00"/></linearGradient>
<linearGradient id="r153" gradientUnits="userSpaceOnUse" x1="20" x2="618"><stop offset="0" stop-color="#00f9ff"/><stop offset=".288" stop-color="#00f6ff"/><stop offset=".289" stop-color="#18f6ff"/><stop offset=".291" stop-color="#26f6ff"/><stop offset=".296" stop-color="#3ff6ff"/><stop offset=".304" stop-color="#5af6ff"/><stop offset=".318" stop-color="#78f5ff"/><stop offset=".334" stop-color="#95f5ff"/><stop offset=".363" stop-color="#bdf4ff"/><stop offset=".421" stop-color="#fff2fe"/><stop offset=".448" stop-color="#ffd9e5"/><stop offset=".485" stop-color="#ffbec9"/><stop offset=".557" stop-color="#ff96a1"/><stop offset=".654" stop-color="#ff6d79"/><stop offset=".806" stop-color="#ff3044"/><stop offset=".841" stop-color="#ff1a36"/><stop offset=".863" stop-color="#ff002c"/><stop offset=".893" stop-color="#ff001b"/><stop offset=".918" stop-color="#f00"/><stop offset="1" stop-color="#f00"/></linearGradient>
<linearGradient id="r154" gradientUnits="userSpaceOnUse" x1="21" x2="621"><stop offset="0" stop-color="#00f7ff"/><stop offset=".283" stop-color="#00f3ff"/><stop offset=".287" stop-color="#24f3ff"/><stop offset=".293" stop-color="#44f3ff"/><stop offset=".302" stop-color="#5df3ff"/><stop offset=".315" stop-color="#7af2ff"/><stop offset=".353" stop-color="#b5f1ff"/><stop offset=".418" stop-color="#ffefff"/><stop offset=".445" stop-color="#ffd6e5"/><stop offset=".477" stop-color="#ffbfcd"/><stop offset=".562" stop-color="#ff909e"/><stop offset=".645" stop-color="#ff6d7c"/><stop offset=".793" stop-color="#ff3049"/><stop offset=".827" stop-color="#ff1b3c"/><stop offset=".848" stop-color="#f03"/><stop offset=".89" stop-color="#ff001e"/><stop offset=".92" stop-color="#f00"/><stop offset="1" stop-color="#f00"/></linearGradient>
<linearGradient id="r155" gradientUnits="userSpaceOnUse" x1="21" x2="624"><stop offset="0" stop-color="#00f5ff"/><stop offset=".28" stop-color="#00f0ff"/><stop offset=".284" stop-color="#21f0ff"/><stop offset=".289" stop-color="#3cf0ff"/><stop offset=".297" stop-color="#57f0ff"/><stop offset=".315" stop-color="#7fefff"/><stop offset=".355" stop-color="#baeeff"/><stop offset=".416" stop-color="#ffecff"/><stop offset=".471" stop-color="#ffbed0"/><stop offset=".552" stop-color="#ff91a2"/><stop offset=".629" stop-color="#ff6f82"/><stop offset=".781" stop-color="#ff304d"/><stop offset=".813" stop-color="#ff1c42"/><stop offset=".836" stop-color="#ff0039"/><stop offset=".897" stop-color="#ff001a"/><stop offset=".92" stop-color="#f00"/><stop offset="1" stop-color="#f00"/></linearGradient>
<linearGradient id="r156" gradientUnits="userSpaceOnUse" x1="22" x2="627"><stop offset="0" stop-color="#00f3ff"/><stop offset=".276" stop-color="#0ef"/><stop offset=".281" stop-color="#2aedff"/><stop offset=".286" stop-color="#41edff"/><stop offset=".293" stop-color="#56edff"/><stop offset=".304" stop-color="#71edff"/><stop offset=".322" stop-color="#91ecff"/><stop offset=".345" stop-color="#b2ebff"/><stop offset=".413" stop-color="#ffe8ff"/><stop offset=".44" stop-color="#ffd1e6"/><stop offset=".476" stop-color="#ffb6cb"/><stop offset=".542" stop-color="#ff91a6"/><stop offset=".633" stop-color="#ff6a80"/><stop offset=".769" stop-color="#ff3052"/><stop offset=".798" stop-color="#ff1d47"/><stop offset=".812" stop-color="#ff1043"/><stop offset=".821" stop-color="#ff003f"/><stop offset=".896" stop-color="#ff001c"/><stop offset=".922" stop-color="#f00"/><stop offset="1" stop-color="#f00"/></linearGradient>
<linearGradient id="r157" gradientUnits="userSpaceOnUse" x1="22" x2="630"><stop offset="0" stop-color="#00f1ff"/><stop offset=".273" stop-color="#00ebff"/><stop offset=".275" stop-color="#08ebff"/><stop offset=".276" stop-color="#1cebff"/><stop offset=".278" stop-color="#28ebff"/><stop offset=".281" stop-color="#39ebff"/><stop offset=".291" stop-color="#59eaff"/><stop offset=".303" stop-color="#73eaff"/><stop offset=".319" stop-color="#90e9ff"/><stop offset=".345" stop-color="#b5e8ff"/><stop offset=".411" stop-color="#ffe5ff"/><stop offset=".467" stop-color="#ffb8d0"/><stop offset=".548" stop-color="#ff8ba3"/><stop offset=".63" stop-color="#ff6781"/><stop offset=".757" stop-color="#ff3056"/><stop offset=".785" stop-color="#ff1e4c"/><stop offset=".809" stop-color="#f04"/><stop offset=".875" stop-color="#ff0029"/><stop offset=".906" stop-color="#ff0015"/><stop offset=".924" stop-color="#f00"/><stop offset="1" stop-color="#f00"/></linearGradient>
<linearGradient id="r158" gradientUnits="userSpaceOnUse" x1="23" x2="633"><stop offset="0" stop-color="#00f0ff"/><stop offset=".269" stop-color="#00e8ff"/><stop offset=".27" stop-color="#03e8ff"/><stop offset=".272" stop-color="#1ae8ff"/><stop offset=".275" stop-color="#30e8ff"/><stop offset=".28" stop-color="#44e8ff"/><stop offset=".292" stop-color="#64e7ff"/><stop offset=".308" stop-color="#84e7ff"/><stop offset=".334" stop-color="#abe5ff"/><stop offset=".367" stop-color="#d3e4ff"/><stop offset=".41" stop-color="#ffe0fe"/><stop offset=".459" stop-color="#ffb8d4"/><stop offset=".546" stop-color="#ff88a3"/><stop offset=".626" stop-color="#ff6482"/><stop offset=".744" stop-color="#ff305a"/><stop offset=".78" stop-color="#ff164e"/><stop offset=".795" stop-color="#ff0049"/><stop offset=".884" stop-color="#ff0025"/><stop offset=".907" stop-color="#ff0016"/><stop offset=".926" stop-color="#f00"/><stop offset="1" stop-color="#f00"/></linearGradient>
<linearGradient id="r159" gradientUnits="userSpaceOnUse" x1="24" x2="636"><stop offset="0" stop-color="#0ef"/><stop offset=".266" stop-color="#00e6ff"/><stop offset=".268" stop-color="#17e6ff"/><stop offset=".27" stop-color="#24e5ff"/><stop offset=".276" stop-color="#43e5ff"/><stop offset=".286" stop-color="#5fe5ff"/><stop offset=".302" stop-color="#80e4ff"/><stop offset=".325" stop-color="#a3e3ff"/><stop offset=".355" stop-color="#c8e1ff"/><stop offset=".407" stop-color="#ffddfe"/><stop offset=".464" stop-color="#ffb0cf"/><stop offset=".536" stop-color="#ff88a7"/><stop offset=".623" stop-color="#ff6283"/><stop offset=".732" stop-color="#ff305e"/><stop offset=".765" stop-color="#ff1953"/><stop offset=".783" stop-color="#ff004d"/><stop offset=".879" stop-color="#ff0028"/><stop offset=".91" stop-color="#ff0014"/><stop offset=".926" stop-color="#f00"/><stop offset="1" stop-color="#f00"/></linearGradient>
<linearGradient id="r160" gradientUnits="userSpaceOnUse" x1="24" x2="639"><stop offset="0" stop-color="#00ecff"/><stop offset=".263" stop-color="#00e3ff"/><stop offset=".267" stop-color="#22e3ff"/><stop offset=".272" stop-color="#3be3ff"/><stop offset=".278" stop-color="#51e2ff"/><stop offset=".296" stop-color="#79e1ff"/><stop offset=".338" stop-color="#b7dfff"/><stop offset=".405" stop-color="#ffdafe"/><stop offset=".455" stop-color="#ffb2d4"/><stop offset=".535" stop-color="#ff85a7"/><stop offset=".62" stop-color="#ff5f84"/><stop offset=".719" stop-color="#ff3162"/><stop offset=".751" stop-color="#ff1a58"/><stop offset=".771" stop-color="#ff0051"/><stop offset=".886" stop-color="#ff0025"/><stop offset=".911" stop-color="#ff0015"/><stop offset=".928" stop-color="#f00"/><stop offset="1" stop-color="#f00"/></linearGradient>
<linearGradient id="r161" gradientUnits="userSpaceOnUse" x1="25" x2="642"><stop offset="0" stop-color="#00eaff"/><stop offset=".259" stop-color="#00e0ff"/><stop offset=".263" stop-color="#20e0ff"/><stop offset=".266" stop-color="#33e0ff"/><stop offset=".271" stop-color="#46e0ff"/><stop offset=".282" stop-color="#64dfff"/><stop offset=".298" stop-color="#83deff"/><stop offset=".323" stop-color="#a7ddff"/><stop offset=".348" stop-color="#c7dbff"/><stop offset=".402" stop-color="#ffd6ff"/><stop offset=".464" stop-color="#ffa8cd"/><stop offset=".533" stop-color="#ff81a7"/><stop offset=".608" stop-color="#ff5f88"/><stop offset=".707" stop-color="#ff3166"/><stop offset=".741" stop-color="#ff185b"/><stop offset=".757" stop-color="#ff0056"/><stop offset=".883" stop-color="#ff0027"/><stop offset=".911" stop-color="#ff0016"/><stop offset=".93" stop-color="#f00"/><stop offset="1" stop-color="#f00"/></linearGradient>
<linearGradient id="r162" gradientUnits="userSpaceOnUse" x1="26" x2="645"><stop offset="0" stop-color="#00e8ff"/><stop offset=".255" stop-color="#00deff"/><stop offset=".26" stop-color="#29deff"/><stop offset=".265" stop-color="#3fddff"/><stop offset=".278" stop-color="#63ddff"/><stop offset=".294" stop-color="#82dcff"/><stop offset=".338" stop-color="#bed8ff"/><stop offset=".399" stop-color="#ffd3ff"/><stop offset=".451" stop-color="#ffabd4"/><stop offset=".532" stop-color="#ff7ea7"/><stop offset=".693" stop-color="#ff326b"/><stop offset=".727" stop-color="#ff1960"/><stop offset=".745" stop-color="#ff005a"/><stop offset=".88" stop-color="#ff0029"/><stop offset=".91" stop-color="#ff0018"/><stop offset=".932" stop-color="#f00"/><stop offset="1" stop-color="#f00"/></linearGradient>
<linearGradient id="r163" gradientUnits="userSpaceOnUse" x1="26" x2="648"><stop offset="0" stop-color="#00e6ff"/><stop offset=".252" stop-color="#00dbff"/><stop offset=".254" stop-color="#07dbff"/><stop offset=".256" stop-color="#1bdbff"/><stop offset=".257" stop-color="#27dbff"/><stop offset=".264" stop-color="#43dbff"/><stop offset=".275" stop-color="#62daff"/><stop offset=".289" stop-color="#7ed9ff"/><stop offset=".31" stop-color="#9ed7ff"/><stop offset=".342" stop-color="#c6d5ff"/><stop offset=".397" stop-color="#ffd0ff"/><stop offset=".442" stop-color="#ffacd9"/><stop offset=".516" stop-color="#ff82ae"/><stop offset=".585" stop-color="#ff6190"/><stop offset=".682" stop-color="#ff326e"/><stop offset=".717" stop-color="#ff1763"/><stop offset=".732" stop-color="#ff005e"/><stop offset=".836" stop-color="#ff003c"/><stop offset=".886" stop-color="#ff0027"/><stop offset=".915" stop-color="#ff0015"/><stop offset=".932" stop-color="#f00"/><stop offset="1" stop-color="#f00"/></linearGradient>
<linearGradient id="r164" gradientUnits="userSpaceOnUse" x1="27" x2="651"><stop offset="0" stop-color="#00e4ff"/><stop offset=".248" stop-color="#00d9ff"/><stop offset=".25" stop-color="#02d9ff"/><stop offset=".252" stop-color="#19d9ff"/><stop offset=".253" stop-color="#25d8ff"/><stop offset=".26" stop-color="#42d8ff"/><stop offset=".269" stop-color="#5dd7ff"/><stop offset=".285" stop-color="#7dd6ff"/><stop offset=".308" stop-color="#9fd4ff"/><stop offset=".333" stop-color="#bfd2ff"/><stop offset=".394" stop-color="#fcf"/><stop offset=".447" stop-color="#ffa4d4"/><stop offset=".508" stop-color="#ff81b1"/><stop offset=".587" stop-color="#ff5c8f"/><stop offset=".668" stop-color="#ff3373"/><stop offset=".699" stop-color="#ff1d69"/><stop offset=".72" stop-color="#ff0062"/><stop offset=".883" stop-color="#ff0029"/><stop offset=".913" stop-color="#ff0017"/><stop offset=".934" stop-color="#f00"/><stop offset="1" stop-color="#f00"/></linearGradient>
<linearGradient id="r165" gradientUnits="userSpaceOnUse" x1="27" x2="653"><stop offset="0" stop-color="#00e2ff"/><stop offset=".248" stop-color="#00d6ff"/><stop offset=".249" stop-color="#16d6ff"/><stop offset=".251" stop-color="#23d6ff"/><stop offset=".256" stop-color="#3bd6ff"/><stop offset=".267" stop-color="#5cd5ff"/><stop offset=".281" stop-color="#79d4ff"/><stop offset=".3" stop-color="#97d2ff"/><stop offset=".327" stop-color="#bad0ff"/><stop offset=".393" stop-color="#ffc9ff"/><stop offset=".438" stop-color="#ffa7da"/><stop offset=".508" stop-color="#ff7eb1"/><stop offset=".577" stop-color="#ff5c93"/><stop offset=".666" stop-color="#ff2e74"/><stop offset=".69" stop-color="#ff1b6c"/><stop offset=".708" stop-color="#f06"/><stop offset=".872" stop-color="#ff002f"/><stop offset=".914" stop-color="#ff0019"/><stop offset=".938" stop-color="#f00"/><stop offset="1" stop-color="#f00"/></linearGradient>
<linearGradient id="r166" gradientUnits="userSpaceOnUse" x1="28" x2="653"><stop offset="0" stop-color="#00e0ff"/><stop offset=".245" stop-color="#00d4ff"/><stop offset=".246" stop-color="#13d3ff"/><stop offset=".25" stop-color="#2bd3ff"/><stop offset=".256" stop-color="#45d3ff"/><stop offset=".267" stop-color="#62d2ff"/><stop offset=".278" stop-color="#78d1ff"/><stop offset=".32" stop-color="#b3cdff"/><stop offset=".394" stop-color="#ffc5fe"/><stop offset=".446" stop-color="#ff9dd4"/><stop offset=".502" stop-color="#ff7db4"/><stop offset=".568" stop-color="#ff5d97"/><stop offset=".658" stop-color="#ff2e77"/><stop offset=".683" stop-color="#ff196f"/><stop offset=".699" stop-color="#ff006a"/><stop offset=".886" stop-color="#ff002b"/><stop offset=".925" stop-color="#ff0015"/><stop offset=".944" stop-color="#f00"/><stop offset="1" stop-color="#f00"/></linearGradient>
<linearGradient id="r167" gradientUnits="userSpaceOnUse" x1="29" x2="653"><stop offset="0" stop-color="#00deff"/><stop offset=".242" stop-color="#00d1ff"/><stop offset=".245" stop-color="#1fd1ff"/><stop offset=".252" stop-color="#3ed0ff"/><stop offset=".264" stop-color="#61cfff"/><stop offset=".28" stop-color="#7fceff"/><stop offset=".325" stop-color="#bbcaff"/><stop offset=".393" stop-color="#ffc1fe"/><stop offset=".436" stop-color="#ffa1db"/><stop offset=".503" stop-color="#ff7ab4"/><stop offset=".647" stop-color="#ff2f7b"/><stop offset=".673" stop-color="#ff1a73"/><stop offset=".689" stop-color="#ff006e"/><stop offset=".889" stop-color="#ff002c"/><stop offset=".928" stop-color="#ff0017"/><stop offset=".95" stop-color="#f00"/><stop offset="1" stop-color="#f00"/></linearGradient>
<linearGradient id="r168" gradientUnits="userSpaceOnUse" x1="29" x2="653"><stop offset="0" stop-color="#00dcff"/><stop offset=".24" stop-color="#00cfff"/><stop offset=".245" stop-color="#27ceff"/><stop offset=".25" stop-color="#3dceff"/><stop offset=".263" stop-color="#60cdff"/><stop offset=".279" stop-color="#7ecbff"/><stop offset=".33" stop-color="#c1c6ff"/><stop offset=".393" stop-color="#ffbeff"/><stop offset=".446" stop-color="#ff97d5"/><stop offset=".498" stop-color="#ff79b7"/><stop offset=".639" stop-color="#ff2f7f"/><stop offset=".668" stop-color="#ff1676"/><stop offset=".681" stop-color="#ff0072"/><stop offset=".888" stop-color="#ff002f"/><stop offset=".929" stop-color="#ff001a"/><stop offset=".955" stop-color="#f00"/><stop offset="1" stop-color="#f00"/></linearGradient>
<linearGradient id="r169" gradientUnits="userSpaceOnUse" x1="30" x2="653"><stop offset="0" stop-color="#00dbff"/><stop offset=".238" stop-color="#0cf"/><stop offset=".239" stop-color="#07ccff"/><stop offset=".241" stop-color="#1accff"/><stop offset=".242" stop-color="#25ccff"/><stop offset=".249" stop-color="#41cbff"/><stop offset=".26" stop-color="#5fcaff"/><stop offset=".276" stop-color="#7dc9ff"/><stop offset=".316" stop-color="#b3c5ff"/><stop offset=".392" stop-color="#fbf"/><stop offset=".433" stop-color="#ff9cdd"/><stop offset=".507" stop-color="#ff71b3"/><stop offset=".631" stop-color="#ff2f83"/><stop offset=".655" stop-color="#ff1b7b"/><stop offset=".673" stop-color="#ff0075"/><stop offset=".883" stop-color="#f03"/><stop offset=".942" stop-color="#ff0015"/><stop offset=".961" stop-color="#f00"/><stop offset="1" stop-color="#f00"/></linearGradient>
<linearGradient id="r170" gradientUnits="userSpaceOnUse" x1="31" x2="653"><stop offset="0" stop-color="#00d9ff"/><stop offset=".235" stop-color="#00caff"/><stop offset=".236" stop-color="#02caff"/><stop offset=".238" stop-color="#18c9ff"/><stop offset=".241" stop-color="#2cc9ff"/><stop offset=".248" stop-color="#45c9ff"/><stop offset=".259" stop-color="#61c8ff"/><stop offset=".277" stop-color="#81c6ff"/><stop offset=".32" stop-color="#b9c1ff"/><stop offset=".391" stop-color="#ffb7ff"/><stop offset=".426" stop-color="#ff9de2"/><stop offset=".486" stop-color="#ff79be"/><stop offset=".556" stop-color="#ff549e"/><stop offset=".622" stop-color="#ff2f86"/><stop offset=".645" stop-color="#ff1c7f"/><stop offset=".662" stop-color="#ff0079"/><stop offset=".891" stop-color="#ff0032"/><stop offset=".945" stop-color="#ff0017"/><stop offset=".968" stop-color="#f00"/><stop offset="1" stop-color="#f00"/></linearGradient>
<linearGradient id="r171" gradientUnits="userSpaceOnUse" x1="32" x2="653"><stop offset="0" stop-color="#00d7ff"/><stop offset=".233" stop-color="#00c7ff"/><stop offset=".235" stop-color="#15c7ff"/><stop offset=".237" stop-color="#22c7ff"/><stop offset=".245" stop-color="#44c6ff"/><stop offset=".256" stop-color="#60c5ff"/><stop offset=".274" stop-color="#80c3ff"/><stop offset=".316" stop-color="#b6beff"/><stop offset=".39" stop-color="#ffb4ff"/><stop offset=".43" stop-color="#ff96df"/><stop offset=".478" stop-color="#ff79c2"/><stop offset=".533" stop-color="#ff5ca8"/><stop offset=".614" stop-color="#ff2f8a"/><stop offset=".638" stop-color="#ff1a82"/><stop offset=".654" stop-color="#ff007d"/><stop offset=".89" stop-color="#ff0034"/><stop offset=".934" stop-color="#ff0021"/><stop offset=".955" stop-color="#ff0014"/><stop offset=".974" stop-color="#f00"/><stop offset="1" stop-color="#f00"/></linearGradient>
<linearGradient id="r172" gradientUnits="userSpaceOnUse" x1="32" x2="653"><stop offset="0" stop-color="#00d5ff"/><stop offset=".232" stop-color="#00c5ff"/><stop offset=".235" stop-color="#20c4ff"/><stop offset=".242" stop-color="#3dc4ff"/><stop offset=".251" stop-color="#58c3ff"/><stop offset=".267" stop-color="#77c1ff"/><stop offset=".312" stop-color="#b3bcff"/><stop offset=".39" stop-color="#ffb0ff"/><stop offset=".44" stop-color="#ff8dd9"/><stop offset=".483" stop-color="#ff74c0"/><stop offset=".605" stop-color="#ff2f8d"/><stop offset=".626" stop-color="#ff1d86"/><stop offset=".634" stop-color="#ff1384"/><stop offset=".644" stop-color="#ff0081"/><stop offset=".899" stop-color="#f03"/><stop offset=".958" stop-color="#ff0016"/><stop offset=".979" stop-color="#f00"/><stop offset="1" stop-color="#f00"/></linearGradient>
<linearGradient id="r173" gradientUnits="userSpaceOnUse" x1="33" x2="653"><stop offset="0" stop-color="#00d3ff"/><stop offset=".229" stop-color="#00c2ff"/><stop offset=".232" stop-color="#1ec2ff"/><stop offset=".239" stop-color="#3cc1ff"/><stop offset=".248" stop-color="#57c0ff"/><stop offset=".265" stop-color="#76bfff"/><stop offset=".308" stop-color="#b0b9ff"/><stop offset=".39" stop-color="#ffacfe"/><stop offset=".427" stop-color="#ff91e1"/><stop offset=".476" stop-color="#ff74c4"/><stop offset=".597" stop-color="#ff2f91"/><stop offset=".621" stop-color="#ff1989"/><stop offset=".635" stop-color="#ff0084"/><stop offset=".895" stop-color="#ff0036"/><stop offset=".955" stop-color="#ff001c"/><stop offset=".969" stop-color="#ff0012"/><stop offset=".985" stop-color="#f00"/><stop offset="1" stop-color="#f00"/></linearGradient>
<linearGradient id="r174" gradientUnits="userSpaceOnUse" x1="34" x2="650"><stop offset="0" stop-color="#00d1ff"/><stop offset=".227" stop-color="#00c0ff"/><stop offset=".232" stop-color="#26bfff"/><stop offset=".237" stop-color="#3bbfff"/><stop offset=".247" stop-color="#56beff"/><stop offset=".263" stop-color="#75bcff"/><stop offset=".278" stop-color="#8bbaff"/><stop offset=".313" stop-color="#b6b6ff"/><stop offset=".391" stop-color="#ffa8fe"/><stop offset=".42" stop-color="#ff93e7"/><stop offset=".471" stop-color="#ff74c8"/><stop offset=".589" stop-color="#ff3095"/><stop offset=".617" stop-color="#ff168c"/><stop offset=".628" stop-color="#f08"/><stop offset=".907" stop-color="#ff0035"/><stop offset=".958" stop-color="#ff0020"/><stop offset="1" stop-color="#f00"/></linearGradient>
<linearGradient id="r175" gradientUnits="userSpaceOnUse" x1="34" x2="644"><stop offset="0" stop-color="#00cfff"/><stop offset=".228" stop-color="#00bdff"/><stop offset=".23" stop-color="#06bdff"/><stop offset=".231" stop-color="#19bdff"/><stop offset=".233" stop-color="#24bdff"/><stop offset=".239" stop-color="#3fbcff"/><stop offset=".248" stop-color="#5bf"/><stop offset=".264" stop-color="#74b9ff"/><stop offset=".279" stop-color="#8ab8ff"/><stop offset=".32" stop-color="#bab2ff"/><stop offset=".395" stop-color="#ffa5ff"/><stop offset=".43" stop-color="#ff8de4"/><stop offset=".48" stop-color="#ff6ec6"/><stop offset=".587" stop-color="#ff3099"/><stop offset=".615" stop-color="#ff158f"/><stop offset=".626" stop-color="#ff008c"/><stop offset=".91" stop-color="#ff0039"/><stop offset=".969" stop-color="#f02"/><stop offset="1" stop-color="#ff000e"/></linearGradient>
<linearGradient id="r176" gradientUnits="userSpaceOnUse" x1="35" x2="637"><stop offset="0" stop-color="#00cdff"/><stop offset=".228" stop-color="#0bf"/><stop offset=".229" stop-color="#02bbff"/><stop offset=".231" stop-color="#17bbff"/><stop offset=".234" stop-color="#2bbaff"/><stop offset=".241" stop-color="#43baff"/><stop offset=".251" stop-color="#5bb8ff"/><stop offset=".274" stop-color="#82b6ff"/><stop offset=".319" stop-color="#b7b0ff"/><stop offset=".399" stop-color="#ffa1ff"/><stop offset=".44" stop-color="#ff85e0"/><stop offset=".478" stop-color="#ff6eca"/><stop offset=".576" stop-color="#ff36a0"/><stop offset=".606" stop-color="#ff1d95"/><stop offset=".625" stop-color="#ff008f"/><stop offset=".932" stop-color="#ff0037"/><stop offset="1" stop-color="#ff001a"/></linearGradient>
<linearGradient id="r177" gradientUnits="userSpaceOnUse" x1="36" x2="630"><stop offset="0" stop-color="#00cbff"/><stop offset=".229" stop-color="#00b8ff"/><stop offset=".231" stop-color="#14b8ff"/><stop offset=".232" stop-color="#20b8ff"/><stop offset=".236" stop-color="#31b8ff"/><stop offset=".241" stop-color="#42b7ff"/><stop offset=".258" stop-color="#67b5ff"/><stop offset=".274" stop-color="#81b3ff"/><stop offset=".325" stop-color="#bbacff"/><stop offset=".402" stop-color="#ff9eff"/><stop offset=".476" stop-color="#ff6fce"/><stop offset=".576" stop-color="#ff35a3"/><stop offset=".599" stop-color="#ff229a"/><stop offset=".611" stop-color="#ff1496"/><stop offset=".621" stop-color="#ff0093"/><stop offset=".884" stop-color="#ff004a"/><stop offset="1" stop-color="#ff0023"/></linearGradient>
<linearGradient id="r178" gradientUnits="userSpaceOnUse" x1="36" x2="624"><stop offset="0" stop-color="#00c9ff"/><stop offset=".23" stop-color="#00b6ff"/><stop offset=".231" stop-color="#11b6ff"/><stop offset=".235" stop-color="#28b6ff"/><stop offset=".245" stop-color="#4ab4ff"/><stop offset=".257" stop-color="#63b3ff"/><stop offset=".276" stop-color="#80b1ff"/><stop offset=".33" stop-color="#bda9ff"/><stop offset=".406" stop-color="#ff9aff"/><stop offset=".473" stop-color="#ff70d3"/><stop offset=".573" stop-color="#ff35a7"/><stop offset=".6" stop-color="#ff1e9d"/><stop offset=".619" stop-color="#ff0097"/><stop offset="1" stop-color="#ff002a"/></linearGradient>
<linearGradient id="r179" gradientUnits="userSpaceOnUse" x1="37" x2="617"><stop offset="0" stop-color="#00c7ff"/><stop offset=".229" stop-color="#00b4ff"/><stop offset=".234" stop-color="#26b3ff"/><stop offset=".24" stop-color="#3ab3ff"/><stop offset=".252" stop-color="#58b1ff"/><stop offset=".271" stop-color="#78afff"/><stop offset=".326" stop-color="#b7a7ff"/><stop offset=".41" stop-color="#ff96ff"/><stop offset=".486" stop-color="#ff67cf"/><stop offset=".572" stop-color="#ff34aa"/><stop offset=".603" stop-color="#ff179f"/><stop offset=".616" stop-color="#ff009b"/><stop offset="1" stop-color="#ff0030"/></linearGradient>
<linearGradient id="r180" gradientUnits="userSpaceOnUse" x1="38" x2="611"><stop offset="0" stop-color="#00c5ff"/><stop offset=".229" stop-color="#00b1ff"/><stop offset=".234" stop-color="#24b1ff"/><stop offset=".243" stop-color="#43b0ff"/><stop offset=".257" stop-color="#61aeff"/><stop offset=".271" stop-color="#77acff"/><stop offset=".305" stop-color="#a1a7ff"/><stop offset=".335" stop-color="#bea2ff"/><stop offset=".415" stop-color="#ff92fe"/><stop offset=".483" stop-color="#ff67d3"/><stop offset=".569" stop-color="#ff34ae"/><stop offset=".599" stop-color="#ff19a3"/><stop offset=".613" stop-color="#ff009e"/><stop offset=".716" stop-color="#ff007f"/><stop offset="1" stop-color="#ff0035"/></linearGradient>
<linearGradient id="r181" gradientUnits="userSpaceOnUse" x1="39" x2="604"><stop offset="0" stop-color="#00c3ff"/><stop offset=".228" stop-color="#00afff"/><stop offset=".23" stop-color="#06afff"/><stop offset=".232" stop-color="#18afff"/><stop offset=".234" stop-color="#23aeff"/><stop offset=".242" stop-color="#42adff"/><stop offset=".255" stop-color="#5dacff"/><stop offset=".271" stop-color="#76aaff"/><stop offset=".306" stop-color="#a0a4ff"/><stop offset=".331" stop-color="#b8a0ff"/><stop offset=".419" stop-color="#ff8efe"/><stop offset=".476" stop-color="#ff6ada"/><stop offset=".561" stop-color="#ff38b4"/><stop offset=".596" stop-color="#ff18a7"/><stop offset=".609" stop-color="#ff00a3"/><stop offset=".735" stop-color="#ff007d"/><stop offset="1" stop-color="#ff003b"/></linearGradient>
<linearGradient id="r182" gradientUnits="userSpaceOnUse" x1="39" x2="598"><stop offset="0" stop-color="#00c1ff"/><stop offset=".229" stop-color="#00adff"/><stop offset=".231" stop-color="#02acff"/><stop offset=".233" stop-color="#16acff"/><stop offset=".234" stop-color="#21acff"/><stop offset=".243" stop-color="#41abff"/><stop offset=".256" stop-color="#5ca9ff"/><stop offset=".275" stop-color="#7aa7ff"/><stop offset=".327" stop-color="#b29eff"/><stop offset=".424" stop-color="#ff8aff"/><stop offset=".496" stop-color="#ff5ed3"/><stop offset=".565" stop-color="#ff33b5"/><stop offset=".592" stop-color="#ff1aab"/><stop offset=".606" stop-color="#ff00a6"/><stop offset=".723" stop-color="#ff0083"/><stop offset="1" stop-color="#ff003f"/></linearGradient>
<linearGradient id="r183" gradientUnits="userSpaceOnUse" x1="40" x2="591"><stop offset="0" stop-color="#00bfff"/><stop offset=".23" stop-color="#0af"/><stop offset=".232" stop-color="#13aaff"/><stop offset=".234" stop-color="#1faaff"/><stop offset=".243" stop-color="#40a8ff"/><stop offset=".256" stop-color="#5ba7ff"/><stop offset=".276" stop-color="#79a4ff"/><stop offset=".309" stop-color="#9e9fff"/><stop offset=".338" stop-color="#b99aff"/><stop offset=".428" stop-color="#ff86ff"/><stop offset=".492" stop-color="#ff5fd8"/><stop offset=".563" stop-color="#ff33b9"/><stop offset=".59" stop-color="#ff19af"/><stop offset=".603" stop-color="#ff00ab"/><stop offset=".742" stop-color="#ff0081"/><stop offset="1" stop-color="#f04"/></linearGradient>
<linearGradient id="r184" gradientUnits="userSpaceOnUse" x1="41" x2="584"><stop offset="0" stop-color="#00bdff"/><stop offset=".23" stop-color="#00a8ff"/><stop offset=".234" stop-color="#1da7ff"/><stop offset=".238" stop-color="#2ea7ff"/><stop offset=".243" stop-color="#3fa6ff"/><stop offset=".256" stop-color="#5aa4ff"/><stop offset=".282" stop-color="#7fa1ff"/><stop offset=".343" stop-color="#bb97ff"/><stop offset=".433" stop-color="#ff82ff"/><stop offset=".508" stop-color="#ff54d3"/><stop offset=".56" stop-color="#ff33bd"/><stop offset=".586" stop-color="#ff1bb4"/><stop offset=".6" stop-color="#ff00ae"/><stop offset=".735" stop-color="#ff0086"/><stop offset="1" stop-color="#ff0048"/></linearGradient>
<linearGradient id="r185" gradientUnits="userSpaceOnUse" x1="42" x2="578"><stop offset="0" stop-color="#0bf"/><stop offset=".229" stop-color="#00a5ff"/><stop offset=".235" stop-color="#25a5ff"/><stop offset=".243" stop-color="#3ea4ff"/><stop offset=".256" stop-color="#59a2ff"/><stop offset=".282" stop-color="#7e9eff"/><stop offset=".343" stop-color="#ba94ff"/><stop offset=".437" stop-color="#ff7eff"/><stop offset=".506" stop-color="#ff54d7"/><stop offset=".552" stop-color="#ff36c3"/><stop offset=".576" stop-color="#ff21ba"/><stop offset=".597" stop-color="#ff00b2"/><stop offset=".757" stop-color="#ff0083"/><stop offset="1" stop-color="#ff004c"/></linearGradient>
<linearGradient id="r186" gradientUnits="userSpaceOnUse" x1="43" x2="571"><stop offset="0" stop-color="#00b9ff"/><stop offset=".229" stop-color="#00a3ff"/><stop offset=".235" stop-color="#23a2ff"/><stop offset=".244" stop-color="#41a1ff"/><stop offset=".256" stop-color="#589fff"/><stop offset=".28" stop-color="#7b9cff"/><stop offset=".311" stop-color="#9b97ff"/><stop offset=".352" stop-color="#bf8fff"/><stop offset=".441" stop-color="#ff7aff"/><stop offset=".502" stop-color="#ff55dc"/><stop offset=".561" stop-color="#ff2dc3"/><stop offset=".581" stop-color="#ff17bb"/><stop offset=".593" stop-color="#ff00b7"/><stop offset=".75" stop-color="#f08"/><stop offset="1" stop-color="#ff0050"/></linearGradient>
<linearGradient id="r187" gradientUnits="userSpaceOnUse" x1="43" x2="565"><stop offset="0" stop-color="#00b7ff"/><stop offset=".23" stop-color="#00a1ff"/><stop offset=".232" stop-color="#06a0ff"/><stop offset=".236" stop-color="#22a0ff"/><stop offset=".245" stop-color="#409eff"/><stop offset=".255" stop-color="#549dff"/><stop offset=".282" stop-color="#7a99ff"/><stop offset=".337" stop-color="#b090ff"/><stop offset=".446" stop-color="#ff75ff"/><stop offset=".519" stop-color="#ff48d7"/><stop offset=".557" stop-color="#ff2dc7"/><stop offset=".577" stop-color="#ff19c0"/><stop offset=".59" stop-color="#f0b"/><stop offset=".738" stop-color="#ff008e"/><stop offset="1" stop-color="#ff0054"/></linearGradient>
<linearGradient id="r188" gradientUnits="userSpaceOnUse" x1="44" x2="558"><stop offset="0" stop-color="#00b5ff"/><stop offset=".23" stop-color="#009eff"/><stop offset=".232" stop-color="#029eff"/><stop offset=".233" stop-color="#159eff"/><stop offset=".237" stop-color="#289dff"/><stop offset=".249" stop-color="#489bff"/><stop offset=".268" stop-color="#6899ff"/><stop offset=".282" stop-color="#7997ff"/><stop offset=".339" stop-color="#af8dff"/><stop offset=".453" stop-color="#ff70fe"/><stop offset=".554" stop-color="#ff2dcb"/><stop offset=".574" stop-color="#ff18c4"/><stop offset=".586" stop-color="#ff00bf"/><stop offset=".77" stop-color="#ff0089"/><stop offset="1" stop-color="#ff0058"/></linearGradient>
<linearGradient id="r189" gradientUnits="userSpaceOnUse" x1="45" x2="551"><stop offset="0" stop-color="#00b3ff"/><stop offset=".231" stop-color="#009cff"/><stop offset=".233" stop-color="#129bff"/><stop offset=".237" stop-color="#279bff"/><stop offset=".245" stop-color="#3e9aff"/><stop offset=".255" stop-color="#5298ff"/><stop offset=".281" stop-color="#7694ff"/><stop offset=".344" stop-color="#b189ff"/><stop offset=".458" stop-color="#ff6bff"/><stop offset=".492" stop-color="#ff56eb"/><stop offset=".551" stop-color="#ff2dd0"/><stop offset=".569" stop-color="#ff1ac9"/><stop offset=".583" stop-color="#ff00c3"/><stop offset=".767" stop-color="#ff008d"/><stop offset="1" stop-color="#ff005b"/></linearGradient>
<linearGradient id="r190" gradientUnits="userSpaceOnUse" x1="46" x2="545"><stop offset="0" stop-color="#00b1ff"/><stop offset=".23" stop-color="#09f"/><stop offset=".232" stop-color="#1099ff"/><stop offset=".236" stop-color="#2598ff"/><stop offset=".248" stop-color="#4697ff"/><stop offset=".269" stop-color="#6694ff"/><stop offset=".289" stop-color="#7e90ff"/><stop offset=".317" stop-color="#998bff"/><stop offset=".369" stop-color="#c281ff"/><stop offset=".463" stop-color="#f6f"/><stop offset=".549" stop-color="#ff2bd4"/><stop offset=".569" stop-color="#ff13cb"/><stop offset=".577" stop-color="#ff00c8"/><stop offset=".745" stop-color="#ff0095"/><stop offset="1" stop-color="#ff005f"/></linearGradient>
<linearGradient id="r191" gradientUnits="userSpaceOnUse" x1="47" x2="538"><stop offset="0" stop-color="#00afff"/><stop offset=".23" stop-color="#0097ff"/><stop offset=".236" stop-color="#2496ff"/><stop offset=".248" stop-color="#4594ff"/><stop offset=".263" stop-color="#5d92ff"/><stop offset=".287" stop-color="#7b8eff"/><stop offset=".318" stop-color="#9889ff"/><stop offset=".367" stop-color="#be7fff"/><stop offset=".468" stop-color="#ff61ff"/><stop offset=".546" stop-color="#ff2bd8"/><stop offset=".564" stop-color="#ff15d1"/><stop offset=".574" stop-color="#ff00cd"/><stop offset=".719" stop-color="#ff009f"/><stop offset="1" stop-color="#ff0062"/></linearGradient>
<linearGradient id="r192" gradientUnits="userSpaceOnUse" x1="48" x2="532"><stop offset="0" stop-color="#00adff"/><stop offset=".229" stop-color="#0094ff"/><stop offset=".231" stop-color="#0994ff"/><stop offset=".233" stop-color="#1994ff"/><stop offset=".238" stop-color="#2a93ff"/><stop offset=".248" stop-color="#4492ff"/><stop offset=".264" stop-color="#5f8fff"/><stop offset=".287" stop-color="#7a8bff"/><stop offset=".326" stop-color="#9e84ff"/><stop offset=".368" stop-color="#bd7cff"/><stop offset=".473" stop-color="#ff5cff"/><stop offset=".533" stop-color="#ff32e1"/><stop offset=".552" stop-color="#ff20d9"/><stop offset=".57" stop-color="#ff00d1"/><stop offset=".733" stop-color="#ff009e"/><stop offset="1" stop-color="#f06"/></linearGradient>
<linearGradient id="r193" gradientUnits="userSpaceOnUse" x1="49" x2="525"><stop offset="0" stop-color="#0af"/><stop offset=".229" stop-color="#0092ff"/><stop offset=".231" stop-color="#0592ff"/><stop offset=".235" stop-color="#2191ff"/><stop offset=".248" stop-color="#438fff"/><stop offset=".267" stop-color="#618cff"/><stop offset=".286" stop-color="#7789ff"/><stop offset=".321" stop-color="#9883ff"/><stop offset=".37" stop-color="#bc78ff"/><stop offset=".429" stop-color="#e169ff"/><stop offset=".479" stop-color="#ff56ff"/><stop offset=".521" stop-color="#ff39e9"/><stop offset=".544" stop-color="#ff24df"/><stop offset=".557" stop-color="#ff13da"/><stop offset=".565" stop-color="#ff00d6"/><stop offset=".645" stop-color="#ff00ba"/><stop offset=".754" stop-color="#ff009c"/><stop offset="1" stop-color="#ff0069"/></linearGradient>
<linearGradient id="r194" gradientUnits="userSpaceOnUse" x1="50" x2="518"><stop offset="0" stop-color="#00a8ff"/><stop offset=".231" stop-color="#018fff"/><stop offset=".233" stop-color="#148fff"/><stop offset=".235" stop-color="#1f8fff"/><stop offset=".244" stop-color="#398dff"/><stop offset=".256" stop-color="#518bff"/><stop offset=".284" stop-color="#7487ff"/><stop offset=".323" stop-color="#9780ff"/><stop offset=".372" stop-color="#bb75ff"/><stop offset=".432" stop-color="#e065ff"/><stop offset=".485" stop-color="#ff50ff"/><stop offset=".538" stop-color="#ff26e5"/><stop offset=".549" stop-color="#ff19e0"/><stop offset=".56" stop-color="#ff01dc"/><stop offset=".562" stop-color="#ff00db"/><stop offset=".624" stop-color="#ff00c4"/><stop offset=".735" stop-color="#ff00a4"/><stop offset="1" stop-color="#ff006d"/></linearGradient>
<linearGradient id="r195" gradientUnits="userSpaceOnUse" x1="50" x2="512"><stop offset="0" stop-color="#00a6ff"/><stop offset=".232" stop-color="#008dff"/><stop offset=".234" stop-color="#128cff"/><stop offset=".236" stop-color="#1d8cff"/><stop offset=".245" stop-color="#388bff"/><stop offset=".258" stop-color="#5089ff"/><stop offset=".286" stop-color="#7384ff"/><stop offset=".318" stop-color="#917eff"/><stop offset=".374" stop-color="#ba72ff"/><stop offset=".455" stop-color="#ea5aff"/><stop offset=".494" stop-color="#ff48fe"/><stop offset=".532" stop-color="#ff28eb"/><stop offset=".545" stop-color="#ff18e5"/><stop offset=".556" stop-color="#ff00e1"/><stop offset=".621" stop-color="#ff00c8"/><stop offset=".727" stop-color="#ff00a9"/><stop offset="1" stop-color="#ff0070"/></linearGradient>
<linearGradient id="r196" gradientUnits="userSpaceOnUse" x1="51" x2="505"><stop offset="0" stop-color="#00a4ff"/><stop offset=".231" stop-color="#008aff"/><stop offset=".236" stop-color="#1c8aff"/><stop offset=".249" stop-color="#4088ff"/><stop offset=".271" stop-color="#6184ff"/><stop offset=".295" stop-color="#7b80ff"/><stop offset=".346" stop-color="#a476ff"/><stop offset=".416" stop-color="#d164ff"/><stop offset=".454" stop-color="#e657ff"/><stop offset=".5" stop-color="#ff40ff"/><stop offset=".533" stop-color="#ff23ee"/><stop offset=".542" stop-color="#ff17ea"/><stop offset=".553" stop-color="#ff00e6"/><stop offset=".626" stop-color="#ff00ca"/><stop offset=".74" stop-color="#ff00a9"/><stop offset="1" stop-color="#ff0074"/></linearGradient>
<linearGradient id="r197" gradientUnits="userSpaceOnUse" x1="52" x2="499"><stop offset="0" stop-color="#00a2ff"/><stop offset=".23" stop-color="#08f"/><stop offset=".237" stop-color="#2387ff"/><stop offset=".248" stop-color="#3f85ff"/><stop offset=".273" stop-color="#6381ff"/><stop offset=".293" stop-color="#787dff"/><stop offset=".342" stop-color="#a074ff"/><stop offset=".418" stop-color="#d060ff"/><stop offset=".481" stop-color="#f247ff"/><stop offset=".506" stop-color="#ff38ff"/><stop offset=".535" stop-color="#ff19f1"/><stop offset=".546" stop-color="#ff00ec"/><stop offset=".611" stop-color="#ff00d2"/><stop offset=".72" stop-color="#ff00b1"/><stop offset=".859" stop-color="#ff0091"/><stop offset="1" stop-color="#f07"/></linearGradient>
<linearGradient id="r198" gradientUnits="userSpaceOnUse" x1="53" x2="492"><stop offset="0" stop-color="#00a0ff"/><stop offset=".23" stop-color="#0085ff"/><stop offset=".232" stop-color="#0885ff"/><stop offset=".235" stop-color="#1885ff"/><stop offset=".239" stop-color="#2984ff"/><stop offset=".248" stop-color="#3e82ff"/><stop offset=".267" stop-color="#5a7fff"/><stop offset=".292" stop-color="#757bff"/><stop offset=".344" stop-color="#9f70ff"/><stop offset=".433" stop-color="#d558ff"/><stop offset=".485" stop-color="#f141ff"/><stop offset=".513" stop-color="#ff2eff"/><stop offset=".528" stop-color="#ff1cf7"/><stop offset=".542" stop-color="#ff00f1"/><stop offset=".626" stop-color="#ff00d0"/><stop offset=".718" stop-color="#ff00b5"/><stop offset=".866" stop-color="#ff0093"/><stop offset="1" stop-color="#ff007a"/></linearGradient>
<linearGradient id="r199" gradientUnits="userSpaceOnUse" x1="54" x2="486"><stop offset="0" stop-color="#009dff"/><stop offset=".229" stop-color="#0083ff"/><stop offset=".231" stop-color="#0582ff"/><stop offset=".234" stop-color="#1682ff"/><stop offset=".236" stop-color="#2082ff"/><stop offset=".248" stop-color="#3d80ff"/><stop offset=".269" stop-color="#5c7cff"/><stop offset=".289" stop-color="#7279ff"/><stop offset=".356" stop-color="#a66aff"/><stop offset=".444" stop-color="#d950ff"/><stop offset=".491" stop-color="#f139ff"/><stop offset=".519" stop-color="#ff21ff"/><stop offset=".528" stop-color="#ff13fb"/><stop offset=".535" stop-color="#ff00f7"/><stop offset=".63" stop-color="#ff00d2"/><stop offset=".718" stop-color="#ff00b8"/><stop offset=".87" stop-color="#ff0095"/><stop offset="1" stop-color="#ff007d"/></linearGradient>
<linearGradient id="r200" gradientUnits="userSpaceOnUse" x1="55" x2="479"><stop offset="0" stop-color="#009bff"/><stop offset=".231" stop-color="#0180ff"/><stop offset=".233" stop-color="#1380ff"/><stop offset=".236" stop-color="#1e7fff"/><stop offset=".248" stop-color="#3c7dff"/><stop offset=".259" stop-color="#4f7bff"/><stop offset=".288" stop-color="#6f76ff"/><stop offset=".354" stop-color="#a268ff"/><stop offset=".455" stop-color="#dc48ff"/><stop offset=".493" stop-color="#ef33ff"/><stop offset=".509" stop-color="#f725ff"/><stop offset=".526" stop-color="#ff0bff"/><stop offset=".531" stop-color="#ff00fd"/><stop offset=".597" stop-color="#ff00e1"/><stop offset=".7" stop-color="#ff00c0"/><stop offset=".877" stop-color="#ff0097"/><stop offset="1" stop-color="#ff0081"/></linearGradient>
<linearGradient id="r201" gradientUnits="userSpaceOnUse" x1="56" x2="472"><stop offset="0" stop-color="#09f"/><stop offset=".231" stop-color="#007dff"/><stop offset=".233" stop-color="#117dff"/><stop offset=".238" stop-color="#257cff"/><stop offset=".248" stop-color="#3b7bff"/><stop offset=".272" stop-color="#5d76ff"/><stop offset=".3" stop-color="#7971ff"/><stop offset=".375" stop-color="#ad60ff"/><stop offset=".464" stop-color="#dd40ff"/><stop offset=".502" stop-color="#f026ff"/><stop offset=".517" stop-color="#f713ff"/><stop offset=".524" stop-color="#fa01ff"/><stop offset=".534" stop-color="#f0f"/><stop offset=".63" stop-color="#ff00d9"/><stop offset=".728" stop-color="#ff00bc"/><stop offset="1" stop-color="#ff0084"/></linearGradient>
<linearGradient id="r202" gradientUnits="userSpaceOnUse" x1="57" x2="466"><stop offset="0" stop-color="#0096ff"/><stop offset=".23" stop-color="#007bff"/><stop offset=".235" stop-color="#1b7aff"/><stop offset=".24" stop-color="#2a79ff"/><stop offset=".257" stop-color="#4a76ff"/><stop offset=".279" stop-color="#6472ff"/><stop offset=".313" stop-color="#826cff"/><stop offset=".399" stop-color="#b856ff"/><stop offset=".455" stop-color="#d640ff"/><stop offset=".499" stop-color="#eb22ff"/><stop offset=".511" stop-color="#f111ff"/><stop offset=".518" stop-color="#f400ff"/><stop offset=".543" stop-color="#ff00fe"/><stop offset=".633" stop-color="#ff00db"/><stop offset=".729" stop-color="#ff00bf"/><stop offset=".885" stop-color="#ff009c"/><stop offset="1" stop-color="#f08"/></linearGradient>
<linearGradient id="r203" gradientUnits="userSpaceOnUse" x1="58" x2="459"><stop offset="0" stop-color="#0094ff"/><stop offset=".229" stop-color="#0078ff"/><stop offset=".234" stop-color="#1977ff"/><stop offset=".239" stop-color="#2976ff"/><stop offset=".257" stop-color="#4974ff"/><stop offset=".284" stop-color="#686eff"/><stop offset=".317" stop-color="#8368ff"/><stop offset=".392" stop-color="#b255ff"/><stop offset=".449" stop-color="#d03fff"/><stop offset=".491" stop-color="#e423ff"/><stop offset=".501" stop-color="#e917ff"/><stop offset=".514" stop-color="#ef00ff"/><stop offset=".551" stop-color="#f0f"/><stop offset=".623" stop-color="#ff00e2"/><stop offset=".731" stop-color="#ff00c2"/><stop offset=".843" stop-color="#ff00a8"/><stop offset="1" stop-color="#ff008b"/></linearGradient>
<linearGradient id="r204" gradientUnits="userSpaceOnUse" x1="59" x2="453"><stop offset="0" stop-color="#0092ff"/><stop offset=".228" stop-color="#0075ff"/><stop offset=".239" stop-color="#2874ff"/><stop offset=".256" stop-color="#4871ff"/><stop offset=".282" stop-color="#656cff"/><stop offset=".32" stop-color="#8464ff"/><stop offset=".398" stop-color="#b44fff"/><stop offset=".457" stop-color="#d136ff"/><stop offset=".487" stop-color="#e01fff"/><stop offset=".497" stop-color="#e411ff"/><stop offset=".505" stop-color="#e800ff"/><stop offset=".558" stop-color="#f0f"/><stop offset=".657" stop-color="#ff00da"/><stop offset=".751" stop-color="#ff00c0"/><stop offset="1" stop-color="#ff008e"/></linearGradient>
<linearGradient id="r205" gradientUnits="userSpaceOnUse" x1="60" x2="446"><stop offset="0" stop-color="#008fff"/><stop offset=".228" stop-color="#0073ff"/><stop offset=".231" stop-color="#0572ff"/><stop offset=".236" stop-color="#1f71ff"/><stop offset=".251" stop-color="#406fff"/><stop offset=".282" stop-color="#6469ff"/><stop offset=".324" stop-color="#8560ff"/><stop offset=".391" stop-color="#ad4eff"/><stop offset=".443" stop-color="#c839ff"/><stop offset=".479" stop-color="#d920ff"/><stop offset=".5" stop-color="#e200ff"/><stop offset=".567" stop-color="#f0f"/><stop offset=".663" stop-color="#ff00dc"/><stop offset=".762" stop-color="#ff00c1"/><stop offset="1" stop-color="#ff0092"/></linearGradient>
<linearGradient id="r206" gradientUnits="userSpaceOnUse" x1="61" x2="439"><stop offset="0" stop-color="#008dff"/><stop offset=".23" stop-color="#0170ff"/><stop offset=".233" stop-color="#136fff"/><stop offset=".238" stop-color="#256eff"/><stop offset=".254" stop-color="#436bff"/><stop offset=".28" stop-color="#6166ff"/><stop offset=".315" stop-color="#7d5fff"/><stop offset=".384" stop-color="#a74dff"/><stop offset=".437" stop-color="#c238ff"/><stop offset=".476" stop-color="#d41cff"/><stop offset=".492" stop-color="#db00ff"/><stop offset=".577" stop-color="#f0f"/><stop offset=".669" stop-color="#ff00de"/><stop offset=".765" stop-color="#ff00c4"/><stop offset="1" stop-color="#ff0096"/></linearGradient>
<linearGradient id="r207" gradientUnits="userSpaceOnUse" x1="62" x2="433"><stop offset="0" stop-color="#008aff"/><stop offset=".229" stop-color="#006dff"/><stop offset=".232" stop-color="#106cff"/><stop offset=".237" stop-color="#246bff"/><stop offset=".253" stop-color="#4269ff"/><stop offset=".275" stop-color="#5b64ff"/><stop offset=".318" stop-color="#7e5bff"/><stop offset=".375" stop-color="#a04cff"/><stop offset=".434" stop-color="#be34ff"/><stop offset=".466" stop-color="#cd1dff"/><stop offset=".485" stop-color="#d500ff"/><stop offset=".585" stop-color="#f0f"/><stop offset=".66" stop-color="#ff00e4"/><stop offset=".765" stop-color="#ff00c7"/><stop offset="1" stop-color="#f09"/></linearGradient>
<linearGradient id="r208" gradientUnits="userSpaceOnUse" x1="63" x2="426"><stop offset="0" stop-color="#08f"/><stop offset=".229" stop-color="#006aff"/><stop offset=".234" stop-color="#1a69ff"/><stop offset=".237" stop-color="#2269ff"/><stop offset=".253" stop-color="#4166ff"/><stop offset=".287" stop-color="#645fff"/><stop offset=".325" stop-color="#8156ff"/><stop offset=".366" stop-color="#994bff"/><stop offset=".433" stop-color="#bb30ff"/><stop offset=".457" stop-color="#c61eff"/><stop offset=".468" stop-color="#cb11ff"/><stop offset=".477" stop-color="#ce00ff"/><stop offset=".595" stop-color="#f0f"/><stop offset=".741" stop-color="#ff00d1"/><stop offset=".879" stop-color="#ff00b2"/><stop offset="1" stop-color="#ff009d"/></linearGradient>
<linearGradient id="r209" gradientUnits="userSpaceOnUse" x1="65" x2="420"><stop offset="0" stop-color="#0085ff"/><stop offset=".225" stop-color="#0067ff"/><stop offset=".231" stop-color="#1866ff"/><stop offset=".237" stop-color="#2865ff"/><stop offset=".254" stop-color="#4462ff"/><stop offset=".282" stop-color="#615cff"/><stop offset=".327" stop-color="#8252ff"/><stop offset=".423" stop-color="#b52fff"/><stop offset=".448" stop-color="#c01dff"/><stop offset=".468" stop-color="#c900ff"/><stop offset=".606" stop-color="#ff00fe"/><stop offset=".758" stop-color="#ff00d0"/><stop offset="1" stop-color="#ff00a0"/></linearGradient>
<linearGradient id="r210" gradientUnits="userSpaceOnUse" x1="66" x2="413"><stop offset="0" stop-color="#0082ff"/><stop offset=".225" stop-color="#0064ff"/><stop offset=".236" stop-color="#2762ff"/><stop offset=".254" stop-color="#435fff"/><stop offset=".271" stop-color="#565bff"/><stop offset=".314" stop-color="#7851ff"/><stop offset=".389" stop-color="#a23aff"/><stop offset=".418" stop-color="#b02cff"/><stop offset=".438" stop-color="#b91eff"/><stop offset=".461" stop-color="#c300ff"/><stop offset=".617" stop-color="#f0f"/><stop offset=".769" stop-color="#ff00d1"/><stop offset="1" stop-color="#ff00a4"/></linearGradient>
<linearGradient id="r211" gradientUnits="userSpaceOnUse" x1="67" x2="406"><stop offset="0" stop-color="#007fff"/><stop offset=".224" stop-color="#0061ff"/><stop offset=".227" stop-color="#0461ff"/><stop offset=".23" stop-color="#1460ff"/><stop offset=".236" stop-color="#255fff"/><stop offset=".254" stop-color="#425cff"/><stop offset=".286" stop-color="#6255ff"/><stop offset=".322" stop-color="#7b4cff"/><stop offset=".41" stop-color="#aa2bff"/><stop offset=".437" stop-color="#b517ff"/><stop offset=".451" stop-color="#bc00ff"/><stop offset=".628" stop-color="#f0f"/><stop offset=".791" stop-color="#ff00d0"/><stop offset="1" stop-color="#ff00a8"/></linearGradient>
<linearGradient id="r212" gradientUnits="userSpaceOnUse" x1="68" x2="400"><stop offset="0" stop-color="#007dff"/><stop offset=".226" stop-color="#015eff"/><stop offset=".229" stop-color="#125dff"/><stop offset=".235" stop-color="#245cff"/><stop offset=".256" stop-color="#4558ff"/><stop offset=".286" stop-color="#6151ff"/><stop offset=".328" stop-color="#7e46ff"/><stop offset=".401" stop-color="#a32aff"/><stop offset=".428" stop-color="#af15ff"/><stop offset=".443" stop-color="#b600ff"/><stop offset=".639" stop-color="#f0f"/><stop offset=".78" stop-color="#ff00d6"/><stop offset="1" stop-color="#ff00ab"/></linearGradient>
<linearGradient id="r213" gradientUnits="userSpaceOnUse" x1="69" x2="393"><stop offset="0" stop-color="#007aff"/><stop offset=".225" stop-color="#005aff"/><stop offset=".228" stop-color="#105aff"/><stop offset=".235" stop-color="#2359ff"/><stop offset=".256" stop-color="#4454ff"/><stop offset=".284" stop-color="#5e4eff"/><stop offset=".333" stop-color="#7f40ff"/><stop offset=".395" stop-color="#9e27ff"/><stop offset=".42" stop-color="#a913ff"/><stop offset=".432" stop-color="#af00ff"/><stop offset=".651" stop-color="#f0f"/><stop offset=".824" stop-color="#ff00d0"/><stop offset="1" stop-color="#ff00af"/></linearGradient>
<linearGradient id="r214" gradientUnits="userSpaceOnUse" x1="70" x2="387"><stop offset="0" stop-color="#07f"/><stop offset=".224" stop-color="#0057ff"/><stop offset=".23" stop-color="#1956ff"/><stop offset=".237" stop-color="#2855ff"/><stop offset=".256" stop-color="#4351ff"/><stop offset=".29" stop-color="#6248ff"/><stop offset=".322" stop-color="#7740ff"/><stop offset=".385" stop-color="#9826ff"/><stop offset=".407" stop-color="#a215ff"/><stop offset=".423" stop-color="#a800ff"/><stop offset=".521" stop-color="#cf00ff"/><stop offset=".662" stop-color="#f0f"/><stop offset=".814" stop-color="#ff00d6"/><stop offset="1" stop-color="#ff00b3"/></linearGradient>
<linearGradient id="r215" gradientUnits="userSpaceOnUse" x1="71" x2="380"><stop offset="0" stop-color="#0074ff"/><stop offset=".223" stop-color="#0054ff"/><stop offset=".233" stop-color="#2052ff"/><stop offset=".249" stop-color="#3b4eff"/><stop offset=".275" stop-color="#5548ff"/><stop offset=".33" stop-color="#7a38ff"/><stop offset=".366" stop-color="#8c2aff"/><stop offset=".388" stop-color="#971cff"/><stop offset=".411" stop-color="#a100ff"/><stop offset=".528" stop-color="#ce00ff"/><stop offset=".676" stop-color="#f0f"/><stop offset=".828" stop-color="#ff00d7"/><stop offset="1" stop-color="#ff00b7"/></linearGradient>
<linearGradient id="r216" gradientUnits="userSpaceOnUse" x1="72" x2="374"><stop offset="0" stop-color="#0071ff"/><stop offset=".123" stop-color="#0062ff"/><stop offset=".222" stop-color="#0050ff"/><stop offset=".235" stop-color="#264eff"/><stop offset=".252" stop-color="#3e4aff"/><stop offset=".285" stop-color="#5c42ff"/><stop offset=".334" stop-color="#7b31ff"/><stop offset=".374" stop-color="#8f1dff"/><stop offset=".401" stop-color="#9a00ff"/><stop offset=".53" stop-color="#c0f"/><stop offset=".689" stop-color="#f0f"/><stop offset=".828" stop-color="#ff00db"/><stop offset="1" stop-color="#f0b"/></linearGradient>
<linearGradient id="r217" gradientUnits="userSpaceOnUse" x1="74" x2="367"><stop offset="0" stop-color="#006eff"/><stop offset=".218" stop-color="#004dff"/><stop offset=".222" stop-color="#044cff"/><stop offset=".225" stop-color="#144bff"/><stop offset=".232" stop-color="#244aff"/><stop offset=".249" stop-color="#3d46ff"/><stop offset=".29" stop-color="#603bff"/><stop offset=".338" stop-color="#7c29ff"/><stop offset=".362" stop-color="#871cff"/><stop offset=".386" stop-color="#9200ff"/><stop offset=".512" stop-color="#c300ff"/><stop offset=".706" stop-color="#f0f"/><stop offset=".843" stop-color="#ff00dc"/><stop offset="1" stop-color="#ff00bf"/></linearGradient>
<linearGradient id="r218" gradientUnits="userSpaceOnUse" x1="75" x2="360"><stop offset="0" stop-color="#006bff"/><stop offset=".133" stop-color="#0059ff"/><stop offset=".221" stop-color="#0148ff"/><stop offset=".225" stop-color="#1247ff"/><stop offset=".228" stop-color="#1c47ff"/><stop offset=".239" stop-color="#2f44ff"/><stop offset=".253" stop-color="#4041ff"/><stop offset=".288" stop-color="#5d37ff"/><stop offset=".33" stop-color="#7626ff"/><stop offset=".354" stop-color="#8218ff"/><stop offset=".375" stop-color="#8c00ff"/><stop offset=".54" stop-color="#c900ff"/><stop offset=".723" stop-color="#f0f"/><stop offset=".846" stop-color="#ff00e0"/><stop offset="1" stop-color="#ff00c3"/></linearGradient>
<linearGradient id="r219" gradientUnits="userSpaceOnUse" x1="76" x2="354"><stop offset="0" stop-color="#0067ff"/><stop offset=".122" stop-color="#0057ff"/><stop offset=".219" stop-color="#04f"/><stop offset=".223" stop-color="#0f43ff"/><stop offset=".23" stop-color="#2242ff"/><stop offset=".252" stop-color="#3f3cff"/><stop offset=".288" stop-color="#5c31ff"/><stop offset=".338" stop-color="#7919ff"/><stop offset=".363" stop-color="#8400ff"/><stop offset=".5" stop-color="#b900ff"/><stop offset=".737" stop-color="#f0f"/><stop offset=".842" stop-color="#ff00e5"/><stop offset="1" stop-color="#ff00c7"/></linearGradient>
<linearGradient id="r220" gradientUnits="userSpaceOnUse" x1="77" x2="347"><stop offset="0" stop-color="#0064ff"/><stop offset=".13" stop-color="#0052ff"/><stop offset=".219" stop-color="#0040ff"/><stop offset=".23" stop-color="#213dff"/><stop offset=".256" stop-color="#4236ff"/><stop offset=".315" stop-color="#6b1fff"/><stop offset=".33" stop-color="#7215ff"/><stop offset=".348" stop-color="#7b00ff"/><stop offset=".407" stop-color="#9500ff"/><stop offset=".504" stop-color="#b700ff"/><stop offset=".756" stop-color="#f0f"/><stop offset=".859" stop-color="#ff00e6"/><stop offset="1" stop-color="#f0c"/></linearGradient>
<linearGradient id="r221" gradientUnits="userSpaceOnUse" x1="78" x2="341"><stop offset="0" stop-color="#0060ff"/><stop offset=".118" stop-color="#0050ff"/><stop offset=".217" stop-color="#003bff"/><stop offset=".224" stop-color="#1739ff"/><stop offset=".232" stop-color="#2637ff"/><stop offset=".255" stop-color="#4131ff"/><stop offset=".308" stop-color="#6619ff"/><stop offset=".335" stop-color="#7300ff"/><stop offset=".418" stop-color="#9700ff"/><stop offset=".49" stop-color="#b000ff"/><stop offset=".772" stop-color="#f0f"/><stop offset="1" stop-color="#ff00d0"/></linearGradient>
<linearGradient id="r222" gradientUnits="userSpaceOnUse" x1="80" x2="334"><stop offset="0" stop-color="#005cff"/><stop offset=".102" stop-color="#004eff"/><stop offset=".213" stop-color="#0037ff"/><stop offset=".224" stop-color="#1e33ff"/><stop offset=".236" stop-color="#3030ff"/><stop offset=".26" stop-color="#4727ff"/><stop offset=".287" stop-color="#5a1aff"/><stop offset=".315" stop-color="#6900ff"/><stop offset=".378" stop-color="#8600ff"/><stop offset=".492" stop-color="#ae00ff"/><stop offset=".791" stop-color="#f0f"/><stop offset="1" stop-color="#ff00d5"/></linearGradient>
<linearGradient id="r223" gradientUnits="userSpaceOnUse" x1="81" x2="327"><stop offset="0" stop-color="#0058ff"/><stop offset=".106" stop-color="#0049ff"/><stop offset=".211" stop-color="#0031ff"/><stop offset=".215" stop-color="#0430ff"/><stop offset=".22" stop-color="#132fff"/><stop offset=".228" stop-color="#242cff"/><stop offset=".244" stop-color="#3826ff"/><stop offset=".272" stop-color="#4f19ff"/><stop offset=".301" stop-color="#6000ff"/><stop offset=".374" stop-color="#8200ff"/><stop offset=".48" stop-color="#a700ff"/><stop offset=".813" stop-color="#f0f"/><stop offset="1" stop-color="#ff00da"/></linearGradient>
<linearGradient id="r224" gradientUnits="userSpaceOnUse" x1="82" x2="321"><stop offset="0" stop-color="#0054ff"/><stop offset=".113" stop-color="#0043ff"/><stop offset=".213" stop-color="#012aff"/><stop offset=".222" stop-color="#1b27ff"/><stop offset=".234" stop-color="#2e22ff"/><stop offset=".259" stop-color="#4515ff"/><stop offset=".28" stop-color="#5300ff"/><stop offset=".335" stop-color="#7000ff"/><stop offset=".423" stop-color="#9200ff"/><stop offset=".653" stop-color="#d400ff"/><stop offset=".837" stop-color="#f0f"/><stop offset="1" stop-color="#ff00df"/></linearGradient>
<linearGradient id="r225" gradientUnits="userSpaceOnUse" x1="84" x2="314"><stop offset="0" stop-color="#0050ff"/><stop offset=".104" stop-color="#003fff"/><stop offset=".209" stop-color="#0023ff"/><stop offset=".217" stop-color="#191fff"/><stop offset=".23" stop-color="#2d18ff"/><stop offset=".261" stop-color="#4700ff"/><stop offset=".3" stop-color="#5f00ff"/><stop offset=".396" stop-color="#8700ff"/><stop offset=".6" stop-color="#c300ff"/><stop offset=".861" stop-color="#f0f"/><stop offset="1" stop-color="#ff00e4"/></linearGradient>
<linearGradient id="r226" gradientUnits="userSpaceOnUse" x1="85" x2="308"><stop offset="0" stop-color="#004bff"/><stop offset=".148" stop-color="#002fff"/><stop offset=".206" stop-color="#001aff"/><stop offset=".22" stop-color="#2012ff"/><stop offset=".242" stop-color="#3900ff"/><stop offset=".296" stop-color="#5c00ff"/><stop offset=".354" stop-color="#7600ff"/><stop offset=".543" stop-color="#b100ff"/><stop offset=".883" stop-color="#f0f"/><stop offset="1" stop-color="#ff00e9"/></linearGradient>
<linearGradient id="r227" gradientUnits="userSpaceOnUse" x1="86" x2="301"><stop offset="0" stop-color="#0046ff"/><stop offset=".126" stop-color="#002eff"/><stop offset=".167" stop-color="#0021ff"/><stop offset=".205" stop-color="#000cff"/><stop offset=".219" stop-color="#1e00ff"/><stop offset=".247" stop-color="#3c00ff"/><stop offset=".293" stop-color="#5900ff"/><stop offset=".363" stop-color="#70f"/><stop offset=".474" stop-color="#9b00ff"/><stop offset=".66" stop-color="#ca00ff"/><stop offset=".912" stop-color="#f0f"/><stop offset="1" stop-color="#f0e"/></linearGradient>
<linearGradient id="r228" gradientUnits="userSpaceOnUse" x1="88" x2="295"><stop offset="0" stop-color="#0040ff"/><stop offset=".126" stop-color="#0025ff"/><stop offset=".169" stop-color="#0012ff"/><stop offset=".193" stop-color="#00f"/><stop offset=".198" stop-color="#00f"/><stop offset=".213" stop-color="#1d00ff"/><stop offset=".222" stop-color="#2a00ff"/><stop offset=".246" stop-color="#3f00ff"/><stop offset=".3" stop-color="#5d00ff"/><stop offset=".406" stop-color="#8500ff"/><stop offset=".609" stop-color="#b0f"/><stop offset=".884" stop-color="#f500ff"/><stop offset=".937" stop-color="#f0f"/><stop offset="1" stop-color="#ff00f4"/></linearGradient>
<linearGradient id="r229" gradientUnits="userSpaceOnUse" x1="89" x2="288"><stop offset="0" stop-color="#003bff"/><stop offset=".101" stop-color="#0024ff"/><stop offset=".136" stop-color="#0016ff"/><stop offset=".166" stop-color="#00f"/><stop offset=".196" stop-color="#00f"/><stop offset=".201" stop-color="#0400ff"/><stop offset=".206" stop-color="#1200ff"/><stop offset=".216" stop-color="#2300ff"/><stop offset=".246" stop-color="#3e00ff"/><stop offset=".296" stop-color="#5a00ff"/><stop offset=".392" stop-color="#7e00ff"/><stop offset=".513" stop-color="#a000ff"/><stop offset=".663" stop-color="#c300ff"/><stop offset=".97" stop-color="#f0f"/><stop offset="1" stop-color="#ff00fa"/></linearGradient>
<linearGradient id="r230" gradientUnits="userSpaceOnUse" x1="91" x2="281"><stop offset="0" stop-color="#03f"/><stop offset=".068" stop-color="#0023ff"/><stop offset=".111" stop-color="#0012ff"/><stop offset=".137" stop-color="#00f"/><stop offset=".195" stop-color="#0100ff"/><stop offset=".2" stop-color="#1000ff"/><stop offset=".211" stop-color="#20f"/><stop offset=".253" stop-color="#40f"/><stop offset=".311" stop-color="#6000ff"/><stop offset=".4" stop-color="#7f00ff"/><stop offset=".621" stop-color="#b600ff"/><stop offset="1" stop-color="#fe00ff"/></linearGradient>
<linearGradient id="r231" gradientUnits="userSpaceOnUse" x1="92" x2="275"><stop offset="0" stop-color="#002cff"/><stop offset=".071" stop-color="#0016ff"/><stop offset=".104" stop-color="#00f"/><stop offset=".191" stop-color="#00f"/><stop offset=".202" stop-color="#1900ff"/><stop offset=".208" stop-color="#2000ff"/><stop offset=".246" stop-color="#4000ff"/><stop offset=".301" stop-color="#5b00ff"/><stop offset=".377" stop-color="#7600ff"/><stop offset=".623" stop-color="#b300ff"/><stop offset="1" stop-color="#f800ff"/></linearGradient>
<linearGradient id="r232" gradientUnits="userSpaceOnUse" x1="94" x2="268"><stop offset="0" stop-color="#0021ff"/><stop offset=".04" stop-color="#0012ff"/><stop offset=".069" stop-color="#00f"/><stop offset=".184" stop-color="#00f"/><stop offset=".201" stop-color="#1f00ff"/><stop offset=".23" stop-color="#3800ff"/><stop offset=".293" stop-color="#5800ff"/><stop offset=".368" stop-color="#7200ff"/><stop offset=".471" stop-color="#8e00ff"/><stop offset=".626" stop-color="#b000ff"/><stop offset="1" stop-color="#f100ff"/></linearGradient>
<linearGradient id="r233" gradientUnits="userSpaceOnUse" x1="96" x2="262"><stop offset="0" stop-color="#0010ff"/><stop offset=".024" stop-color="#00f"/><stop offset=".175" stop-color="#00f"/><stop offset=".193" stop-color="#1e00ff"/><stop offset=".229" stop-color="#3b00ff"/><stop offset=".283" stop-color="#50f"/><stop offset=".373" stop-color="#7300ff"/><stop offset=".633" stop-color="#ae00ff"/><stop offset="1" stop-color="#ec00ff"/></linearGradient>
<linearGradient id="r234" gradientUnits="userSpaceOnUse" x1="98" x2="255"><stop offset="0" stop-color="#00f"/><stop offset=".166" stop-color="#00f"/><stop offset=".191" stop-color="#2300ff"/><stop offset=".223" stop-color="#3a00ff"/><stop offset=".274" stop-color="#5200ff"/><stop offset=".363" stop-color="#6f00ff"/><stop offset=".49" stop-color="#8e00ff"/><stop offset=".637" stop-color="#ab00ff"/><stop offset="1" stop-color="#e500ff"/></linearGradient>
<linearGradient id="r235" gradientUnits="userSpaceOnUse" x1="99" x2="248"><stop offset="0" stop-color="#00f"/><stop offset=".161" stop-color="#00f"/><stop offset=".168" stop-color="#0300ff"/><stop offset=".174" stop-color="#1200ff"/><stop offset=".188" stop-color="#20f"/><stop offset=".228" stop-color="#3d00ff"/><stop offset=".289" stop-color="#5600ff"/><stop offset=".376" stop-color="#7000ff"/><stop offset=".644" stop-color="#a800ff"/><stop offset="1" stop-color="#df00ff"/></linearGradient>
<linearGradient id="r236" gradientUnits="userSpaceOnUse" x1="101" x2="242"><stop offset="0" stop-color="#00f"/><stop offset=".156" stop-color="#0100ff"/><stop offset=".17" stop-color="#1a00ff"/><stop offset=".206" stop-color="#3500ff"/><stop offset=".262" stop-color="#4e00ff"/><stop offset=".362" stop-color="#6c00ff"/><stop offset=".617" stop-color="#a000ff"/><stop offset="1" stop-color="#d900ff"/></linearGradient>
<linearGradient id="r237" gradientUnits="userSpaceOnUse" x1="103" x2="235"><stop offset="0" stop-color="#00f"/><stop offset=".144" stop-color="#00f"/><stop offset=".152" stop-color="#0e00ff"/><stop offset=".167" stop-color="#2000ff"/><stop offset=".227" stop-color="#4200ff"/><stop offset=".288" stop-color="#5700ff"/><stop offset=".439" stop-color="#7c00ff"/><stop offset=".705" stop-color="#a0f"/><stop offset="1" stop-color="#d200ff"/></linearGradient>
<linearGradient id="r238" gradientUnits="userSpaceOnUse" x1="105" x2="229"><stop offset="0" stop-color="#00f"/><stop offset=".129" stop-color="#00f"/><stop offset=".145" stop-color="#1700ff"/><stop offset=".161" stop-color="#2500ff"/><stop offset=".21" stop-color="#3e00ff"/><stop offset=".298" stop-color="#5b00ff"/><stop offset=".411" stop-color="#7500ff"/><stop offset=".661" stop-color="#a000ff"/><stop offset="1" stop-color="#cd00ff"/></linearGradient>
<linearGradient id="r239" gradientUnits="userSpaceOnUse" x1="108" x2="222"><stop offset="0" stop-color="#00f"/><stop offset=".105" stop-color="#00f"/><stop offset=".132" stop-color="#1d00ff"/><stop offset=".184" stop-color="#3a00ff"/><stop offset=".281" stop-color="#5800ff"/><stop offset=".395" stop-color="#7100ff"/><stop offset=".675" stop-color="#9e00ff"/><stop offset="1" stop-color="#c600ff"/></linearGradient>
<linearGradient id="r240" gradientUnits="userSpaceOnUse" x1="110" x2="215"><stop offset="0" stop-color="#00f"/><stop offset=".086" stop-color="#00f"/><stop offset=".095" stop-color="#0600ff"/><stop offset=".114" stop-color="#1c00ff"/><stop offset=".171" stop-color="#3900ff"/><stop offset=".238" stop-color="#4e00ff"/><stop offset=".381" stop-color="#6d00ff"/><stop offset=".648" stop-color="#9600ff"/><stop offset="1" stop-color="#bf00ff"/></linearGradient>
<linearGradient id="r241" gradientUnits="userSpaceOnUse" x1="113" x2="209"><stop offset="0" stop-color="#00f"/><stop offset=".062" stop-color="#0300ff"/><stop offset=".073" stop-color="#10f"/><stop offset=".094" stop-color="#2100ff"/><stop offset=".156" stop-color="#3c00ff"/><stop offset=".344" stop-color="#6700ff"/><stop offset=".656" stop-color="#9400ff"/><stop offset="1" stop-color="#b900ff"/></linearGradient>
<linearGradient id="r242" gradientUnits="userSpaceOnUse" x1="116" x2="202"><stop offset="0" stop-color="#00f"/><stop offset=".023" stop-color="#0100ff"/><stop offset=".047" stop-color="#1900ff"/><stop offset=".081" stop-color="#2b00ff"/><stop offset=".128" stop-color="#3b00ff"/><stop offset=".233" stop-color="#5400ff"/><stop offset=".535" stop-color="#8200ff"/><stop offset="1" stop-color="#b200ff"/></linearGradient>
<linearGradient id="r243" gradientUnits="userSpaceOnUse" x1="119" x2="196"><stop offset="0" stop-color="#1800ff"/><stop offset=".052" stop-color="#2f00ff"/><stop offset=".091" stop-color="#3a00ff"/><stop offset=".195" stop-color="#5100ff"/><stop offset=".312" stop-color="#6400ff"/><stop offset=".597" stop-color="#8700ff"/><stop offset="1" stop-color="#ac00ff"/></linearGradient>
<linearGradient id="r244" gradientUnits="userSpaceOnUse" x1="123" x2="189"><stop offset="0" stop-color="#3200ff"/><stop offset=".182" stop-color="#50f"/><stop offset=".379" stop-color="#6e00ff"/><stop offset="1" stop-color="#a500ff"/></linearGradient>
<linearGradient id="r245" gradientUnits="userSpaceOnUse" x1="126" x2="183"><stop offset="0" stop-color="#3f00ff"/><stop offset=".14" stop-color="#5400ff"/><stop offset=".386" stop-color="#6f00ff"/><stop offset="1" stop-color="#9e00ff"/></linearGradient>
<linearGradient id="r246" gradientUnits="userSpaceOnUse" x1="129" x2="176"><stop offset="0" stop-color="#4700ff"/><stop offset=".404" stop-color="#6f00ff"/><stop offset="1" stop-color="#9600ff"/></linearGradient>
<linearGradient id="r247" gradientUnits="userSpaceOnUse" x1="133" x2="169"><stop offset="0" stop-color="#5100ff"/><stop offset=".417" stop-color="#6f00ff"/><stop offset="1" stop-color="#8d00ff"/></linearGradient>
<filter id="soft" x="-5%" y="-5%" width="110%" height="110%"><feGaussianBlur stdDeviation="3.4"/></filter>
<g id="gamut"><g clip-path="url(#locus)"><g filter="url(#soft)">
<rect x="43" y="-736" width="56" height="3.6" fill="url(#r0)"/>
<rect x="36" y="-733" width="72" height="3.6" fill="url(#r1)"/>
<rect x="32" y="-730" width="84" height="3.6" fill="url(#r2)"/>
<rect x="28" y="-727" width="94" height="3.6" fill="url(#r3)"/>
<rect x="25" y="-724" width="104" height="3.6" fill="url(#r4)"/>
<rect x="22" y="-721" width="112" height="3.6" fill="url(#r5)"/>
<rect x="20" y="-718" width="120" height="3.6" fill="url(#r6)"/>
<rect x="18" y="-715" width="127" height="3.6" fill="url(#r7)"/>
<rect x="16" y="-712" width="134" height="3.6" fill="url(#r8)"/>
<rect x="15" y="-709" width="140" height="3.6" fill="url(#r9)"/>
<rect x="13" y="-706" width="147" height="3.6" fill="url(#r10)"/>
<rect x="12" y="-703" width="153" height="3.6" fill="url(#r11)"/>
<rect x="10" y="-700" width="160" height="3.6" fill="url(#r12)"/>
<rect x="9" y="-697" width="165" height="3.6" fill="url(#r13)"/>
<rect x="8" y="-694" width="170" height="3.6" fill="url(#r14)"/>
<rect x="7" y="-691" width="176" height="3.6" fill="url(#r15)"/>
<rect x="6" y="-688" width="181" height="3.6" fill="url(#r16)"/>
<rect x="5" y="-685" width="186" height="3.6" fill="url(#r17)"/>
<rect x="4" y="-682" width="191" height="3.6" fill="url(#r18)"/>
<rect x="3" y="-679" width="196" height="3.6" fill="url(#r19)"/>
<rect x="2" y="-676" width="201" height="3.6" fill="url(#r20)"/>
<rect x="1" y="-673" width="206" height="3.6" fill="url(#r21)"/>
<rect x="1" y="-670" width="210" height="3.6" fill="url(#r22)"/>
<rect x="0" y="-667" width="215" height="3.6" fill="url(#r23)"/>
<rect x="-1" y="-664" width="219" height="3.6" fill="url(#r24)"/>
<rect x="-1" y="-661" width="223" height="3.6" fill="url(#r25)"/>
<rect x="-2" y="-658" width="228" height="3.6" fill="url(#r26)"/>
<rect x="-3" y="-655" width="232" height="3.6" fill="url(#r27)"/>
<rect x="-3" y="-652" width="236" height="3.6" fill="url(#r28)"/>
<rect x="-4" y="-649" width="240" height="3.6" fill="url(#r29)"/>
<rect x="-4" y="-646" width="244" height="3.6" fill="url(#r30)"/>
<rect x="-5" y="-643" width="248" height="3.6" fill="url(#r31)"/>
<rect x="-5" y="-640" width="252" height="3.6" fill="url(#r32)"/>
<rect x="-5" y="-637" width="255" height="3.6" fill="url(#r33)"/>
<rect x="-6" y="-634" width="260" height="3.6" fill="url(#r34)"/>
<rect x="-6" y="-631" width="263" height="3.6" fill="url(#r35)"/>
<rect x="-6" y="-628" width="266" height="3.6" fill="url(#r36)"/>
<rect x="-7" y="-625" width="271" height="3.6" fill="url(#r37)"/>
<rect x="-7" y="-622" width="274" height="3.6" fill="url(#r38)"/>
<rect x="-7" y="-619" width="277" height="3.6" fill="url(#r39)"/>
<rect x="-7" y="-616" width="281" height="3.6" fill="url(#r40)"/>
<rect x="-8" y="-613" width="285" height="3.6" fill="url(#r41)"/>
<rect x="-8" y="-610" width="288" height="3.6" fill="url(#r42)"/>
<rect x="-8" y="-607" width="291" height="3.6" fill="url(#r43)"/>
<rect x="-8" y="-604" width="295" height="3.6" fill="url(#r44)"/>
<rect x="-8" y="-601" width="298" height="3.6" fill="url(#r45)"/>
<rect x="-9" y="-598" width="302" height="3.6" fill="url(#r46)"/>
<rect x="-9" y="-595" width="305" height="3.6" fill="url(#r47)"/>
<rect x="-9" y="-592" width="308" height="3.6" fill="url(#r48)"/>
<rect x="-9" y="-589" width="311" height="3.6" fill="url(#r49)"/>
<rect x="-9" y="-586" width="315" height="3.6" fill="url(#r50)"/>
<rect x="-9" y="-583" width="318" height="3.6" fill="url(#r51)"/>
<rect x="-9" y="-580" width="321" height="3.6" fill="url(#r52)"/>
<rect x="-9" y="-577" width="324" height="3.6" fill="url(#r53)"/>
<rect x="-9" y="-574" width="327" height="3.6" fill="url(#r54)"/>
<rect x="-9" y="-571" width="330" height="3.6" fill="url(#r55)"/>
<rect x="-9" y="-568" width="333" height="3.6" fill="url(#r56)"/>
<rect x="-9" y="-565" width="336" height="3.6" fill="url(#r57)"/>
<rect x="-9" y="-562" width="340" height="3.6" fill="url(#r58)"/>
<rect x="-9" y="-559" width="343" height="3.6" fill="url(#r59)"/>
<rect x="-9" y="-556" width="346" height="3.6" fill="url(#r60)"/>
<rect x="-9" y="-553" width="349" height="3.6" fill="url(#r61)"/>
<rect x="-9" y="-550" width="352" height="3.6" fill="url(#r62)"/>
<rect x="-9" y="-547" width="355" height="3.6" fill="url(#r63)"/>
<rect x="-9" y="-544" width="358" height="3.6" fill="url(#r64)"/>
<rect x="-9" y="-541" width="361" height="3.6" fill="url(#r65)"/>
<rect x="-9" y="-538" width="364" height="3.6" fill="url(#r66)"/>
<rect x="-9" y="-535" width="367" height="3.6" fill="url(#r67)"/>
<rect x="-9" y="-532" width="370" height="3.6" fill="url(#r68)"/>
<rect x="-9" y="-529" width="373" height="3.6" fill="url(#r69)"/>
<rect x="-9" y="-526" width="376" height="3.6" fill="url(#r70)"/>
<rect x="-9" y="-523" width="379" height="3.6" fill="url(#r71)"/>
<rect x="-9" y="-520" width="383" height="3.6" fill="url(#r72)"/>
<rect x="-9" y="-517" width="386" height="3.6" fill="url(#r73)"/>
<rect x="-9" y="-514" width="389" height="3.6" fill="url(#r74)"/>
<rect x="-9" y="-511" width="392" height="3.6" fill="url(#r75)"/>
<rect x="-9" y="-508" width="395" height="3.6" fill="url(#r76)"/>
<rect x="-9" y="-505" width="398" height="3.6" fill="url(#r77)"/>
<rect x="-8" y="-502" width="400" height="3.6" fill="url(#r78)"/>
<rect x="-8" y="-499" width="403" height="3.6" fill="url(#r79)"/>
<rect x="-8" y="-496" width="406" height="3.6" fill="url(#r80)"/>
<rect x="-8" y="-493" width="409" height="3.6" fill="url(#r81)"/>
<rect x="-8" y="-490" width="412" height="3.6" fill="url(#r82)"/>
<rect x="-8" y="-487" width="415" height="3.6" fill="url(#r83)"/>
<rect x="-7" y="-484" width="417" height="3.6" fill="url(#r84)"/>
<rect x="-7" y="-481" width="420" height="3.6" fill="url(#r85)"/>
<rect x="-7" y="-478" width="423" height="3.6" fill="url(#r86)"/>
<rect x="-7" y="-475" width="426" height="3.6" fill="url(#r87)"/>
<rect x="-7" y="-472" width="429" height="3.6" fill="url(#r88)"/>
<rect x="-6" y="-469" width="431" height="3.6" fill="url(#r89)"/>
<rect x="-6" y="-466" width="434" height="3.6" fill="url(#r90)"/>
<rect x="-6" y="-463" width="437" height="3.6" fill="url(#r91)"/>
<rect x="-6" y="-460" width="440" height="3.6" fill="url(#r92)"/>
<rect x="-6" y="-457" width="443" height="3.6" fill="url(#r93)"/>
<rect x="-5" y="-454" width="445" height="3.6" fill="url(#r94)"/>
<rect x="-5" y="-451" width="448" height="3.6" fill="url(#r95)"/>
<rect x="-5" y="-448" width="451" height="3.6" fill="url(#r96)"/>
<rect x="-4" y="-445" width="453" height="3.6" fill="url(#r97)"/>
<rect x="-4" y="-442" width="456" height="3.6" fill="url(#r98)"/>
<rect x="-4" y="-439" width="459" height="3.6" fill="url(#r99)"/>
<rect x="-4" y="-436" width="462" height="3.6" fill="url(#r100)"/>
<rect x="-3" y="-433" width="464" height="3.6" fill="url(#r101)"/>
<rect x="-3" y="-430" width="467" height="3.6" fill="url(#r102)"/>
<rect x="-3" y="-427" width="470" height="3.6" fill="url(#r103)"/>
<rect x="-2" y="-424" width="472" height="3.6" fill="url(#r104)"/>
<rect x="-2" y="-421" width="475" height="3.6" fill="url(#r105)"/>
<rect x="-2" y="-418" width="478" height="3.6" fill="url(#r106)"/>
<rect x="-1" y="-415" width="480" height="3.6" fill="url(#r107)"/>
<rect x="-1" y="-412" width="483" height="3.6" fill="url(#r108)"/>
<rect x="-1" y="-409" width="486" height="3.6" fill="url(#r109)"/>
<rect x="0" y="-406" width="488" height="3.6" fill="url(#r110)"/>
<rect x="0" y="-403" width="491" height="3.6" fill="url(#r111)"/>
<rect x="0" y="-400" width="494" height="3.6" fill="url(#r112)"/>
<rect x="1" y="-397" width="496" height="3.6" fill="url(#r113)"/>
<rect x="1" y="-394" width="499" height="3.6" fill="url(#r114)"/>
<rect x="1" y="-391" width="502" height="3.6" fill="url(#r115)"/>
<rect x="2" y="-388" width="504" height="3.6" fill="url(#r116)"/>
<rect x="2" y="-385" width="507" height="3.6" fill="url(#r117)"/>
<rect x="3" y="-382" width="509" height="3.6" fill="url(#r118)"/>
<rect x="3" y="-379" width="512" height="3.6" fill="url(#r119)"/>
<rect x="3" y="-376" width="515" height="3.6" fill="url(#r120)"/>
<rect x="4" y="-373" width="517" height="3.6" fill="url(#r121)"/>
<rect x="4" y="-370" width="520" height="3.6" fill="url(#r122)"/>
<rect x="5" y="-367" width="522" height="3.6" fill="url(#r123)"/>
<rect x="5" y="-364" width="525" height="3.6" fill="url(#r124)"/>
<rect x="6" y="-361" width="527" height="3.6" fill="url(#r125)"/>
<rect x="6" y="-358" width="530" height="3.6" fill="url(#r126)"/>
<rect x="7" y="-355" width="532" height="3.6" fill="url(#r127)"/>
<rect x="7" y="-352" width="535" height="3.6" fill="url(#r128)"/>
<rect x="7" y="-349" width="538" height="3.6" fill="url(#r129)"/>
<rect x="8" y="-346" width="540" height="3.6" fill="url(#r130)"/>
<rect x="8" y="-343" width="543" height="3.6" fill="url(#r131)"/>
<rect x="9" y="-340" width="545" height="3.6" fill="url(#r132)"/>
<rect x="9" y="-337" width="548" height="3.6" fill="url(#r133)"/>
<rect x="10" y="-334" width="550" height="3.6" fill="url(#r134)"/>
<rect x="10" y="-331" width="553" height="3.6" fill="url(#r135)"/>
<rect x="11" y="-328" width="555" height="3.6" fill="url(#r136)"/>
<rect x="11" y="-325" width="558" height="3.6" fill="url(#r137)"/>
<rect x="12" y="-322" width="560" height="3.6" fill="url(#r138)"/>
<rect x="12" y="-319" width="563" height="3.6" fill="url(#r139)"/>
<rect x="13" y="-316" width="565" height="3.6" fill="url(#r140)"/>
<rect x="13" y="-313" width="568" height="3.6" fill="url(#r141)"/>
<rect x="14" y="-310" width="570" height="3.6" fill="url(#r142)"/>
<rect x="14" y="-307" width="573" height="3.6" fill="url(#r143)"/>
<rect x="15" y="-304" width="576" height="3.6" fill="url(#r144)"/>
<rect x="15" y="-301" width="579" height="3.6" fill="url(#r145)"/>
<rect x="16" y="-298" width="581" height="3.6" fill="url(#r146)"/>
<rect x="17" y="-295" width="583" height="3.6" fill="url(#r147)"/>
<rect x="17" y="-292" width="586" height="3.6" fill="url(#r148)"/>
<rect x="18" y="-289" width="588" height="3.6" fill="url(#r149)"/>
<rect x="18" y="-286" width="591" height="3.6" fill="url(#r150)"/>
<rect x="19" y="-283" width="593" height="3.6" fill="url(#r151)"/>
<rect x="19" y="-280" width="596" height="3.6" fill="url(#r152)"/>
<rect x="20" y="-277" width="598" height="3.6" fill="url(#r153)"/>
<rect x="21" y="-274" width="600" height="3.6" fill="url(#r154)"/>
<rect x="21" y="-271" width="603" height="3.6" fill="url(#r155)"/>
<rect x="22" y="-268" width="605" height="3.6" fill="url(#r156)"/>
<rect x="22" y="-265" width="608" height="3.6" fill="url(#r157)"/>
<rect x="23" y="-262" width="610" height="3.6" fill="url(#r158)"/>
<rect x="24" y="-259" width="612" height="3.6" fill="url(#r159)"/>
<rect x="24" y="-256" width="615" height="3.6" fill="url(#r160)"/>
<rect x="25" y="-253" width="617" height="3.6" fill="url(#r161)"/>
<rect x="26" y="-250" width="619" height="3.6" fill="url(#r162)"/>
<rect x="26" y="-247" width="622" height="3.6" fill="url(#r163)"/>
<rect x="27" y="-244" width="624" height="3.6" fill="url(#r164)"/>
<rect x="27" y="-241" width="626" height="3.6" fill="url(#r165)"/>
<rect x="28" y="-238" width="625" height="3.6" fill="url(#r166)"/>
<rect x="29" y="-235" width="624" height="3.6" fill="url(#r167)"/>
<rect x="29" y="-232" width="624" height="3.6" fill="url(#r168)"/>
<rect x="30" y="-229" width="623" height="3.6" fill="url(#r169)"/>
<rect x="31" y="-226" width="622" height="3.6" fill="url(#r170)"/>
<rect x="32" y="-223" width="621" height="3.6" fill="url(#r171)"/>
<rect x="32" y="-220" width="621" height="3.6" fill="url(#r172)"/>
<rect x="33" y="-217" width="620" height="3.6" fill="url(#r173)"/>
<rect x="34" y="-214" width="616" height="3.6" fill="url(#r174)"/>
<rect x="34" y="-211" width="610" height="3.6" fill="url(#r175)"/>
<rect x="35" y="-208" width="602" height="3.6" fill="url(#r176)"/>
<rect x="36" y="-205" width="594" height="3.6" fill="url(#r177)"/>
<rect x="36" y="-202" width="588" height="3.6" fill="url(#r178)"/>
<rect x="37" y="-199" width="580" height="3.6" fill="url(#r179)"/>
<rect x="38" y="-196" width="573" height="3.6" fill="url(#r180)"/>
<rect x="39" y="-193" width="565" height="3.6" fill="url(#r181)"/>
<rect x="39" y="-190" width="559" height="3.6" fill="url(#r182)"/>
<rect x="40" y="-187" width="551" height="3.6" fill="url(#r183)"/>
<rect x="41" y="-184" width="543" height="3.6" fill="url(#r184)"/>
<rect x="42" y="-181" width="536" height="3.6" fill="url(#r185)"/>
<rect x="43" y="-178" width="528" height="3.6" fill="url(#r186)"/>
<rect x="43" y="-175" width="522" height="3.6" fill="url(#r187)"/>
<rect x="44" y="-172" width="514" height="3.6" fill="url(#r188)"/>
<rect x="45" y="-169" width="506" height="3.6" fill="url(#r189)"/>
<rect x="46" y="-166" width="499" height="3.6" fill="url(#r190)"/>
<rect x="47" y="-163" width="491" height="3.6" fill="url(#r191)"/>
<rect x="48" y="-160" width="484" height="3.6" fill="url(#r192)"/>
<rect x="49" y="-157" width="476" height="3.6" fill="url(#r193)"/>
<rect x="50" y="-154" width="468" height="3.6" fill="url(#r194)"/>
<rect x="50" y="-151" width="462" height="3.6" fill="url(#r195)"/>
<rect x="51" y="-148" width="454" height="3.6" fill="url(#r196)"/>
<rect x="52" y="-145" width="447" height="3.6" fill="url(#r197)"/>
<rect x="53" y="-142" width="439" height="3.6" fill="url(#r198)"/>
<rect x="54" y="-139" width="432" height="3.6" fill="url(#r199)"/>
<rect x="55" y="-136" width="424" height="3.6" fill="url(#r200)"/>
<rect x="56" y="-133" width="416" height="3.6" fill="url(#r201)"/>
<rect x="57" y="-130" width="409" height="3.6" fill="url(#r202)"/>
<rect x="58" y="-127" width="401" height="3.6" fill="url(#r203)"/>
<rect x="59" y="-124" width="394" height="3.6" fill="url(#r204)"/>
<rect x="60" y="-121" width="386" height="3.6" fill="url(#r205)"/>
<rect x="61" y="-118" width="378" height="3.6" fill="url(#r206)"/>
<rect x="62" y="-115" width="371" height="3.6" fill="url(#r207)"/>
<rect x="63" y="-112" width="363" height="3.6" fill="url(#r208)"/>
<rect x="65" y="-109" width="355" height="3.6" fill="url(#r209)"/>
<rect x="66" y="-106" width="347" height="3.6" fill="url(#r210)"/>
<rect x="67" y="-103" width="339" height="3.6" fill="url(#r211)"/>
<rect x="68" y="-100" width="332" height="3.6" fill="url(#r212)"/>
<rect x="69" y="-97" width="324" height="3.6" fill="url(#r213)"/>
<rect x="70" y="-94" width="317" height="3.6" fill="url(#r214)"/>
<rect x="71" y="-91" width="309" height="3.6" fill="url(#r215)"/>
<rect x="72" y="-88" width="302" height="3.6" fill="url(#r216)"/>
<rect x="74" y="-85" width="293" height="3.6" fill="url(#r217)"/>
<rect x="75" y="-82" width="285" height="3.6" fill="url(#r218)"/>
<rect x="76" y="-79" width="278" height="3.6" fill="url(#r219)"/>
<rect x="77" y="-76" width="270" height="3.6" fill="url(#r220)"/>
<rect x="78" y="-73" width="263" height="3.6" fill="url(#r221)"/>
<rect x="80" y="-70" width="254" height="3.6" fill="url(#r222)"/>
<rect x="81" y="-67" width="246" height="3.6" fill="url(#r223)"/>
<rect x="82" y="-64" width="239" height="3.6" fill="url(#r224)"/>
<rect x="84" y="-61" width="230" height="3.6" fill="url(#r225)"/>
<rect x="85" y="-58" width="223" height="3.6" fill="url(#r226)"/>
<rect x="86" y="-55" width="215" height="3.6" fill="url(#r227)"/>
<rect x="88" y="-52" width="207" height="3.6" fill="url(#r228)"/>
<rect x="89" y="-49" width="199" height="3.6" fill="url(#r229)"/>
<rect x="91" y="-46" width="190" height="3.6" fill="url(#r230)"/>
<rect x="92" y="-43" width="183" height="3.6" fill="url(#r231)"/>
<rect x="94" y="-40" width="174" height="3.6" fill="url(#r232)"/>
<rect x="96" y="-37" width="166" height="3.6" fill="url(#r233)"/>
<rect x="98" y="-34" width="157" height="3.6" fill="url(#r234)"/>
<rect x="99" y="-31" width="149" height="3.6" fill="url(#r235)"/>
<rect x="101" y="-28" width="141" height="3.6" fill="url(#r236)"/>
<rect x="103" y="-25" width="132" height="3.6" fill="url(#r237)"/>
<rect x="105" y="-22" width="124" height="3.6" fill="url(#r238)"/>
<rect x="108" y="-19" width="114" height="3.6" fill="url(#r239)"/>
<rect x="110" y="-16" width="105" height="3.6" fill="url(#r240)"/>
<rect x="113" y="-13" width="96" height="3.6" fill="url(#r241)"/>
<rect x="116" y="-10" width="86" height="3.6" fill="url(#r242)"/>
<rect x="119" y="-7" width="77" height="3.6" fill="url(#r243)"/>
<rect x="123" y="-4" width="66" height="3.6" fill="url(#r244)"/>
<rect x="126" y="-1" width="57" height="3.6" fill="url(#r245)"/>
<rect x="129" y="2" width="47" height="3.6" fill="url(#r246)"/>
<rect x="133" y="5" width="36" height="3.6" fill="url(#r247)"/>
</g></g><path d="M151.0,-4.3 150.5,-4.3 150.0,-4.1 149.5,-4.2 149.0,-4.2 148.4,-4.5 147.9,-4.9 147.4,-5.2 147.0,-5.6 146.4,-6.0 145.8,-6.5 145.1,-7.1 144.7,-7.4 144.3,-7.8 143.9,-8.2 143.5,-8.6 143.0,-9.0 142.5,-9.4 142.0,-9.9 141.5,-10.4 140.9,-10.9 140.3,-11.4 139.7,-12.0 139.0,-12.6 138.3,-13.2 137.5,-13.9 136.7,-14.6 135.8,-15.4 134.9,-16.1 134.0,-17.0 133.0,-17.8 132.0,-18.8 130.9,-19.7 129.8,-20.8 128.6,-21.9 127.4,-23.1 126.1,-24.4 124.8,-25.8 123.5,-27.2 122.1,-28.8 120.6,-30.5 119.1,-32.5 117.5,-34.6 115.8,-37.0 113.9,-39.8 111.9,-42.9 109.8,-46.4 107.6,-50.1 105.3,-54.3 102.9,-58.8 100.4,-63.8 97.8,-69.3 95.0,-75.3 92.1,-82.0 89.1,-89.2 85.9,-97.2 82.6,-105.8 79.2,-115.1 75.5,-125.2 71.7,-136.1 67.7,-147.9 63.7,-160.5 59.6,-174.1 55.5,-188.7 51.4,-204.1 47.4,-220.5 43.4,-237.7 39.4,-255.9 35.3,-275.0 31.4,-294.9 27.5,-315.5 23.8,-336.6 20.3,-358.1 17.1,-379.8 14.1,-401.7 11.4,-423.6 9.1,-445.4 7.1,-467.1 5.4,-488.5 4.2,-509.4 3.5,-529.6 3.2,-549.2 3.3,-568.1 4.0,-586.4 5.2,-604.0 6.9,-620.6 9.2,-636.3 12.0,-650.9 15.4,-664.2 19.3,-676.4 23.6,-687.2 28.5,-696.6 33.7,-704.5 39.3,-710.9 45.2,-715.9 51.4,-719.6 57.8,-722.1 64.4,-723.4 71.1,-723.7 78.0,-723.0 84.9,-721.5 91.9,-719.4 99.0,-716.8 106.1,-713.8 113.2,-710.5 120.3,-706.9 127.3,-703.1 134.1,-699.2 140.9,-695.2 147.6,-691.1 154.2,-686.9 160.7,-682.6 167.2,-678.1 173.7,-673.6 180.1,-669.0 186.4,-664.2 192.8,-659.4 199.1,-654.5 205.4,-649.4 211.7,-644.3 217.9,-639.1 224.2,-633.8 230.4,-628.4 236.7,-623.0 242.9,-617.5 249.1,-611.9 255.3,-606.3 261.5,-600.6 267.7,-594.9 273.9,-589.2 280.1,-583.3 286.3,-577.5 292.5,-571.6 298.7,-565.7 304.9,-559.8 311.1,-553.8 317.3,-547.8 323.5,-541.8 329.7,-535.7 335.9,-529.7 342.0,-523.7 348.2,-517.6 354.4,-511.5 360.5,-505.5 366.7,-499.4 372.8,-493.4 378.9,-487.3 385.0,-481.3 391.1,-475.2 397.1,-469.2 403.1,-463.2 409.1,-457.3 415.1,-451.3 421.0,-445.4 426.9,-439.5 432.8,-433.7 438.6,-427.9 444.3,-422.2 450.0,-416.5 455.7,-410.8 461.3,-405.2 466.8,-399.7 472.3,-394.3 477.7,-388.9 483.1,-383.6 488.4,-378.3 493.5,-373.2 498.7,-368.1 503.7,-363.0 508.6,-358.1 513.5,-353.3 518.2,-348.6 522.7,-344.0 527.2,-339.6 531.5,-335.3 535.6,-331.2 539.7,-327.1 543.6,-323.2 547.5,-319.3 551.3,-315.5 555.0,-311.8 558.6,-308.3 562.0,-304.9 565.3,-301.6 568.5,-298.5 571.5,-295.5 574.4,-292.6 577.2,-289.8 579.9,-287.1 582.5,-284.5 585.0,-282.1 587.4,-279.7 589.6,-277.4 591.8,-275.2 593.9,-273.2 595.8,-271.2 597.7,-269.3 599.5,-267.5 601.4,-265.7 603.2,-263.9 604.9,-262.2 606.5,-260.6 608.1,-259.0 609.6,-257.5 611.0,-256.1 612.4,-254.8 613.7,-253.5 614.9,-252.2 616.2,-251.0 617.4,-249.8 618.5,-248.6 619.6,-247.5 620.7,-246.5 621.7,-245.4 622.7,-244.5 623.6,-243.5 624.5,-242.6 625.4,-241.8 626.2,-240.9 627.0,-240.2 627.8,-239.4 628.5,-238.7 629.1,-238.0 629.8,-237.4 630.4,-236.8 630.9,-236.3 631.4,-235.7 631.9,-235.3 632.4,-234.8 632.8,-234.3 633.3,-233.9 633.7,-233.5 634.1,-233.1 634.4,-232.8 634.8,-232.4 635.1,-232.1 635.7,-231.5 636.1,-231.0 636.5,-230.6 636.9,-230.3 637.2,-229.9 637.6,-229.6 638.0,-229.2 638.4,-228.8 638.8,-228.4 639.1,-228.0 639.5,-227.7 639.8,-227.4 640.1,-227.1Z" fill="none" stroke="#000" stroke-opacity=".4" stroke-width="1.5"/></g>
<path id="grid" class="grid" d="M43.4,-3V-777.8M86.7,-3V-777.8M130.1,-3V-777.8M173.4,-3V-777.8M216.8,-3V-777.8M260.1,-3V-777.8M303.5,-3V-777.8M346.8,-3V-777.8M390.2,-3V-777.8M433.5,-3V-777.8M476.9,-3V-777.8M520.2,-3V-777.8M563.6,-3V-777.8M606.9,-3V-777.8M650.2,-3V-777.8M3,-43.4H690.6M3,-86.8H690.6M3,-130.1H690.6M3,-173.5H690.6M3,-216.9H690.6M3,-260.3H690.6M3,-303.7H690.6M3,-347H690.6M3,-390.4H690.6M3,-433.8H690.6M3,-477.2H690.6M3,-520.6H690.6M3,-563.9H690.6M3,-607.3H690.6M3,-650.7H690.6M3,-694.1H690.6M3,-737.5H690.6"/>
<path id="gridin" clip-path="url(#locus)" d="M43.4,-3V-777.8M86.7,-3V-777.8M130.1,-3V-777.8M173.4,-3V-777.8M216.8,-3V-777.8M260.1,-3V-777.8M303.5,-3V-777.8M346.8,-3V-777.8M390.2,-3V-777.8M433.5,-3V-777.8M476.9,-3V-777.8M520.2,-3V-777.8M563.6,-3V-777.8M606.9,-3V-777.8M650.2,-3V-777.8M3,-43.4H690.6M3,-86.8H690.6M3,-130.1H690.6M3,-173.5H690.6M3,-216.9H690.6M3,-260.3H690.6M3,-303.7H690.6M3,-347H690.6M3,-390.4H690.6M3,-433.8H690.6M3,-477.2H690.6M3,-520.6H690.6M3,-563.9H690.6M3,-607.3H690.6M3,-650.7H690.6M3,-694.1H690.6M3,-737.5H690.6" fill="none" stroke="#555" stroke-opacity=".04" stroke-width="1.6"/>
<path id="axes" class="ax" d="M-20.8,0H693.6M0,21.6V-780.8M-11.2,-780.8H693.6M693.6,-780.8V21.6M86.7,0V10.6M173.4,0V21.6M260.1,0V10.6M346.8,0V21.6M433.5,0V10.6M520.2,0V21.6M606.9,0V10.6M-10.8,-86.8H0M-21.4,-173.5H0M-10.8,-260.3H0M-21.4,-347H0M-10.8,-433.8H0M-21.4,-520.6H0M-10.8,-607.3H0M-21.4,-694.1H0"/>
</defs>
<rect width="1707" height="1043" fill="#fff"/>
<text class="ser" x="525.2" y="41.6" font-size="57.55">CIE chromaticiy diagram 1931</text>
<g transform="translate(104.0,884.9)">
<use href="#grid"/>
<path class="wt" d="M62.5,-722.4L62.2,-733.4M197,-654.9L206,-664.9M320.8,-541.4L329.6,-548.9M442.9,-422.9L451,-430.4M542.5,-324.2L552.6,-332.2M599,-268.8L608.8,-275.9M639.3,-225.9L649.4,-234.9M9,-466.5L-5,-469.6M43,-258.7L29.6,-254.3M80,-116.9L69.9,-113.2M109.5,-52.4L98.4,-46.7M125,-28L116.3,-19.3M153,-4.9L146.9,5"/>
<use href="#gamut"/>
<use href="#gridin"/>
<text class="wl" x="41.9" y="-742.4">520</text><text class="wl" x="205.5" y="-673.3">540</text><text class="wl" x="332.8" y="-557.7">560</text><text class="wl" x="451.2" y="-435.9">580</text><text class="wl" x="555.2" y="-336.6">600</text><text class="wl" x="607.6" y="-280.1">620</text><text class="wl" x="652.7" y="-224.5">700</text><text class="wl" x="-51.6" y="-458.3">500</text><text class="wl" x="-3.2" y="-227.6">490</text><text class="wl" x="22.9" y="-100.8">480</text><text class="wl" x="50.9" y="-35.2">470</text><text class="wl" x="70.3" y="-3.8">460</text><text class="wl" x="169.5" y="9.5">380</text>
<rect x="694.9" y="-246.9" width="16" height="28" fill="#fff"/>
<use href="#axes"/>
</g>
<g transform="translate(987.5,895.1)">
<use href="#grid"/>
<path class="wt" d="M62.5,-722.4L62.2,-733.4M197,-654.9L206,-664.9M320.8,-541.4L329.6,-548.9M442.9,-422.9L451,-430.4M542.5,-324.2L552.6,-332.2M599,-268.8L608.8,-275.9M639.3,-225.9L649.4,-234.9M9,-466.5L-5,-469.6M43,-258.7L29.6,-254.3M80,-116.9L69.9,-113.2M109.5,-52.4L98.4,-46.7M125,-28L116.3,-19.3M153,-4.9L146.9,5"/>
<use href="#gamut"/>
<use href="#gridin"/>
<text class="wl" x="41.9" y="-742.4">520</text><text class="wl" x="205.5" y="-673.3">540</text><text class="wl" x="332.8" y="-557.7">560</text><text class="wl" x="451.2" y="-435.9">580</text><text class="wl" x="555.2" y="-336.6">600</text><text class="wl" x="607.6" y="-280.1">620</text><text class="wl" x="652.7" y="-224.5">700</text><text class="wl" x="-51.6" y="-458.3">500</text><text class="wl" x="-3.2" y="-227.6">490</text><text class="wl" x="22.9" y="-100.8">480</text><text class="wl" x="50.9" y="-35.2">470</text><text class="wl" x="70.3" y="-3.8">460</text><text class="wl" x="169.5" y="9.5">380</text>
<rect x="694.9" y="-246.9" width="16" height="28" fill="#fff"/>
<use href="#axes"/>
</g>
<text class="tk"><tspan x="25.0" y="717.7" font-size="28.6" textLength="22.2" lengthAdjust="spacingAndGlyphs">0</tspan><tspan x="44.4" y="717.7" font-size="42.7" textLength="12.1" lengthAdjust="spacingAndGlyphs">.</tspan><tspan x="55.3" y="717.7" font-size="28.6" textLength="19.1" lengthAdjust="spacingAndGlyphs">2</tspan></text>
<text class="tk"><tspan x="25.0" y="544.2" font-size="28.6" textLength="22.2" lengthAdjust="spacingAndGlyphs">0</tspan><tspan x="44.4" y="544.2" font-size="42.7" textLength="12.1" lengthAdjust="spacingAndGlyphs">.</tspan><tspan x="53.9" y="549.5" font-size="36.5" textLength="20.4" lengthAdjust="spacingAndGlyphs">4</tspan></text>
<text class="tk"><tspan x="25.0" y="370.6" font-size="28.6" textLength="22.2" lengthAdjust="spacingAndGlyphs">0</tspan><tspan x="44.4" y="370.6" font-size="42.7" textLength="12.1" lengthAdjust="spacingAndGlyphs">.</tspan><tspan x="55.1" y="370.6" font-size="36.3" textLength="19.7" lengthAdjust="spacingAndGlyphs">6</tspan></text>
<text class="tk"><tspan x="25.0" y="197.1" font-size="28.6" textLength="22.2" lengthAdjust="spacingAndGlyphs">0</tspan><tspan x="44.4" y="197.1" font-size="42.7" textLength="12.1" lengthAdjust="spacingAndGlyphs">.</tspan><tspan x="55.3" y="197.1" font-size="36.3" textLength="19.3" lengthAdjust="spacingAndGlyphs">8</tspan></text>
<text class="tk"><tspan x="92.9" y="937.7" font-size="28.6" textLength="22.2" lengthAdjust="spacingAndGlyphs">0</tspan></text>
<text class="tk"><tspan x="252.1" y="937.7" font-size="28.6" textLength="22.2" lengthAdjust="spacingAndGlyphs">0</tspan><tspan x="271.5" y="937.7" font-size="42.7" textLength="12.1" lengthAdjust="spacingAndGlyphs">.</tspan><tspan x="282.4" y="937.7" font-size="28.6" textLength="19.1" lengthAdjust="spacingAndGlyphs">2</tspan></text>
<text class="tk"><tspan x="425.5" y="937.7" font-size="28.6" textLength="22.2" lengthAdjust="spacingAndGlyphs">0</tspan><tspan x="444.9" y="937.7" font-size="42.7" textLength="12.1" lengthAdjust="spacingAndGlyphs">.</tspan><tspan x="454.4" y="943.0" font-size="36.5" textLength="20.4" lengthAdjust="spacingAndGlyphs">4</tspan></text>
<text class="tk"><tspan x="598.9" y="937.7" font-size="28.6" textLength="22.2" lengthAdjust="spacingAndGlyphs">0</tspan><tspan x="618.3" y="937.7" font-size="42.7" textLength="12.1" lengthAdjust="spacingAndGlyphs">.</tspan><tspan x="629.0" y="937.7" font-size="36.3" textLength="19.7" lengthAdjust="spacingAndGlyphs">6</tspan></text>
<text class="tk"><tspan x="772.3" y="937.7" font-size="28.6" textLength="22.2" lengthAdjust="spacingAndGlyphs">0</tspan><tspan x="791.8" y="937.7" font-size="42.7" textLength="12.1" lengthAdjust="spacingAndGlyphs">.</tspan><tspan x="802.6" y="937.7" font-size="36.3" textLength="19.3" lengthAdjust="spacingAndGlyphs">8</tspan></text>
<text class="tk"><tspan x="908.5" y="727.9" font-size="28.6" textLength="22.2" lengthAdjust="spacingAndGlyphs">0</tspan><tspan x="928.0" y="727.9" font-size="42.7" textLength="12.1" lengthAdjust="spacingAndGlyphs">.</tspan><tspan x="938.8" y="727.9" font-size="28.6" textLength="19.1" lengthAdjust="spacingAndGlyphs">2</tspan></text>
<text class="tk"><tspan x="908.5" y="554.4" font-size="28.6" textLength="22.2" lengthAdjust="spacingAndGlyphs">0</tspan><tspan x="928.0" y="554.4" font-size="42.7" textLength="12.1" lengthAdjust="spacingAndGlyphs">.</tspan><tspan x="937.4" y="559.7" font-size="36.5" textLength="20.4" lengthAdjust="spacingAndGlyphs">4</tspan></text>
<text class="tk"><tspan x="908.5" y="380.8" font-size="28.6" textLength="22.2" lengthAdjust="spacingAndGlyphs">0</tspan><tspan x="928.0" y="380.8" font-size="42.7" textLength="12.1" lengthAdjust="spacingAndGlyphs">.</tspan><tspan x="938.6" y="380.8" font-size="36.3" textLength="19.7" lengthAdjust="spacingAndGlyphs">6</tspan></text>
<text class="tk"><tspan x="908.5" y="207.3" font-size="28.6" textLength="22.2" lengthAdjust="spacingAndGlyphs">0</tspan><tspan x="928.0" y="207.3" font-size="42.7" textLength="12.1" lengthAdjust="spacingAndGlyphs">.</tspan><tspan x="938.8" y="207.3" font-size="36.3" textLength="19.3" lengthAdjust="spacingAndGlyphs">8</tspan></text>
<text class="tk"><tspan x="976.4" y="947.9" font-size="28.6" textLength="22.2" lengthAdjust="spacingAndGlyphs">0</tspan></text>
<text class="tk"><tspan x="1135.6" y="947.9" font-size="28.6" textLength="22.2" lengthAdjust="spacingAndGlyphs">0</tspan><tspan x="1155.1" y="947.9" font-size="42.7" textLength="12.1" lengthAdjust="spacingAndGlyphs">.</tspan><tspan x="1165.9" y="947.9" font-size="28.6" textLength="19.1" lengthAdjust="spacingAndGlyphs">2</tspan></text>
<text class="tk"><tspan x="1309.0" y="947.9" font-size="28.6" textLength="22.2" lengthAdjust="spacingAndGlyphs">0</tspan><tspan x="1328.5" y="947.9" font-size="42.7" textLength="12.1" lengthAdjust="spacingAndGlyphs">.</tspan><tspan x="1337.9" y="953.2" font-size="36.5" textLength="20.4" lengthAdjust="spacingAndGlyphs">4</tspan></text>
<text class="tk"><tspan x="1482.4" y="947.9" font-size="28.6" textLength="22.2" lengthAdjust="spacingAndGlyphs">0</tspan><tspan x="1501.8" y="947.9" font-size="42.7" textLength="12.1" lengthAdjust="spacingAndGlyphs">.</tspan><tspan x="1512.5" y="947.9" font-size="36.3" textLength="19.7" lengthAdjust="spacingAndGlyphs">6</tspan></text>
<text class="tk"><tspan x="1655.8" y="947.9" font-size="28.6" textLength="22.2" lengthAdjust="spacingAndGlyphs">0</tspan><tspan x="1675.2" y="947.9" font-size="42.7" textLength="12.1" lengthAdjust="spacingAndGlyphs">.</tspan><tspan x="1686.1" y="947.9" font-size="36.3" textLength="19.3" lengthAdjust="spacingAndGlyphs">8</tspan></text>
<text transform="matrix(0.4191 0 0 0.4377 444.47 973.40)" font-family="'Liberation Sans',sans-serif" font-size="100">x</text>
<text transform="matrix(0.4102 0 0 0.4531 0.79 508.69)" font-family="'Liberation Sans',sans-serif" font-size="100">y</text>
<text class="san" font-size="36.5" x="1329.3" y="983.2">x</text>
<text transform="matrix(0.3714 0 0 0.4122 885.71 518.74)" font-family="'Liberation Sans',sans-serif" font-size="100">y</text>
<text class="ser" font-size="53" x="343.7" y="1031.2">(a)</text>
<text class="ser" font-size="53" x="1390.7" y="1031.2">(b)</text>
<rect x="538.5" y="108" width="188.5" height="42" fill="#fff"/><rect x="538.5" y="150" width="231.5" height="42.5" fill="#fff"/><rect x="538.5" y="192.5" width="229.5" height="40.5" fill="#fff"/><rect x="538.5" y="233" width="250.5" height="42.5" fill="#fff"/><rect x="538.5" y="275.5" width="230.5" height="42.5" fill="#fff"/><rect x="538.5" y="318" width="249.5" height="40" fill="#fff"/><rect x="496.5" y="314" width="42" height="38" fill="#fff"/>
<text class="lg" x="546" y="138.4" textLength="179.3" lengthAdjust="spacingAndGlyphs">ZO_394 nm</text>
<text class="lg" x="544.5" y="181.9" textLength="221" lengthAdjust="spacingAndGlyphs">ZC0.5_394 nm</text>
<text class="lg" x="544.5" y="220.8" textLength="219.4" lengthAdjust="spacingAndGlyphs">ZE0.5_394 nm</text>
<text class="lg" x="544.5" y="262.2" textLength="239.6" lengthAdjust="spacingAndGlyphs">ZCE0.5_394 nm</text>
<text class="lg" x="546.8" y="303.6" textLength="210.7" lengthAdjust="spacingAndGlyphs">ZCE1_394 nm</text>
<text class="lg" x="546.8" y="345" textLength="239.1" lengthAdjust="spacingAndGlyphs">ZCE1.5_394 nm</text>
<text transform="matrix(0.2239 0 0 0.3056 519.00 138.00)" font-family="'DejaVu Sans',sans-serif" font-size="100">∇</text><text transform="matrix(0.2931 0 0 0.2603 512.31 179.00)" font-family="'DejaVu Sans',sans-serif" font-size="100">♠</text><text transform="matrix(0.2963 0 0 0.2534 513.74 219.50)" font-family="'DejaVu Sans',sans-serif" font-size="100">♣</text><text transform="matrix(0.2928 0 0 0.2898 517.04 259.61)" font-family="'Liberation Sans',sans-serif" font-size="100">+</text><text transform="matrix(0.3061 0 0 0.3042 517.08 303.60)" font-family="'Liberation Sans',sans-serif" font-size="100">±</text><text transform="matrix(0.2979 0 0 0.2679 517.55 343.70)" font-family="'Liberation Sans',sans-serif" font-size="100">x</text>
<rect x="1423" y="121" width="184" height="35" fill="#fff"/><rect x="1423" y="160" width="229" height="37" fill="#fff"/><rect x="1423" y="200" width="229" height="38" fill="#fff"/><rect x="1423" y="244" width="246" height="39" fill="#fff"/><rect x="1423" y="288" width="223" height="36" fill="#fff"/><rect x="1423" y="328" width="246" height="38" fill="#fff"/>
<text class="lg" x="1426.2" y="149.1" textLength="178.3" lengthAdjust="spacingAndGlyphs">ZO_465 nm</text>
<text class="lg" x="1428.9" y="188.6" textLength="220" lengthAdjust="spacingAndGlyphs">ZC0.5_465 nm</text>
<text class="lg" x="1430.8" y="229.4" textLength="218.7" lengthAdjust="spacingAndGlyphs">ZE0.5_465 nm</text>
<text class="lg" x="1428.9" y="275" textLength="238" lengthAdjust="spacingAndGlyphs">ZCE0.5_465 nm</text>
<text class="lg" x="1432.9" y="316.2" textLength="210.3" lengthAdjust="spacingAndGlyphs">ZCE1_465 nm</text>
<text class="lg" x="1428.9" y="357.8" textLength="238" lengthAdjust="spacingAndGlyphs">ZCE1.5_465 nm</text>
<text transform="matrix(0.2612 0 0 0.3028 1402.20 147.80)" font-family="'DejaVu Sans',sans-serif" font-size="100">∇</text><text transform="matrix(0.2966 0 0 0.2342 1396.96 188.60)" font-family="'DejaVu Sans',sans-serif" font-size="100">♠</text><text transform="matrix(0.3067 0 0 0.2548 1398.33 230.80)" font-family="'DejaVu Sans',sans-serif" font-size="100">♣</text><text transform="matrix(0.3634 0 0 0.3674 1400.98 275.57)" font-family="'Liberation Serif',serif" font-size="100">+</text><text transform="matrix(0.3763 0 0 0.2964 1400.69 314.80)" font-family="'Liberation Serif',serif" font-size="100">±</text><text transform="matrix(0.3354 0 0 0.3253 1401.36 353.80)" font-family="'Liberation Serif',serif" font-size="100">x</text>
<text transform="matrix(0.2672 0 0 0.2356 259.32 513.00)" font-family="'DejaVu Sans',sans-serif" font-size="100">♠</text><text transform="matrix(0.3061 0 0 0.3294 309.28 482.60)" font-family="'Liberation Sans',sans-serif" stroke="#000" stroke-width="2.4" font-size="100">±</text><text transform="matrix(0.2340 0 0 0.3113 325.35 486.00)" font-family="'Liberation Sans',sans-serif" stroke="#000" stroke-width="2.4" font-size="100">x</text><text transform="matrix(0.3072 0 0 0.3082 292.56 521.77)" font-family="'Liberation Sans',sans-serif" stroke="#000" stroke-width="2.4" font-size="100">+</text><text transform="matrix(0.2090 0 0 0.2889 308.00 534.40)" font-family="'DejaVu Sans',sans-serif" stroke="#000" stroke-width="1.0" font-size="100">∇</text><text transform="matrix(0.2889 0 0 0.2808 312.82 531.00)" font-family="'DejaVu Sans',sans-serif" font-size="100">♣</text>
<text transform="matrix(0.2433 0 0 0.3056 1204.00 321.00)" font-family="'DejaVu Sans',sans-serif" font-size="100">∇</text><text transform="matrix(0.3419 0 0 0.3125 1209.13 327.50)" font-family="'Liberation Serif',serif" font-size="100">±</text><text transform="matrix(0.2904 0 0 0.2685 1233.71 356.00)" font-family="'DejaVu Sans',sans-serif" font-size="100">♣</text><text transform="matrix(0.3042 0 0 0.3626 1262.10 366.50)" font-family="'Liberation Serif',serif" font-size="100">x</text><text transform="matrix(0.3226 0 0 0.3261 1258.39 368.76)" font-family="'Liberation Serif',serif" font-size="100">+</text><text transform="matrix(0.2655 0 0 0.2493 1263.65 376.50)" font-family="'DejaVu Sans',sans-serif" font-size="100">♠</text>
</svg>
</body></html>
